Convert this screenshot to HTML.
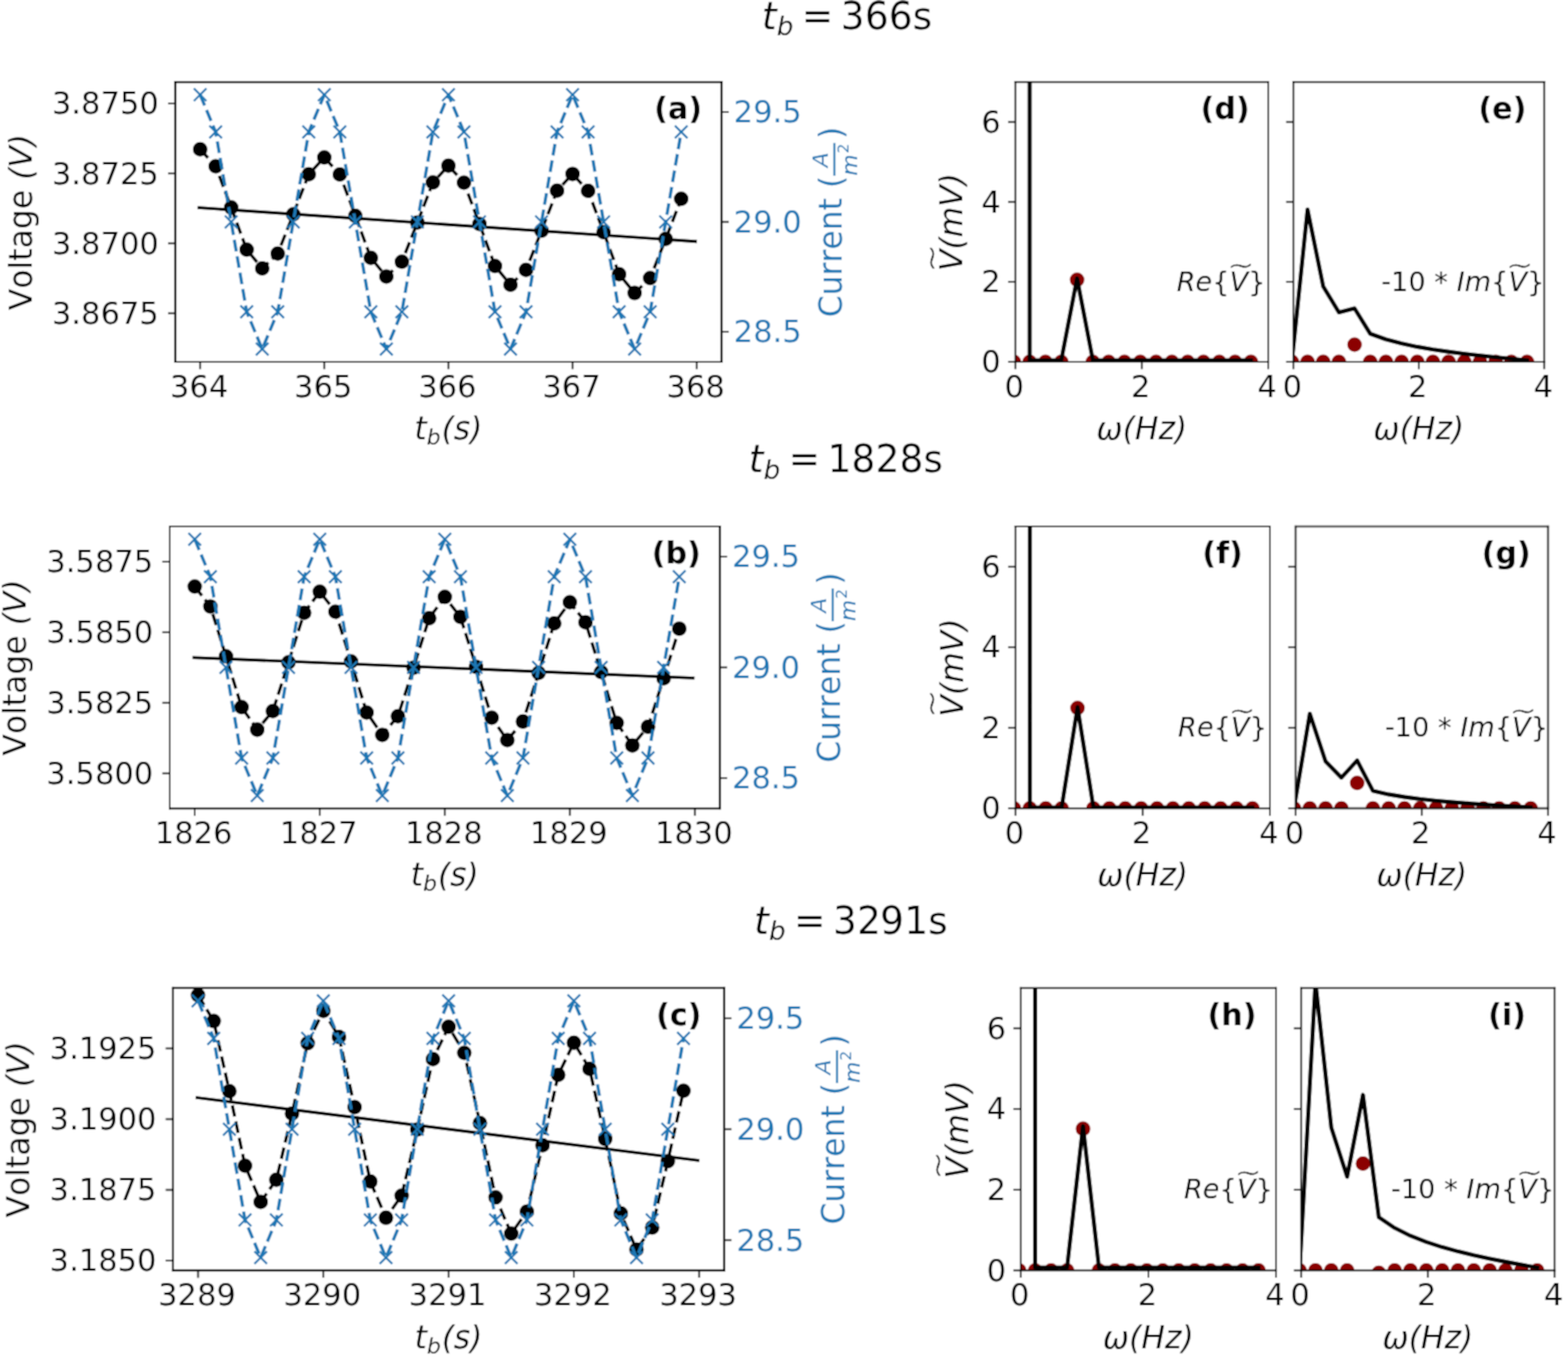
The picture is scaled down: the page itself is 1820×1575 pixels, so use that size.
<!DOCTYPE html>
<html><head><meta charset="utf-8"><title>figure</title>
<style>html,body{margin:0;padding:0;background:#fff;overflow:hidden;}svg{display:block;} #fig{width:1820px;height:1575px;overflow:hidden;}</style>
</head><body><div id="fig">
<svg width="1820" height="1575" viewBox="0 0 748.8 648" version="1.1"><defs><filter id="soft" x="0" y="0" width="748.8" height="648" filterUnits="userSpaceOnUse"><feConvolveMatrix order="3" kernelMatrix="1 2 1 2 4 2 1 2 1" divisor="16" edgeMode="duplicate" preserveAlpha="false"/></filter></defs><g filter="url(#soft)">
<defs>
<style type="text/css">*{stroke-linejoin: round; stroke-linecap: butt}</style>
</defs>
<g id="figure_1">
<g id="patch_1">
<path d="M 0 648 L 748.8 648 L 748.8 0 L 0 0 z
" style="fill: #ffffff"/>
</g>
<g id="axes_1">
<g id="patch_2">
<path d="M 83.725 172.758 L 344.571 172.758 L 344.571 39.168 L 83.725 39.168 z
" style="fill: #ffffff"/>
</g>
<g id="matplotlib.axis_1">
<g id="xtick_1">
<g id="line2d_1">
<g>
<path d="M 0 0 L 0 3.5 " style="stroke: #000000; stroke-width: 0.8" transform="translate(95.582 172.758)"/>
</g>
</g>
<g id="text_1">
<text style="font-size: 14.6px; font-family: 'DejaVu Sans', sans-serif; text-anchor: middle" x="95.082" y="189.602" transform="rotate(-0 95.082 189.602)">364</text>
</g>
</g>
<g id="xtick_2">
<g id="line2d_2">
<g>
<path d="M 0 0 L 0 3.5 " style="stroke: #000000; stroke-width: 0.8" transform="translate(154.865 172.758)"/>
</g>
</g>
<g id="text_2">
<text style="font-size: 14.6px; font-family: 'DejaVu Sans', sans-serif; text-anchor: middle" x="154.365" y="189.602" transform="rotate(-0 154.365 189.602)">365</text>
</g>
</g>
<g id="xtick_3">
<g id="line2d_3">
<g>
<path d="M 0 0 L 0 3.5 " style="stroke: #000000; stroke-width: 0.8" transform="translate(214.148 172.758)"/>
</g>
</g>
<g id="text_3">
<text style="font-size: 14.6px; font-family: 'DejaVu Sans', sans-serif; text-anchor: middle" x="213.649" y="189.602" transform="rotate(-0 213.649 189.602)">366</text>
</g>
</g>
<g id="xtick_4">
<g id="line2d_4">
<g>
<path d="M 0 0 L 0 3.5 " style="stroke: #000000; stroke-width: 0.8" transform="translate(273.431 172.758)"/>
</g>
</g>
<g id="text_4">
<text style="font-size: 14.6px; font-family: 'DejaVu Sans', sans-serif; text-anchor: middle" x="272.932" y="189.602" transform="rotate(-0 272.932 189.602)">367</text>
</g>
</g>
<g id="xtick_5">
<g id="line2d_5">
<g>
<path d="M 0 0 L 0 3.5 " style="stroke: #000000; stroke-width: 0.8" transform="translate(332.714 172.758)"/>
</g>
</g>
<g id="text_5">
<text style="font-size: 14.6px; font-family: 'DejaVu Sans', sans-serif; text-anchor: middle" x="332.215" y="189.602" transform="rotate(-0 332.215 189.602)">368</text>
</g>
</g>
<g id="text_6">
<g transform="translate(197.873 210.486)">
<text>
<tspan x="0" y="-0.625" style="font-style: oblique; font-size: 15px; font-family: 'DejaVu Sans', sans-serif">t</tspan>
<tspan x="18.808" y="-0.625" style="font-style: oblique; font-size: 15px; font-family: 'DejaVu Sans', sans-serif">s</tspan>
<tspan x="5.881" y="1.835" style="font-style: oblique; font-size: 10.5px; font-family: 'DejaVu Sans', sans-serif">b</tspan>
<tspan x="12.956" y="-0.625" style="font-style: oblique; font-size: 15px; font-family: 'DejaVu Sans', sans-serif">(</tspan>
<tspan x="26.623" y="-0.625" style="font-style: oblique; font-size: 15px; font-family: 'DejaVu Sans', sans-serif">)</tspan>
</text>
</g>
</g>
</g>
<g id="matplotlib.axis_2">
<g id="ytick_1">
<g id="line2d_6">
<g>
<path d="M 0 0 L -3.5 0 " style="stroke: #000000; stroke-width: 0.8" transform="translate(83.725 149.596)"/>
</g>
</g>
<g id="text_7">
<text style="font-size: 14.6px; font-family: 'DejaVu Sans', sans-serif; text-anchor: end" x="75.865" y="154.643" transform="rotate(-0 75.865 154.643)">3.8675</text>
</g>
</g>
<g id="ytick_2">
<g id="line2d_7">
<g>
<path d="M 0 0 L -3.5 0 " style="stroke: #000000; stroke-width: 0.8" transform="translate(83.725 116.201)"/>
</g>
</g>
<g id="text_8">
<text style="font-size: 14.6px; font-family: 'DejaVu Sans', sans-serif; text-anchor: end" x="75.865" y="121.249" transform="rotate(-0 75.865 121.249)">3.8700</text>
</g>
</g>
<g id="ytick_3">
<g id="line2d_8">
<g>
<path d="M 0 0 L -3.5 0 " style="stroke: #000000; stroke-width: 0.8" transform="translate(83.725 82.807)"/>
</g>
</g>
<g id="text_9">
<text style="font-size: 14.6px; font-family: 'DejaVu Sans', sans-serif; text-anchor: end" x="75.865" y="87.854" transform="rotate(-0 75.865 87.854)">3.8725</text>
</g>
</g>
<g id="ytick_4">
<g id="line2d_9">
<g>
<path d="M 0 0 L -3.5 0 " style="stroke: #000000; stroke-width: 0.8" transform="translate(83.725 49.412)"/>
</g>
</g>
<g id="text_10">
<text style="font-size: 14.6px; font-family: 'DejaVu Sans', sans-serif; text-anchor: end" x="75.865" y="54.459" transform="rotate(-0 75.865 54.459)">3.8750</text>
</g>
</g>
<g id="text_11">
<g transform="translate(15.679 148.113) rotate(-90)">
<text>
<tspan x="0" y="-0.609" style="font-size: 15px; font-family: 'DejaVu Sans', sans-serif">V</tspan>
<tspan x="10.261" y="-0.609" style="font-size: 15px; font-family: 'DejaVu Sans', sans-serif">o</tspan>
<tspan x="19.438" y="-0.609" style="font-size: 15px; font-family: 'DejaVu Sans', sans-serif">l</tspan>
<tspan x="23.605" y="-0.609" style="font-size: 15px; font-family: 'DejaVu Sans', sans-serif">t</tspan>
<tspan x="29.487" y="-0.609" style="font-size: 15px; font-family: 'DejaVu Sans', sans-serif">a</tspan>
<tspan x="38.679" y="-0.609" style="font-size: 15px; font-family: 'DejaVu Sans', sans-serif">g</tspan>
<tspan x="48.200" y="-0.609" style="font-size: 15px; font-family: 'DejaVu Sans', sans-serif">e</tspan>
<tspan x="57.429" y="-0.609" style="font-size: 15px; font-family: 'DejaVu Sans', sans-serif"> </tspan>
<tspan x="62.197" y="-0.609" style="font-style: oblique; font-size: 15px; font-family: 'DejaVu Sans', sans-serif">(</tspan>
<tspan x="78.310" y="-0.609" style="font-style: oblique; font-size: 15px; font-family: 'DejaVu Sans', sans-serif">)</tspan>
<tspan x="68.049" y="-0.609" style="font-style: oblique; font-size: 15px; font-family: 'DejaVu Sans', sans-serif">V</tspan>
</text>
</g>
</g>
</g>
<g id="line2d_10">
<path d="M 95.582 71.299 L 102.992 79.383 L 110.403 99.102 L 117.813 119.192 L 125.223 128.173 L 132.634 121.069 L 140.044 102.330 L 147.455 83.220 L 154.865 75.219 L 162.275 83.303 L 169.686 103.022 L 177.096 123.113 L 184.507 132.093 L 191.917 124.989 L 199.327 106.250 L 206.738 87.140 L 214.148 79.139 L 221.558 87.223 L 228.969 106.942 L 236.379 127.033 L 243.790 136.013 L 251.200 128.909 L 258.610 110.170 L 266.021 91.060 L 273.431 83.060 L 280.842 91.143 L 288.252 110.862 L 295.662 130.953 L 303.073 139.933 L 310.483 132.829 L 317.894 114.090 L 325.304 94.980 " clip-path="url(#p43261beec4)" style="fill: none; stroke-dasharray: 5.55,2.4; stroke-dashoffset: 0; stroke: #000000; stroke-width: 1.5"/>
<g clip-path="url(#p43261beec4)">
<path d="M 0 3 C 0.795 3 1.558 2.683 2.121 2.121 C 2.683 1.558 3 0.795 3 0 C 3 -0.795 2.683 -1.558 2.121 -2.121 C 1.558 -2.683 0.795 -3 0 -3 C -0.795 -3 -1.558 -2.683 -2.121 -2.121 C -2.683 -1.558 -3 -0.795 -3 0 C -3 0.795 -2.683 1.558 -2.121 2.121 C -1.558 2.683 -0.795 3 0 3 z
" style="stroke: #000000" transform="translate(95.582 71.299)"/>
<path d="M 0 3 C 0.795 3 1.558 2.683 2.121 2.121 C 2.683 1.558 3 0.795 3 0 C 3 -0.795 2.683 -1.558 2.121 -2.121 C 1.558 -2.683 0.795 -3 0 -3 C -0.795 -3 -1.558 -2.683 -2.121 -2.121 C -2.683 -1.558 -3 -0.795 -3 0 C -3 0.795 -2.683 1.558 -2.121 2.121 C -1.558 2.683 -0.795 3 0 3 z
" style="stroke: #000000" transform="translate(102.992 79.383)"/>
<path d="M 0 3 C 0.795 3 1.558 2.683 2.121 2.121 C 2.683 1.558 3 0.795 3 0 C 3 -0.795 2.683 -1.558 2.121 -2.121 C 1.558 -2.683 0.795 -3 0 -3 C -0.795 -3 -1.558 -2.683 -2.121 -2.121 C -2.683 -1.558 -3 -0.795 -3 0 C -3 0.795 -2.683 1.558 -2.121 2.121 C -1.558 2.683 -0.795 3 0 3 z
" style="stroke: #000000" transform="translate(110.403 99.102)"/>
<path d="M 0 3 C 0.795 3 1.558 2.683 2.121 2.121 C 2.683 1.558 3 0.795 3 0 C 3 -0.795 2.683 -1.558 2.121 -2.121 C 1.558 -2.683 0.795 -3 0 -3 C -0.795 -3 -1.558 -2.683 -2.121 -2.121 C -2.683 -1.558 -3 -0.795 -3 0 C -3 0.795 -2.683 1.558 -2.121 2.121 C -1.558 2.683 -0.795 3 0 3 z
" style="stroke: #000000" transform="translate(117.813 119.192)"/>
<path d="M 0 3 C 0.795 3 1.558 2.683 2.121 2.121 C 2.683 1.558 3 0.795 3 0 C 3 -0.795 2.683 -1.558 2.121 -2.121 C 1.558 -2.683 0.795 -3 0 -3 C -0.795 -3 -1.558 -2.683 -2.121 -2.121 C -2.683 -1.558 -3 -0.795 -3 0 C -3 0.795 -2.683 1.558 -2.121 2.121 C -1.558 2.683 -0.795 3 0 3 z
" style="stroke: #000000" transform="translate(125.223 128.173)"/>
<path d="M 0 3 C 0.795 3 1.558 2.683 2.121 2.121 C 2.683 1.558 3 0.795 3 0 C 3 -0.795 2.683 -1.558 2.121 -2.121 C 1.558 -2.683 0.795 -3 0 -3 C -0.795 -3 -1.558 -2.683 -2.121 -2.121 C -2.683 -1.558 -3 -0.795 -3 0 C -3 0.795 -2.683 1.558 -2.121 2.121 C -1.558 2.683 -0.795 3 0 3 z
" style="stroke: #000000" transform="translate(132.634 121.069)"/>
<path d="M 0 3 C 0.795 3 1.558 2.683 2.121 2.121 C 2.683 1.558 3 0.795 3 0 C 3 -0.795 2.683 -1.558 2.121 -2.121 C 1.558 -2.683 0.795 -3 0 -3 C -0.795 -3 -1.558 -2.683 -2.121 -2.121 C -2.683 -1.558 -3 -0.795 -3 0 C -3 0.795 -2.683 1.558 -2.121 2.121 C -1.558 2.683 -0.795 3 0 3 z
" style="stroke: #000000" transform="translate(140.044 102.330)"/>
<path d="M 0 3 C 0.795 3 1.558 2.683 2.121 2.121 C 2.683 1.558 3 0.795 3 0 C 3 -0.795 2.683 -1.558 2.121 -2.121 C 1.558 -2.683 0.795 -3 0 -3 C -0.795 -3 -1.558 -2.683 -2.121 -2.121 C -2.683 -1.558 -3 -0.795 -3 0 C -3 0.795 -2.683 1.558 -2.121 2.121 C -1.558 2.683 -0.795 3 0 3 z
" style="stroke: #000000" transform="translate(147.455 83.220)"/>
<path d="M 0 3 C 0.795 3 1.558 2.683 2.121 2.121 C 2.683 1.558 3 0.795 3 0 C 3 -0.795 2.683 -1.558 2.121 -2.121 C 1.558 -2.683 0.795 -3 0 -3 C -0.795 -3 -1.558 -2.683 -2.121 -2.121 C -2.683 -1.558 -3 -0.795 -3 0 C -3 0.795 -2.683 1.558 -2.121 2.121 C -1.558 2.683 -0.795 3 0 3 z
" style="stroke: #000000" transform="translate(154.865 75.219)"/>
<path d="M 0 3 C 0.795 3 1.558 2.683 2.121 2.121 C 2.683 1.558 3 0.795 3 0 C 3 -0.795 2.683 -1.558 2.121 -2.121 C 1.558 -2.683 0.795 -3 0 -3 C -0.795 -3 -1.558 -2.683 -2.121 -2.121 C -2.683 -1.558 -3 -0.795 -3 0 C -3 0.795 -2.683 1.558 -2.121 2.121 C -1.558 2.683 -0.795 3 0 3 z
" style="stroke: #000000" transform="translate(162.275 83.303)"/>
<path d="M 0 3 C 0.795 3 1.558 2.683 2.121 2.121 C 2.683 1.558 3 0.795 3 0 C 3 -0.795 2.683 -1.558 2.121 -2.121 C 1.558 -2.683 0.795 -3 0 -3 C -0.795 -3 -1.558 -2.683 -2.121 -2.121 C -2.683 -1.558 -3 -0.795 -3 0 C -3 0.795 -2.683 1.558 -2.121 2.121 C -1.558 2.683 -0.795 3 0 3 z
" style="stroke: #000000" transform="translate(169.686 103.022)"/>
<path d="M 0 3 C 0.795 3 1.558 2.683 2.121 2.121 C 2.683 1.558 3 0.795 3 0 C 3 -0.795 2.683 -1.558 2.121 -2.121 C 1.558 -2.683 0.795 -3 0 -3 C -0.795 -3 -1.558 -2.683 -2.121 -2.121 C -2.683 -1.558 -3 -0.795 -3 0 C -3 0.795 -2.683 1.558 -2.121 2.121 C -1.558 2.683 -0.795 3 0 3 z
" style="stroke: #000000" transform="translate(177.096 123.113)"/>
<path d="M 0 3 C 0.795 3 1.558 2.683 2.121 2.121 C 2.683 1.558 3 0.795 3 0 C 3 -0.795 2.683 -1.558 2.121 -2.121 C 1.558 -2.683 0.795 -3 0 -3 C -0.795 -3 -1.558 -2.683 -2.121 -2.121 C -2.683 -1.558 -3 -0.795 -3 0 C -3 0.795 -2.683 1.558 -2.121 2.121 C -1.558 2.683 -0.795 3 0 3 z
" style="stroke: #000000" transform="translate(184.507 132.093)"/>
<path d="M 0 3 C 0.795 3 1.558 2.683 2.121 2.121 C 2.683 1.558 3 0.795 3 0 C 3 -0.795 2.683 -1.558 2.121 -2.121 C 1.558 -2.683 0.795 -3 0 -3 C -0.795 -3 -1.558 -2.683 -2.121 -2.121 C -2.683 -1.558 -3 -0.795 -3 0 C -3 0.795 -2.683 1.558 -2.121 2.121 C -1.558 2.683 -0.795 3 0 3 z
" style="stroke: #000000" transform="translate(191.917 124.989)"/>
<path d="M 0 3 C 0.795 3 1.558 2.683 2.121 2.121 C 2.683 1.558 3 0.795 3 0 C 3 -0.795 2.683 -1.558 2.121 -2.121 C 1.558 -2.683 0.795 -3 0 -3 C -0.795 -3 -1.558 -2.683 -2.121 -2.121 C -2.683 -1.558 -3 -0.795 -3 0 C -3 0.795 -2.683 1.558 -2.121 2.121 C -1.558 2.683 -0.795 3 0 3 z
" style="stroke: #000000" transform="translate(199.327 106.250)"/>
<path d="M 0 3 C 0.795 3 1.558 2.683 2.121 2.121 C 2.683 1.558 3 0.795 3 0 C 3 -0.795 2.683 -1.558 2.121 -2.121 C 1.558 -2.683 0.795 -3 0 -3 C -0.795 -3 -1.558 -2.683 -2.121 -2.121 C -2.683 -1.558 -3 -0.795 -3 0 C -3 0.795 -2.683 1.558 -2.121 2.121 C -1.558 2.683 -0.795 3 0 3 z
" style="stroke: #000000" transform="translate(206.738 87.140)"/>
<path d="M 0 3 C 0.795 3 1.558 2.683 2.121 2.121 C 2.683 1.558 3 0.795 3 0 C 3 -0.795 2.683 -1.558 2.121 -2.121 C 1.558 -2.683 0.795 -3 0 -3 C -0.795 -3 -1.558 -2.683 -2.121 -2.121 C -2.683 -1.558 -3 -0.795 -3 0 C -3 0.795 -2.683 1.558 -2.121 2.121 C -1.558 2.683 -0.795 3 0 3 z
" style="stroke: #000000" transform="translate(214.148 79.139)"/>
<path d="M 0 3 C 0.795 3 1.558 2.683 2.121 2.121 C 2.683 1.558 3 0.795 3 0 C 3 -0.795 2.683 -1.558 2.121 -2.121 C 1.558 -2.683 0.795 -3 0 -3 C -0.795 -3 -1.558 -2.683 -2.121 -2.121 C -2.683 -1.558 -3 -0.795 -3 0 C -3 0.795 -2.683 1.558 -2.121 2.121 C -1.558 2.683 -0.795 3 0 3 z
" style="stroke: #000000" transform="translate(221.558 87.223)"/>
<path d="M 0 3 C 0.795 3 1.558 2.683 2.121 2.121 C 2.683 1.558 3 0.795 3 0 C 3 -0.795 2.683 -1.558 2.121 -2.121 C 1.558 -2.683 0.795 -3 0 -3 C -0.795 -3 -1.558 -2.683 -2.121 -2.121 C -2.683 -1.558 -3 -0.795 -3 0 C -3 0.795 -2.683 1.558 -2.121 2.121 C -1.558 2.683 -0.795 3 0 3 z
" style="stroke: #000000" transform="translate(228.969 106.942)"/>
<path d="M 0 3 C 0.795 3 1.558 2.683 2.121 2.121 C 2.683 1.558 3 0.795 3 0 C 3 -0.795 2.683 -1.558 2.121 -2.121 C 1.558 -2.683 0.795 -3 0 -3 C -0.795 -3 -1.558 -2.683 -2.121 -2.121 C -2.683 -1.558 -3 -0.795 -3 0 C -3 0.795 -2.683 1.558 -2.121 2.121 C -1.558 2.683 -0.795 3 0 3 z
" style="stroke: #000000" transform="translate(236.379 127.033)"/>
<path d="M 0 3 C 0.795 3 1.558 2.683 2.121 2.121 C 2.683 1.558 3 0.795 3 0 C 3 -0.795 2.683 -1.558 2.121 -2.121 C 1.558 -2.683 0.795 -3 0 -3 C -0.795 -3 -1.558 -2.683 -2.121 -2.121 C -2.683 -1.558 -3 -0.795 -3 0 C -3 0.795 -2.683 1.558 -2.121 2.121 C -1.558 2.683 -0.795 3 0 3 z
" style="stroke: #000000" transform="translate(243.790 136.013)"/>
<path d="M 0 3 C 0.795 3 1.558 2.683 2.121 2.121 C 2.683 1.558 3 0.795 3 0 C 3 -0.795 2.683 -1.558 2.121 -2.121 C 1.558 -2.683 0.795 -3 0 -3 C -0.795 -3 -1.558 -2.683 -2.121 -2.121 C -2.683 -1.558 -3 -0.795 -3 0 C -3 0.795 -2.683 1.558 -2.121 2.121 C -1.558 2.683 -0.795 3 0 3 z
" style="stroke: #000000" transform="translate(251.200 128.909)"/>
<path d="M 0 3 C 0.795 3 1.558 2.683 2.121 2.121 C 2.683 1.558 3 0.795 3 0 C 3 -0.795 2.683 -1.558 2.121 -2.121 C 1.558 -2.683 0.795 -3 0 -3 C -0.795 -3 -1.558 -2.683 -2.121 -2.121 C -2.683 -1.558 -3 -0.795 -3 0 C -3 0.795 -2.683 1.558 -2.121 2.121 C -1.558 2.683 -0.795 3 0 3 z
" style="stroke: #000000" transform="translate(258.610 110.170)"/>
<path d="M 0 3 C 0.795 3 1.558 2.683 2.121 2.121 C 2.683 1.558 3 0.795 3 0 C 3 -0.795 2.683 -1.558 2.121 -2.121 C 1.558 -2.683 0.795 -3 0 -3 C -0.795 -3 -1.558 -2.683 -2.121 -2.121 C -2.683 -1.558 -3 -0.795 -3 0 C -3 0.795 -2.683 1.558 -2.121 2.121 C -1.558 2.683 -0.795 3 0 3 z
" style="stroke: #000000" transform="translate(266.021 91.060)"/>
<path d="M 0 3 C 0.795 3 1.558 2.683 2.121 2.121 C 2.683 1.558 3 0.795 3 0 C 3 -0.795 2.683 -1.558 2.121 -2.121 C 1.558 -2.683 0.795 -3 0 -3 C -0.795 -3 -1.558 -2.683 -2.121 -2.121 C -2.683 -1.558 -3 -0.795 -3 0 C -3 0.795 -2.683 1.558 -2.121 2.121 C -1.558 2.683 -0.795 3 0 3 z
" style="stroke: #000000" transform="translate(273.431 83.060)"/>
<path d="M 0 3 C 0.795 3 1.558 2.683 2.121 2.121 C 2.683 1.558 3 0.795 3 0 C 3 -0.795 2.683 -1.558 2.121 -2.121 C 1.558 -2.683 0.795 -3 0 -3 C -0.795 -3 -1.558 -2.683 -2.121 -2.121 C -2.683 -1.558 -3 -0.795 -3 0 C -3 0.795 -2.683 1.558 -2.121 2.121 C -1.558 2.683 -0.795 3 0 3 z
" style="stroke: #000000" transform="translate(280.842 91.143)"/>
<path d="M 0 3 C 0.795 3 1.558 2.683 2.121 2.121 C 2.683 1.558 3 0.795 3 0 C 3 -0.795 2.683 -1.558 2.121 -2.121 C 1.558 -2.683 0.795 -3 0 -3 C -0.795 -3 -1.558 -2.683 -2.121 -2.121 C -2.683 -1.558 -3 -0.795 -3 0 C -3 0.795 -2.683 1.558 -2.121 2.121 C -1.558 2.683 -0.795 3 0 3 z
" style="stroke: #000000" transform="translate(288.252 110.862)"/>
<path d="M 0 3 C 0.795 3 1.558 2.683 2.121 2.121 C 2.683 1.558 3 0.795 3 0 C 3 -0.795 2.683 -1.558 2.121 -2.121 C 1.558 -2.683 0.795 -3 0 -3 C -0.795 -3 -1.558 -2.683 -2.121 -2.121 C -2.683 -1.558 -3 -0.795 -3 0 C -3 0.795 -2.683 1.558 -2.121 2.121 C -1.558 2.683 -0.795 3 0 3 z
" style="stroke: #000000" transform="translate(295.662 130.953)"/>
<path d="M 0 3 C 0.795 3 1.558 2.683 2.121 2.121 C 2.683 1.558 3 0.795 3 0 C 3 -0.795 2.683 -1.558 2.121 -2.121 C 1.558 -2.683 0.795 -3 0 -3 C -0.795 -3 -1.558 -2.683 -2.121 -2.121 C -2.683 -1.558 -3 -0.795 -3 0 C -3 0.795 -2.683 1.558 -2.121 2.121 C -1.558 2.683 -0.795 3 0 3 z
" style="stroke: #000000" transform="translate(303.073 139.933)"/>
<path d="M 0 3 C 0.795 3 1.558 2.683 2.121 2.121 C 2.683 1.558 3 0.795 3 0 C 3 -0.795 2.683 -1.558 2.121 -2.121 C 1.558 -2.683 0.795 -3 0 -3 C -0.795 -3 -1.558 -2.683 -2.121 -2.121 C -2.683 -1.558 -3 -0.795 -3 0 C -3 0.795 -2.683 1.558 -2.121 2.121 C -1.558 2.683 -0.795 3 0 3 z
" style="stroke: #000000" transform="translate(310.483 132.829)"/>
<path d="M 0 3 C 0.795 3 1.558 2.683 2.121 2.121 C 2.683 1.558 3 0.795 3 0 C 3 -0.795 2.683 -1.558 2.121 -2.121 C 1.558 -2.683 0.795 -3 0 -3 C -0.795 -3 -1.558 -2.683 -2.121 -2.121 C -2.683 -1.558 -3 -0.795 -3 0 C -3 0.795 -2.683 1.558 -2.121 2.121 C -1.558 2.683 -0.795 3 0 3 z
" style="stroke: #000000" transform="translate(317.894 114.090)"/>
<path d="M 0 3 C 0.795 3 1.558 2.683 2.121 2.121 C 2.683 1.558 3 0.795 3 0 C 3 -0.795 2.683 -1.558 2.121 -2.121 C 1.558 -2.683 0.795 -3 0 -3 C -0.795 -3 -1.558 -2.683 -2.121 -2.121 C -2.683 -1.558 -3 -0.795 -3 0 C -3 0.795 -2.683 1.558 -2.121 2.121 C -1.558 2.683 -0.795 3 0 3 z
" style="stroke: #000000" transform="translate(325.304 94.980)"/>
</g>
</g>
<g id="line2d_11">
<path d="M 95.090 99.195 L 332.095 115.282 " clip-path="url(#p43261beec4)" style="fill: none; stroke: #000000; stroke-width: 1.5; stroke-linecap: square"/>
</g>
<g id="patch_3">
<path d="M 83.725 172.758 L 83.725 39.168 " style="fill: none; stroke: #000000; stroke-width: 0.8; stroke-linejoin: miter; stroke-linecap: square"/>
</g>
<g id="patch_4">
<path d="M 344.571 172.758 L 344.571 39.168 " style="fill: none; stroke: #000000; stroke-width: 0.8; stroke-linejoin: miter; stroke-linecap: square"/>
</g>
<g id="patch_5">
<path d="M 83.725 172.758 L 344.571 172.758 " style="fill: none; stroke: #000000; stroke-width: 0.8; stroke-linejoin: miter; stroke-linecap: square"/>
</g>
<g id="patch_6">
<path d="M 83.725 39.168 L 344.571 39.168 " style="fill: none; stroke: #000000; stroke-width: 0.8; stroke-linejoin: miter; stroke-linecap: square"/>
</g>
</g>
<g id="axes_2">
<g id="matplotlib.axis_3">
<g id="ytick_5">
<g id="line2d_12">
<g>
<path d="M 0 0 L 3.5 0 " style="stroke: #000000; stroke-width: 0.8" transform="translate(344.571 158.437)"/>
</g>
</g>
<g id="text_12">
<text style="font-size: 14.6px; font-family: 'DejaVu Sans', sans-serif; text-anchor: start; fill: #1f77b4" x="350.371" y="163.484" transform="rotate(-0 350.371 163.484)">28.5</text>
</g>
</g>
<g id="ytick_6">
<g id="line2d_13">
<g>
<path d="M 0 0 L 3.5 0 " style="stroke: #000000; stroke-width: 0.8" transform="translate(344.571 105.963)"/>
</g>
</g>
<g id="text_13">
<text style="font-size: 14.6px; font-family: 'DejaVu Sans', sans-serif; text-anchor: start; fill: #1f77b4" x="350.371" y="111.010" transform="rotate(-0 350.371 111.010)">29.0</text>
</g>
</g>
<g id="ytick_7">
<g id="line2d_14">
<g>
<path d="M 0 0 L 3.5 0 " style="stroke: #000000; stroke-width: 0.8" transform="translate(344.571 53.489)"/>
</g>
</g>
<g id="text_14">
<text style="font-size: 14.6px; font-family: 'DejaVu Sans', sans-serif; text-anchor: start; fill: #1f77b4" x="350.371" y="58.536" transform="rotate(-0 350.371 58.536)">29.5</text>
</g>
</g>
<g id="text_15">
<g style="fill: #1f77b4" transform="translate(402.579 151.488) rotate(-90)">
<text>
<tspan x="0" y="-0.773" style="font-size: 15px; font-family: 'DejaVu Sans', sans-serif; fill: #1f77b4">C</tspan>
<tspan x="10.473" y="-0.773" style="font-size: 15px; font-family: 'DejaVu Sans', sans-serif; fill: #1f77b4">u</tspan>
<tspan x="19.980" y="-0.773" style="font-size: 15px; font-family: 'DejaVu Sans', sans-serif; fill: #1f77b4">r</tspan>
<tspan x="26.147" y="-0.773" style="font-size: 15px; font-family: 'DejaVu Sans', sans-serif; fill: #1f77b4">r</tspan>
<tspan x="32.314" y="-0.773" style="font-size: 15px; font-family: 'DejaVu Sans', sans-serif; fill: #1f77b4">e</tspan>
<tspan x="41.542" y="-0.773" style="font-size: 15px; font-family: 'DejaVu Sans', sans-serif; fill: #1f77b4">n</tspan>
<tspan x="51.049" y="-0.773" style="font-size: 15px; font-family: 'DejaVu Sans', sans-serif; fill: #1f77b4">t</tspan>
<tspan x="56.931" y="-0.773" style="font-size: 15px; font-family: 'DejaVu Sans', sans-serif; fill: #1f77b4"> </tspan>
<tspan x="61.699" y="-0.773" style="font-size: 15px; font-family: 'DejaVu Sans', sans-serif; fill: #1f77b4">(</tspan>
<tspan x="85.106" y="-0.773" style="font-size: 15px; font-family: 'DejaVu Sans', sans-serif; fill: #1f77b4">)</tspan>
<tspan x="67.551" y="6.822" style="font-style: oblique; font-size: 10.5px; font-family: 'DejaVu Sans', sans-serif; fill: #1f77b4">m</tspan>
<tspan x="71.551" y="-7.343" style="font-style: oblique; font-size: 10.5px; font-family: 'DejaVu Sans', sans-serif; fill: #1f77b4">A</tspan>
<tspan x="78.268" y="2.802" style="font-size: 7.35px; font-family: 'DejaVu Sans', sans-serif; fill: #1f77b4">2</tspan>
</text>
<rect x="67.551" y="-4.593" width="15.680" height="0.937"/>
</g>
</g>
</g>
<g id="line2d_15">
<path d="M 95.582 45.240 L 102.992 63.025 L 110.403 105.963 L 117.813 148.901 L 125.223 166.686 L 132.634 148.901 L 140.044 105.963 L 147.455 63.025 L 154.865 45.240 L 162.275 63.025 L 169.686 105.963 L 177.096 148.901 L 184.507 166.686 L 191.917 148.901 L 199.327 105.963 L 206.738 63.025 L 214.148 45.240 L 221.558 63.025 L 228.969 105.963 L 236.379 148.901 L 243.790 166.686 L 251.200 148.901 L 258.610 105.963 L 266.021 63.025 L 273.431 45.240 L 280.842 63.025 L 288.252 105.963 L 295.662 148.901 L 303.073 166.686 L 310.483 148.901 L 317.894 105.963 L 325.304 63.025 " clip-path="url(#pedec864f1b)" style="fill: none; stroke-dasharray: 5.55,2.4; stroke-dashoffset: 0; stroke: #1f77b4; stroke-width: 1.5"/>
<g clip-path="url(#pedec864f1b)">
<path d="M -3 3 L 3 -3 M -3 -3 L 3 3 " style="fill: #1f77b4; stroke: #1f77b4" transform="translate(95.582 45.240)"/>
<path d="M -3 3 L 3 -3 M -3 -3 L 3 3 " style="fill: #1f77b4; stroke: #1f77b4" transform="translate(102.992 63.025)"/>
<path d="M -3 3 L 3 -3 M -3 -3 L 3 3 " style="fill: #1f77b4; stroke: #1f77b4" transform="translate(110.403 105.963)"/>
<path d="M -3 3 L 3 -3 M -3 -3 L 3 3 " style="fill: #1f77b4; stroke: #1f77b4" transform="translate(117.813 148.901)"/>
<path d="M -3 3 L 3 -3 M -3 -3 L 3 3 " style="fill: #1f77b4; stroke: #1f77b4" transform="translate(125.223 166.686)"/>
<path d="M -3 3 L 3 -3 M -3 -3 L 3 3 " style="fill: #1f77b4; stroke: #1f77b4" transform="translate(132.634 148.901)"/>
<path d="M -3 3 L 3 -3 M -3 -3 L 3 3 " style="fill: #1f77b4; stroke: #1f77b4" transform="translate(140.044 105.963)"/>
<path d="M -3 3 L 3 -3 M -3 -3 L 3 3 " style="fill: #1f77b4; stroke: #1f77b4" transform="translate(147.455 63.025)"/>
<path d="M -3 3 L 3 -3 M -3 -3 L 3 3 " style="fill: #1f77b4; stroke: #1f77b4" transform="translate(154.865 45.240)"/>
<path d="M -3 3 L 3 -3 M -3 -3 L 3 3 " style="fill: #1f77b4; stroke: #1f77b4" transform="translate(162.275 63.025)"/>
<path d="M -3 3 L 3 -3 M -3 -3 L 3 3 " style="fill: #1f77b4; stroke: #1f77b4" transform="translate(169.686 105.963)"/>
<path d="M -3 3 L 3 -3 M -3 -3 L 3 3 " style="fill: #1f77b4; stroke: #1f77b4" transform="translate(177.096 148.901)"/>
<path d="M -3 3 L 3 -3 M -3 -3 L 3 3 " style="fill: #1f77b4; stroke: #1f77b4" transform="translate(184.507 166.686)"/>
<path d="M -3 3 L 3 -3 M -3 -3 L 3 3 " style="fill: #1f77b4; stroke: #1f77b4" transform="translate(191.917 148.901)"/>
<path d="M -3 3 L 3 -3 M -3 -3 L 3 3 " style="fill: #1f77b4; stroke: #1f77b4" transform="translate(199.327 105.963)"/>
<path d="M -3 3 L 3 -3 M -3 -3 L 3 3 " style="fill: #1f77b4; stroke: #1f77b4" transform="translate(206.738 63.025)"/>
<path d="M -3 3 L 3 -3 M -3 -3 L 3 3 " style="fill: #1f77b4; stroke: #1f77b4" transform="translate(214.148 45.240)"/>
<path d="M -3 3 L 3 -3 M -3 -3 L 3 3 " style="fill: #1f77b4; stroke: #1f77b4" transform="translate(221.558 63.025)"/>
<path d="M -3 3 L 3 -3 M -3 -3 L 3 3 " style="fill: #1f77b4; stroke: #1f77b4" transform="translate(228.969 105.963)"/>
<path d="M -3 3 L 3 -3 M -3 -3 L 3 3 " style="fill: #1f77b4; stroke: #1f77b4" transform="translate(236.379 148.901)"/>
<path d="M -3 3 L 3 -3 M -3 -3 L 3 3 " style="fill: #1f77b4; stroke: #1f77b4" transform="translate(243.790 166.686)"/>
<path d="M -3 3 L 3 -3 M -3 -3 L 3 3 " style="fill: #1f77b4; stroke: #1f77b4" transform="translate(251.200 148.901)"/>
<path d="M -3 3 L 3 -3 M -3 -3 L 3 3 " style="fill: #1f77b4; stroke: #1f77b4" transform="translate(258.610 105.963)"/>
<path d="M -3 3 L 3 -3 M -3 -3 L 3 3 " style="fill: #1f77b4; stroke: #1f77b4" transform="translate(266.021 63.025)"/>
<path d="M -3 3 L 3 -3 M -3 -3 L 3 3 " style="fill: #1f77b4; stroke: #1f77b4" transform="translate(273.431 45.240)"/>
<path d="M -3 3 L 3 -3 M -3 -3 L 3 3 " style="fill: #1f77b4; stroke: #1f77b4" transform="translate(280.842 63.025)"/>
<path d="M -3 3 L 3 -3 M -3 -3 L 3 3 " style="fill: #1f77b4; stroke: #1f77b4" transform="translate(288.252 105.963)"/>
<path d="M -3 3 L 3 -3 M -3 -3 L 3 3 " style="fill: #1f77b4; stroke: #1f77b4" transform="translate(295.662 148.901)"/>
<path d="M -3 3 L 3 -3 M -3 -3 L 3 3 " style="fill: #1f77b4; stroke: #1f77b4" transform="translate(303.073 166.686)"/>
<path d="M -3 3 L 3 -3 M -3 -3 L 3 3 " style="fill: #1f77b4; stroke: #1f77b4" transform="translate(310.483 148.901)"/>
<path d="M -3 3 L 3 -3 M -3 -3 L 3 3 " style="fill: #1f77b4; stroke: #1f77b4" transform="translate(317.894 105.963)"/>
<path d="M -3 3 L 3 -3 M -3 -3 L 3 3 " style="fill: #1f77b4; stroke: #1f77b4" transform="translate(325.304 63.025)"/>
</g>
</g>
<g id="patch_7">
<path d="M 83.725 172.758 L 83.725 39.168 " style="fill: none; stroke: #000000; stroke-width: 0.8; stroke-linejoin: miter; stroke-linecap: square"/>
</g>
<g id="patch_8">
<path d="M 344.571 172.758 L 344.571 39.168 " style="fill: none; stroke: #000000; stroke-width: 0.8; stroke-linejoin: miter; stroke-linecap: square"/>
</g>
<g id="patch_9">
<path d="M 83.725 172.758 L 344.571 172.758 " style="fill: none; stroke: #000000; stroke-width: 0.8; stroke-linejoin: miter; stroke-linecap: square"/>
</g>
<g id="patch_10">
<path d="M 83.725 39.168 L 344.571 39.168 " style="fill: none; stroke: #000000; stroke-width: 0.8; stroke-linejoin: miter; stroke-linecap: square"/>
</g>
</g>
<g id="axes_3">
<g id="patch_11">
<path d="M 484.909 172.758 L 605.664 172.758 L 605.664 39.168 L 484.909 39.168 z
" style="fill: #ffffff"/>
</g>
<g id="matplotlib.axis_4">
<g id="xtick_6">
<g id="line2d_16">
<g>
<path d="M 0 0 L 0 3.5 " style="stroke: #000000; stroke-width: 0.8" transform="translate(484.909 172.758)"/>
</g>
</g>
<g id="text_16">
<text style="font-size: 14.6px; font-family: 'DejaVu Sans', sans-serif; text-anchor: middle" x="484.410" y="189.602" transform="rotate(-0 484.410 189.602)">0</text>
</g>
</g>
<g id="xtick_7">
<g id="line2d_17">
<g>
<path d="M 0 0 L 0 3.5 " style="stroke: #000000; stroke-width: 0.8" transform="translate(545.286 172.758)"/>
</g>
</g>
<g id="text_17">
<text style="font-size: 14.6px; font-family: 'DejaVu Sans', sans-serif; text-anchor: middle" x="544.787" y="189.602" transform="rotate(-0 544.787 189.602)">2</text>
</g>
</g>
<g id="xtick_8">
<g id="line2d_18">
<g>
<path d="M 0 0 L 0 3.5 " style="stroke: #000000; stroke-width: 0.8" transform="translate(605.664 172.758)"/>
</g>
</g>
<g id="text_18">
<text style="font-size: 14.6px; font-family: 'DejaVu Sans', sans-serif; text-anchor: middle" x="605.164" y="189.602" transform="rotate(-0 605.164 189.602)">4</text>
</g>
</g>
<g id="text_19">
<g transform="translate(523.536 210.486)">
<text>
<tspan x="0" y="-0.625" style="font-style: oblique; font-size: 15px; font-family: 'DejaVu Sans', sans-serif">ω</tspan>
<tspan x="18.413" y="-0.625" style="font-style: oblique; font-size: 15px; font-family: 'DejaVu Sans', sans-serif">H</tspan>
<tspan x="29.692" y="-0.625" style="font-style: oblique; font-size: 15px; font-family: 'DejaVu Sans', sans-serif">z</tspan>
<tspan x="12.561" y="-0.625" style="font-style: oblique; font-size: 15px; font-family: 'DejaVu Sans', sans-serif">(</tspan>
<tspan x="37.565" y="-0.625" style="font-style: oblique; font-size: 15px; font-family: 'DejaVu Sans', sans-serif">)</tspan>
</text>
</g>
</g>
</g>
<g id="matplotlib.axis_5">
<g id="ytick_8">
<g id="line2d_19">
<g>
<path d="M 0 0 L -3.5 0 " style="stroke: #000000; stroke-width: 0.8" transform="translate(484.909 172.758)"/>
</g>
</g>
<g id="text_20">
<text style="font-size: 14.6px; font-family: 'DejaVu Sans', sans-serif; text-anchor: end" x="477.909" y="177.806" transform="rotate(-0 477.909 177.806)">0</text>
</g>
</g>
<g id="ytick_9">
<g id="line2d_20">
<g>
<path d="M 0 0 L -3.5 0 " style="stroke: #000000; stroke-width: 0.8" transform="translate(484.909 134.590)"/>
</g>
</g>
<g id="text_21">
<text style="font-size: 14.6px; font-family: 'DejaVu Sans', sans-serif; text-anchor: end" x="477.909" y="139.637" transform="rotate(-0 477.909 139.637)">2</text>
</g>
</g>
<g id="ytick_10">
<g id="line2d_21">
<g>
<path d="M 0 0 L -3.5 0 " style="stroke: #000000; stroke-width: 0.8" transform="translate(484.909 96.421)"/>
</g>
</g>
<g id="text_22">
<text style="font-size: 14.6px; font-family: 'DejaVu Sans', sans-serif; text-anchor: end" x="477.909" y="101.468" transform="rotate(-0 477.909 101.468)">4</text>
</g>
</g>
<g id="ytick_11">
<g id="line2d_22">
<g>
<path d="M 0 0 L -3.5 0 " style="stroke: #000000; stroke-width: 0.8" transform="translate(484.909 58.252)"/>
</g>
</g>
<g id="text_23">
<text style="font-size: 14.6px; font-family: 'DejaVu Sans', sans-serif; text-anchor: end" x="477.909" y="63.299" transform="rotate(-0 477.909 63.299)">6</text>
</g>
</g>
<g id="text_24">
<g transform="translate(460.400 129.438) rotate(-90)">
<text>
<tspan x="0" y="-0.671" style="font-style: oblique; font-size: 15px; font-family: 'DejaVu Sans', sans-serif">V</tspan>
<tspan x="16.113" y="-0.671" style="font-style: oblique; font-size: 15px; font-family: 'DejaVu Sans', sans-serif">m</tspan>
<tspan x="30.725" y="-0.671" style="font-style: oblique; font-size: 15px; font-family: 'DejaVu Sans', sans-serif">V</tspan>
<tspan x="10.261" y="-0.671" style="font-style: oblique; font-size: 15px; font-family: 'DejaVu Sans', sans-serif">(</tspan>
<tspan x="40.986" y="-0.671" style="font-style: oblique; font-size: 15px; font-family: 'DejaVu Sans', sans-serif">)</tspan>
</text>
<text transform="translate(-0.261 -10.137) scale(1.020 1)" style="font-weight: 200; font-size: 15.000px; font-family: 'DejaVu Sans', sans-serif; stroke: #000000; stroke-width: 0.220">~</text>
</g>
</g>
</g>
<g id="line2d_23">
<g clip-path="url(#pbd62ffe6f1)">
<path d="M 0 3 C 0.795 3 1.558 2.683 2.121 2.121 C 2.683 1.558 3 0.795 3 0 C 3 -0.795 2.683 -1.558 2.121 -2.121 C 1.558 -2.683 0.795 -3 0 -3 C -0.795 -3 -1.558 -2.683 -2.121 -2.121 C -2.683 -1.558 -3 -0.795 -3 0 C -3 0.795 -2.683 1.558 -2.121 2.121 C -1.558 2.683 -0.795 3 0 3 z
" style="fill: #8b0000; stroke: #8b0000" transform="translate(484.169 172.758)"/>
<path d="M 0 3 C 0.795 3 1.558 2.683 2.121 2.121 C 2.683 1.558 3 0.795 3 0 C 3 -0.795 2.683 -1.558 2.121 -2.121 C 1.558 -2.683 0.795 -3 0 -3 C -0.795 -3 -1.558 -2.683 -2.121 -2.121 C -2.683 -1.558 -3 -0.795 -3 0 C -3 0.795 -2.683 1.558 -2.121 2.121 C -1.558 2.683 -0.795 3 0 3 z
" style="fill: #8b0000; stroke: #8b0000" transform="translate(491.716 172.758)"/>
<path d="M 0 3 C 0.795 3 1.558 2.683 2.121 2.121 C 2.683 1.558 3 0.795 3 0 C 3 -0.795 2.683 -1.558 2.121 -2.121 C 1.558 -2.683 0.795 -3 0 -3 C -0.795 -3 -1.558 -2.683 -2.121 -2.121 C -2.683 -1.558 -3 -0.795 -3 0 C -3 0.795 -2.683 1.558 -2.121 2.121 C -1.558 2.683 -0.795 3 0 3 z
" style="fill: #8b0000; stroke: #8b0000" transform="translate(499.263 172.758)"/>
<path d="M 0 3 C 0.795 3 1.558 2.683 2.121 2.121 C 2.683 1.558 3 0.795 3 0 C 3 -0.795 2.683 -1.558 2.121 -2.121 C 1.558 -2.683 0.795 -3 0 -3 C -0.795 -3 -1.558 -2.683 -2.121 -2.121 C -2.683 -1.558 -3 -0.795 -3 0 C -3 0.795 -2.683 1.558 -2.121 2.121 C -1.558 2.683 -0.795 3 0 3 z
" style="fill: #8b0000; stroke: #8b0000" transform="translate(506.810 172.758)"/>
<path d="M 0 3 C 0.795 3 1.558 2.683 2.121 2.121 C 2.683 1.558 3 0.795 3 0 C 3 -0.795 2.683 -1.558 2.121 -2.121 C 1.558 -2.683 0.795 -3 0 -3 C -0.795 -3 -1.558 -2.683 -2.121 -2.121 C -2.683 -1.558 -3 -0.795 -3 0 C -3 0.795 -2.683 1.558 -2.121 2.121 C -1.558 2.683 -0.795 3 0 3 z
" style="fill: #8b0000; stroke: #8b0000" transform="translate(514.357 133.635)"/>
<path d="M 0 3 C 0.795 3 1.558 2.683 2.121 2.121 C 2.683 1.558 3 0.795 3 0 C 3 -0.795 2.683 -1.558 2.121 -2.121 C 1.558 -2.683 0.795 -3 0 -3 C -0.795 -3 -1.558 -2.683 -2.121 -2.121 C -2.683 -1.558 -3 -0.795 -3 0 C -3 0.795 -2.683 1.558 -2.121 2.121 C -1.558 2.683 -0.795 3 0 3 z
" style="fill: #8b0000; stroke: #8b0000" transform="translate(521.904 172.758)"/>
<path d="M 0 3 C 0.795 3 1.558 2.683 2.121 2.121 C 2.683 1.558 3 0.795 3 0 C 3 -0.795 2.683 -1.558 2.121 -2.121 C 1.558 -2.683 0.795 -3 0 -3 C -0.795 -3 -1.558 -2.683 -2.121 -2.121 C -2.683 -1.558 -3 -0.795 -3 0 C -3 0.795 -2.683 1.558 -2.121 2.121 C -1.558 2.683 -0.795 3 0 3 z
" style="fill: #8b0000; stroke: #8b0000" transform="translate(529.452 172.758)"/>
<path d="M 0 3 C 0.795 3 1.558 2.683 2.121 2.121 C 2.683 1.558 3 0.795 3 0 C 3 -0.795 2.683 -1.558 2.121 -2.121 C 1.558 -2.683 0.795 -3 0 -3 C -0.795 -3 -1.558 -2.683 -2.121 -2.121 C -2.683 -1.558 -3 -0.795 -3 0 C -3 0.795 -2.683 1.558 -2.121 2.121 C -1.558 2.683 -0.795 3 0 3 z
" style="fill: #8b0000; stroke: #8b0000" transform="translate(536.999 172.758)"/>
<path d="M 0 3 C 0.795 3 1.558 2.683 2.121 2.121 C 2.683 1.558 3 0.795 3 0 C 3 -0.795 2.683 -1.558 2.121 -2.121 C 1.558 -2.683 0.795 -3 0 -3 C -0.795 -3 -1.558 -2.683 -2.121 -2.121 C -2.683 -1.558 -3 -0.795 -3 0 C -3 0.795 -2.683 1.558 -2.121 2.121 C -1.558 2.683 -0.795 3 0 3 z
" style="fill: #8b0000; stroke: #8b0000" transform="translate(544.546 172.758)"/>
<path d="M 0 3 C 0.795 3 1.558 2.683 2.121 2.121 C 2.683 1.558 3 0.795 3 0 C 3 -0.795 2.683 -1.558 2.121 -2.121 C 1.558 -2.683 0.795 -3 0 -3 C -0.795 -3 -1.558 -2.683 -2.121 -2.121 C -2.683 -1.558 -3 -0.795 -3 0 C -3 0.795 -2.683 1.558 -2.121 2.121 C -1.558 2.683 -0.795 3 0 3 z
" style="fill: #8b0000; stroke: #8b0000" transform="translate(552.093 172.758)"/>
<path d="M 0 3 C 0.795 3 1.558 2.683 2.121 2.121 C 2.683 1.558 3 0.795 3 0 C 3 -0.795 2.683 -1.558 2.121 -2.121 C 1.558 -2.683 0.795 -3 0 -3 C -0.795 -3 -1.558 -2.683 -2.121 -2.121 C -2.683 -1.558 -3 -0.795 -3 0 C -3 0.795 -2.683 1.558 -2.121 2.121 C -1.558 2.683 -0.795 3 0 3 z
" style="fill: #8b0000; stroke: #8b0000" transform="translate(559.640 172.758)"/>
<path d="M 0 3 C 0.795 3 1.558 2.683 2.121 2.121 C 2.683 1.558 3 0.795 3 0 C 3 -0.795 2.683 -1.558 2.121 -2.121 C 1.558 -2.683 0.795 -3 0 -3 C -0.795 -3 -1.558 -2.683 -2.121 -2.121 C -2.683 -1.558 -3 -0.795 -3 0 C -3 0.795 -2.683 1.558 -2.121 2.121 C -1.558 2.683 -0.795 3 0 3 z
" style="fill: #8b0000; stroke: #8b0000" transform="translate(567.187 172.758)"/>
<path d="M 0 3 C 0.795 3 1.558 2.683 2.121 2.121 C 2.683 1.558 3 0.795 3 0 C 3 -0.795 2.683 -1.558 2.121 -2.121 C 1.558 -2.683 0.795 -3 0 -3 C -0.795 -3 -1.558 -2.683 -2.121 -2.121 C -2.683 -1.558 -3 -0.795 -3 0 C -3 0.795 -2.683 1.558 -2.121 2.121 C -1.558 2.683 -0.795 3 0 3 z
" style="fill: #8b0000; stroke: #8b0000" transform="translate(574.734 172.758)"/>
<path d="M 0 3 C 0.795 3 1.558 2.683 2.121 2.121 C 2.683 1.558 3 0.795 3 0 C 3 -0.795 2.683 -1.558 2.121 -2.121 C 1.558 -2.683 0.795 -3 0 -3 C -0.795 -3 -1.558 -2.683 -2.121 -2.121 C -2.683 -1.558 -3 -0.795 -3 0 C -3 0.795 -2.683 1.558 -2.121 2.121 C -1.558 2.683 -0.795 3 0 3 z
" style="fill: #8b0000; stroke: #8b0000" transform="translate(582.282 172.758)"/>
<path d="M 0 3 C 0.795 3 1.558 2.683 2.121 2.121 C 2.683 1.558 3 0.795 3 0 C 3 -0.795 2.683 -1.558 2.121 -2.121 C 1.558 -2.683 0.795 -3 0 -3 C -0.795 -3 -1.558 -2.683 -2.121 -2.121 C -2.683 -1.558 -3 -0.795 -3 0 C -3 0.795 -2.683 1.558 -2.121 2.121 C -1.558 2.683 -0.795 3 0 3 z
" style="fill: #8b0000; stroke: #8b0000" transform="translate(589.829 172.758)"/>
<path d="M 0 3 C 0.795 3 1.558 2.683 2.121 2.121 C 2.683 1.558 3 0.795 3 0 C 3 -0.795 2.683 -1.558 2.121 -2.121 C 1.558 -2.683 0.795 -3 0 -3 C -0.795 -3 -1.558 -2.683 -2.121 -2.121 C -2.683 -1.558 -3 -0.795 -3 0 C -3 0.795 -2.683 1.558 -2.121 2.121 C -1.558 2.683 -0.795 3 0 3 z
" style="fill: #8b0000; stroke: #8b0000" transform="translate(597.376 172.758)"/>
</g>
</g>
<g id="line2d_24">
<path d="M 491.707 -1 L 491.716 172.043 L 499.263 172.043 L 506.810 172.043 L 514.357 132.920 L 521.904 172.043 L 529.452 172.043 L 536.999 172.043 L 544.546 172.043 L 552.093 172.043 L 559.640 172.043 L 567.187 172.043 L 574.734 172.043 L 582.282 172.043 L 589.829 172.043 L 597.376 172.043 " clip-path="url(#pbd62ffe6f1)" style="fill: none; stroke: #000000; stroke-width: 2; stroke-linecap: square"/>
</g>
<g id="patch_12">
<path d="M 484.909 172.758 L 484.909 39.168 " style="fill: none; stroke: #000000; stroke-width: 0.8; stroke-linejoin: miter; stroke-linecap: square"/>
</g>
<g id="patch_13">
<path d="M 605.664 172.758 L 605.664 39.168 " style="fill: none; stroke: #000000; stroke-width: 0.8; stroke-linejoin: miter; stroke-linecap: square"/>
</g>
<g id="patch_14">
<path d="M 484.909 172.758 L 605.664 172.758 " style="fill: none; stroke: #000000; stroke-width: 0.8; stroke-linejoin: miter; stroke-linecap: square"/>
</g>
<g id="patch_15">
<path d="M 484.909 39.168 L 605.664 39.168 " style="fill: none; stroke: #000000; stroke-width: 0.8; stroke-linejoin: miter; stroke-linecap: square"/>
</g>
</g>
<g id="axes_4">
<g id="patch_16">
<path d="M 617.677 172.758 L 737.444 172.758 L 737.444 39.168 L 617.677 39.168 z
" style="fill: #ffffff"/>
</g>
<g id="matplotlib.axis_6">
<g id="xtick_9">
<g id="line2d_25">
<g>
<path d="M 0 0 L 0 3.5 " style="stroke: #000000; stroke-width: 0.8" transform="translate(617.677 172.758)"/>
</g>
</g>
<g id="text_25">
<text style="font-size: 14.6px; font-family: 'DejaVu Sans', sans-serif; text-anchor: middle" x="617.178" y="189.602" transform="rotate(-0 617.178 189.602)">0</text>
</g>
</g>
<g id="xtick_10">
<g id="line2d_26">
<g>
<path d="M 0 0 L 0 3.5 " style="stroke: #000000; stroke-width: 0.8" transform="translate(677.561 172.758)"/>
</g>
</g>
<g id="text_26">
<text style="font-size: 14.6px; font-family: 'DejaVu Sans', sans-serif; text-anchor: middle" x="677.061" y="189.602" transform="rotate(-0 677.061 189.602)">2</text>
</g>
</g>
<g id="xtick_11">
<g id="line2d_27">
<g>
<path d="M 0 0 L 0 3.5 " style="stroke: #000000; stroke-width: 0.8" transform="translate(737.444 172.758)"/>
</g>
</g>
<g id="text_27">
<text style="font-size: 14.6px; font-family: 'DejaVu Sans', sans-serif; text-anchor: middle" x="736.945" y="189.602" transform="rotate(-0 736.945 189.602)">4</text>
</g>
</g>
<g id="text_28">
<g transform="translate(655.811 210.486)">
<text>
<tspan x="0" y="-0.625" style="font-style: oblique; font-size: 15px; font-family: 'DejaVu Sans', sans-serif">ω</tspan>
<tspan x="18.413" y="-0.625" style="font-style: oblique; font-size: 15px; font-family: 'DejaVu Sans', sans-serif">H</tspan>
<tspan x="29.692" y="-0.625" style="font-style: oblique; font-size: 15px; font-family: 'DejaVu Sans', sans-serif">z</tspan>
<tspan x="12.561" y="-0.625" style="font-style: oblique; font-size: 15px; font-family: 'DejaVu Sans', sans-serif">(</tspan>
<tspan x="37.565" y="-0.625" style="font-style: oblique; font-size: 15px; font-family: 'DejaVu Sans', sans-serif">)</tspan>
</text>
</g>
</g>
</g>
<g id="matplotlib.axis_7">
<g id="ytick_12">
<g id="line2d_28">
<g>
<path d="M 0 0 L -3.5 0 " style="stroke: #000000; stroke-width: 0.8" transform="translate(617.677 172.758)"/>
</g>
</g>
</g>
<g id="ytick_13">
<g id="line2d_29">
<g>
<path d="M 0 0 L -3.5 0 " style="stroke: #000000; stroke-width: 0.8" transform="translate(617.677 134.590)"/>
</g>
</g>
</g>
<g id="ytick_14">
<g id="line2d_30">
<g>
<path d="M 0 0 L -3.5 0 " style="stroke: #000000; stroke-width: 0.8" transform="translate(617.677 96.421)"/>
</g>
</g>
</g>
<g id="ytick_15">
<g id="line2d_31">
<g>
<path d="M 0 0 L -3.5 0 " style="stroke: #000000; stroke-width: 0.8" transform="translate(617.677 58.252)"/>
</g>
</g>
</g>
</g>
<g id="line2d_32">
<g clip-path="url(#pbe146e096d)">
<path d="M 0 3 C 0.795 3 1.558 2.683 2.121 2.121 C 2.683 1.558 3 0.795 3 0 C 3 -0.795 2.683 -1.558 2.121 -2.121 C 1.558 -2.683 0.795 -3 0 -3 C -0.795 -3 -1.558 -2.683 -2.121 -2.121 C -2.683 -1.558 -3 -0.795 -3 0 C -3 0.795 -2.683 1.558 -2.121 2.121 C -1.558 2.683 -0.795 3 0 3 z
" style="fill: #8b0000; stroke: #8b0000" transform="translate(616.937 172.758)"/>
<path d="M 0 3 C 0.795 3 1.558 2.683 2.121 2.121 C 2.683 1.558 3 0.795 3 0 C 3 -0.795 2.683 -1.558 2.121 -2.121 C 1.558 -2.683 0.795 -3 0 -3 C -0.795 -3 -1.558 -2.683 -2.121 -2.121 C -2.683 -1.558 -3 -0.795 -3 0 C -3 0.795 -2.683 1.558 -2.121 2.121 C -1.558 2.683 -0.795 3 0 3 z
" style="fill: #8b0000; stroke: #8b0000" transform="translate(624.422 172.758)"/>
<path d="M 0 3 C 0.795 3 1.558 2.683 2.121 2.121 C 2.683 1.558 3 0.795 3 0 C 3 -0.795 2.683 -1.558 2.121 -2.121 C 1.558 -2.683 0.795 -3 0 -3 C -0.795 -3 -1.558 -2.683 -2.121 -2.121 C -2.683 -1.558 -3 -0.795 -3 0 C -3 0.795 -2.683 1.558 -2.121 2.121 C -1.558 2.683 -0.795 3 0 3 z
" style="fill: #8b0000; stroke: #8b0000" transform="translate(631.908 172.758)"/>
<path d="M 0 3 C 0.795 3 1.558 2.683 2.121 2.121 C 2.683 1.558 3 0.795 3 0 C 3 -0.795 2.683 -1.558 2.121 -2.121 C 1.558 -2.683 0.795 -3 0 -3 C -0.795 -3 -1.558 -2.683 -2.121 -2.121 C -2.683 -1.558 -3 -0.795 -3 0 C -3 0.795 -2.683 1.558 -2.121 2.121 C -1.558 2.683 -0.795 3 0 3 z
" style="fill: #8b0000; stroke: #8b0000" transform="translate(639.393 172.758)"/>
<path d="M 0 3 C 0.795 3 1.558 2.683 2.121 2.121 C 2.683 1.558 3 0.795 3 0 C 3 -0.795 2.683 -1.558 2.121 -2.121 C 1.558 -2.683 0.795 -3 0 -3 C -0.795 -3 -1.558 -2.683 -2.121 -2.121 C -2.683 -1.558 -3 -0.795 -3 0 C -3 0.795 -2.683 1.558 -2.121 2.121 C -1.558 2.683 -0.795 3 0 3 z
" style="fill: #8b0000; stroke: #8b0000" transform="translate(646.878 164.552)"/>
<path d="M 0 3 C 0.795 3 1.558 2.683 2.121 2.121 C 2.683 1.558 3 0.795 3 0 C 3 -0.795 2.683 -1.558 2.121 -2.121 C 1.558 -2.683 0.795 -3 0 -3 C -0.795 -3 -1.558 -2.683 -2.121 -2.121 C -2.683 -1.558 -3 -0.795 -3 0 C -3 0.795 -2.683 1.558 -2.121 2.121 C -1.558 2.683 -0.795 3 0 3 z
" style="fill: #8b0000; stroke: #8b0000" transform="translate(654.364 172.758)"/>
<path d="M 0 3 C 0.795 3 1.558 2.683 2.121 2.121 C 2.683 1.558 3 0.795 3 0 C 3 -0.795 2.683 -1.558 2.121 -2.121 C 1.558 -2.683 0.795 -3 0 -3 C -0.795 -3 -1.558 -2.683 -2.121 -2.121 C -2.683 -1.558 -3 -0.795 -3 0 C -3 0.795 -2.683 1.558 -2.121 2.121 C -1.558 2.683 -0.795 3 0 3 z
" style="fill: #8b0000; stroke: #8b0000" transform="translate(661.849 172.758)"/>
<path d="M 0 3 C 0.795 3 1.558 2.683 2.121 2.121 C 2.683 1.558 3 0.795 3 0 C 3 -0.795 2.683 -1.558 2.121 -2.121 C 1.558 -2.683 0.795 -3 0 -3 C -0.795 -3 -1.558 -2.683 -2.121 -2.121 C -2.683 -1.558 -3 -0.795 -3 0 C -3 0.795 -2.683 1.558 -2.121 2.121 C -1.558 2.683 -0.795 3 0 3 z
" style="fill: #8b0000; stroke: #8b0000" transform="translate(669.335 172.758)"/>
<path d="M 0 3 C 0.795 3 1.558 2.683 2.121 2.121 C 2.683 1.558 3 0.795 3 0 C 3 -0.795 2.683 -1.558 2.121 -2.121 C 1.558 -2.683 0.795 -3 0 -3 C -0.795 -3 -1.558 -2.683 -2.121 -2.121 C -2.683 -1.558 -3 -0.795 -3 0 C -3 0.795 -2.683 1.558 -2.121 2.121 C -1.558 2.683 -0.795 3 0 3 z
" style="fill: #8b0000; stroke: #8b0000" transform="translate(676.820 172.758)"/>
<path d="M 0 3 C 0.795 3 1.558 2.683 2.121 2.121 C 2.683 1.558 3 0.795 3 0 C 3 -0.795 2.683 -1.558 2.121 -2.121 C 1.558 -2.683 0.795 -3 0 -3 C -0.795 -3 -1.558 -2.683 -2.121 -2.121 C -2.683 -1.558 -3 -0.795 -3 0 C -3 0.795 -2.683 1.558 -2.121 2.121 C -1.558 2.683 -0.795 3 0 3 z
" style="fill: #8b0000; stroke: #8b0000" transform="translate(684.306 172.758)"/>
<path d="M 0 3 C 0.795 3 1.558 2.683 2.121 2.121 C 2.683 1.558 3 0.795 3 0 C 3 -0.795 2.683 -1.558 2.121 -2.121 C 1.558 -2.683 0.795 -3 0 -3 C -0.795 -3 -1.558 -2.683 -2.121 -2.121 C -2.683 -1.558 -3 -0.795 -3 0 C -3 0.795 -2.683 1.558 -2.121 2.121 C -1.558 2.683 -0.795 3 0 3 z
" style="fill: #8b0000; stroke: #8b0000" transform="translate(691.791 172.758)"/>
<path d="M 0 3 C 0.795 3 1.558 2.683 2.121 2.121 C 2.683 1.558 3 0.795 3 0 C 3 -0.795 2.683 -1.558 2.121 -2.121 C 1.558 -2.683 0.795 -3 0 -3 C -0.795 -3 -1.558 -2.683 -2.121 -2.121 C -2.683 -1.558 -3 -0.795 -3 0 C -3 0.795 -2.683 1.558 -2.121 2.121 C -1.558 2.683 -0.795 3 0 3 z
" style="fill: #8b0000; stroke: #8b0000" transform="translate(699.276 172.758)"/>
<path d="M 0 3 C 0.795 3 1.558 2.683 2.121 2.121 C 2.683 1.558 3 0.795 3 0 C 3 -0.795 2.683 -1.558 2.121 -2.121 C 1.558 -2.683 0.795 -3 0 -3 C -0.795 -3 -1.558 -2.683 -2.121 -2.121 C -2.683 -1.558 -3 -0.795 -3 0 C -3 0.795 -2.683 1.558 -2.121 2.121 C -1.558 2.683 -0.795 3 0 3 z
" style="fill: #8b0000; stroke: #8b0000" transform="translate(706.762 172.758)"/>
<path d="M 0 3 C 0.795 3 1.558 2.683 2.121 2.121 C 2.683 1.558 3 0.795 3 0 C 3 -0.795 2.683 -1.558 2.121 -2.121 C 1.558 -2.683 0.795 -3 0 -3 C -0.795 -3 -1.558 -2.683 -2.121 -2.121 C -2.683 -1.558 -3 -0.795 -3 0 C -3 0.795 -2.683 1.558 -2.121 2.121 C -1.558 2.683 -0.795 3 0 3 z
" style="fill: #8b0000; stroke: #8b0000" transform="translate(714.247 172.758)"/>
<path d="M 0 3 C 0.795 3 1.558 2.683 2.121 2.121 C 2.683 1.558 3 0.795 3 0 C 3 -0.795 2.683 -1.558 2.121 -2.121 C 1.558 -2.683 0.795 -3 0 -3 C -0.795 -3 -1.558 -2.683 -2.121 -2.121 C -2.683 -1.558 -3 -0.795 -3 0 C -3 0.795 -2.683 1.558 -2.121 2.121 C -1.558 2.683 -0.795 3 0 3 z
" style="fill: #8b0000; stroke: #8b0000" transform="translate(721.733 172.758)"/>
<path d="M 0 3 C 0.795 3 1.558 2.683 2.121 2.121 C 2.683 1.558 3 0.795 3 0 C 3 -0.795 2.683 -1.558 2.121 -2.121 C 1.558 -2.683 0.795 -3 0 -3 C -0.795 -3 -1.558 -2.683 -2.121 -2.121 C -2.683 -1.558 -3 -0.795 -3 0 C -3 0.795 -2.683 1.558 -2.121 2.121 C -1.558 2.683 -0.795 3 0 3 z
" style="fill: #8b0000; stroke: #8b0000" transform="translate(729.218 172.758)"/>
</g>
</g>
<g id="line2d_33">
<path d="M 616.937 172.758 L 624.422 100.096 L 631.908 136.779 L 639.393 149.166 L 646.878 147.274 L 654.364 159.369 L 661.849 162.048 L 669.335 164.038 L 676.820 165.602 L 684.306 166.885 L 691.791 167.976 L 699.276 168.933 L 706.762 169.794 L 714.247 170.587 L 721.733 171.335 L 729.218 172.053 " clip-path="url(#pbe146e096d)" style="fill: none; stroke: #000000; stroke-width: 2; stroke-linecap: square"/>
</g>
<g id="patch_17">
<path d="M 617.677 172.758 L 617.677 39.168 " style="fill: none; stroke: #000000; stroke-width: 0.8; stroke-linejoin: miter; stroke-linecap: square"/>
</g>
<g id="patch_18">
<path d="M 737.444 172.758 L 737.444 39.168 " style="fill: none; stroke: #000000; stroke-width: 0.8; stroke-linejoin: miter; stroke-linecap: square"/>
</g>
<g id="patch_19">
<path d="M 617.677 172.758 L 737.444 172.758 " style="fill: none; stroke: #000000; stroke-width: 0.8; stroke-linejoin: miter; stroke-linecap: square"/>
</g>
<g id="patch_20">
<path d="M 617.677 39.168 L 737.444 39.168 " style="fill: none; stroke: #000000; stroke-width: 0.8; stroke-linejoin: miter; stroke-linecap: square"/>
</g>
</g>
<g id="axes_5">
<g id="patch_21">
<path d="M 81.051 386.002 L 343.789 386.002 L 343.789 251.382 L 81.051 251.382 z
" style="fill: #ffffff"/>
</g>
<g id="matplotlib.axis_8">
<g id="xtick_12">
<g id="line2d_34">
<g>
<path d="M 0 0 L 0 3.5 " style="stroke: #000000; stroke-width: 0.8" transform="translate(92.994 386.002)"/>
</g>
</g>
<g id="text_29">
<text style="font-size: 14.6px; font-family: 'DejaVu Sans', sans-serif; text-anchor: middle" x="92.494" y="402.846" transform="rotate(-0 92.494 402.846)">1826</text>
</g>
</g>
<g id="xtick_13">
<g id="line2d_35">
<g>
<path d="M 0 0 L 0 3.5 " style="stroke: #000000; stroke-width: 0.8" transform="translate(152.707 386.002)"/>
</g>
</g>
<g id="text_30">
<text style="font-size: 14.6px; font-family: 'DejaVu Sans', sans-serif; text-anchor: middle" x="152.207" y="402.846" transform="rotate(-0 152.207 402.846)">1827</text>
</g>
</g>
<g id="xtick_14">
<g id="line2d_36">
<g>
<path d="M 0 0 L 0 3.5 " style="stroke: #000000; stroke-width: 0.8" transform="translate(212.420 386.002)"/>
</g>
</g>
<g id="text_31">
<text style="font-size: 14.6px; font-family: 'DejaVu Sans', sans-serif; text-anchor: middle" x="211.921" y="402.846" transform="rotate(-0 211.921 402.846)">1828</text>
</g>
</g>
<g id="xtick_15">
<g id="line2d_37">
<g>
<path d="M 0 0 L 0 3.5 " style="stroke: #000000; stroke-width: 0.8" transform="translate(272.133 386.002)"/>
</g>
</g>
<g id="text_32">
<text style="font-size: 14.6px; font-family: 'DejaVu Sans', sans-serif; text-anchor: middle" x="271.634" y="402.846" transform="rotate(-0 271.634 402.846)">1829</text>
</g>
</g>
<g id="xtick_16">
<g id="line2d_38">
<g>
<path d="M 0 0 L 0 3.5 " style="stroke: #000000; stroke-width: 0.8" transform="translate(331.847 386.002)"/>
</g>
</g>
<g id="text_33">
<text style="font-size: 14.6px; font-family: 'DejaVu Sans', sans-serif; text-anchor: middle" x="331.347" y="402.846" transform="rotate(-0 331.347 402.846)">1830</text>
</g>
</g>
<g id="text_34">
<g transform="translate(196.145 423.730)">
<text>
<tspan x="0" y="-0.625" style="font-style: oblique; font-size: 15px; font-family: 'DejaVu Sans', sans-serif">t</tspan>
<tspan x="18.808" y="-0.625" style="font-style: oblique; font-size: 15px; font-family: 'DejaVu Sans', sans-serif">s</tspan>
<tspan x="5.881" y="1.835" style="font-style: oblique; font-size: 10.5px; font-family: 'DejaVu Sans', sans-serif">b</tspan>
<tspan x="12.956" y="-0.625" style="font-style: oblique; font-size: 15px; font-family: 'DejaVu Sans', sans-serif">(</tspan>
<tspan x="26.623" y="-0.625" style="font-style: oblique; font-size: 15px; font-family: 'DejaVu Sans', sans-serif">)</tspan>
</text>
</g>
</g>
</g>
<g id="matplotlib.axis_9">
<g id="ytick_16">
<g id="line2d_39">
<g>
<path d="M 0 0 L -3.5 0 " style="stroke: #000000; stroke-width: 0.8" transform="translate(81.051 369.298)"/>
</g>
</g>
<g id="text_35">
<text style="font-size: 14.6px; font-family: 'DejaVu Sans', sans-serif; text-anchor: end" x="73.191" y="374.345" transform="rotate(-0 73.191 374.345)">3.5800</text>
</g>
</g>
<g id="ytick_17">
<g id="line2d_40">
<g>
<path d="M 0 0 L -3.5 0 " style="stroke: #000000; stroke-width: 0.8" transform="translate(81.051 335.602)"/>
</g>
</g>
<g id="text_36">
<text style="font-size: 14.6px; font-family: 'DejaVu Sans', sans-serif; text-anchor: end" x="73.191" y="340.649" transform="rotate(-0 73.191 340.649)">3.5825</text>
</g>
</g>
<g id="ytick_18">
<g id="line2d_41">
<g>
<path d="M 0 0 L -3.5 0 " style="stroke: #000000; stroke-width: 0.8" transform="translate(81.051 301.906)"/>
</g>
</g>
<g id="text_37">
<text style="font-size: 14.6px; font-family: 'DejaVu Sans', sans-serif; text-anchor: end" x="73.191" y="306.953" transform="rotate(-0 73.191 306.953)">3.5850</text>
</g>
</g>
<g id="ytick_19">
<g id="line2d_42">
<g>
<path d="M 0 0 L -3.5 0 " style="stroke: #000000; stroke-width: 0.8" transform="translate(81.051 268.210)"/>
</g>
</g>
<g id="text_38">
<text style="font-size: 14.6px; font-family: 'DejaVu Sans', sans-serif; text-anchor: end" x="73.191" y="273.257" transform="rotate(-0 73.191 273.257)">3.5875</text>
</g>
</g>
<g id="text_39">
<g transform="translate(13.005 360.842) rotate(-90)">
<text>
<tspan x="0" y="-0.609" style="font-size: 15px; font-family: 'DejaVu Sans', sans-serif">V</tspan>
<tspan x="10.261" y="-0.609" style="font-size: 15px; font-family: 'DejaVu Sans', sans-serif">o</tspan>
<tspan x="19.438" y="-0.609" style="font-size: 15px; font-family: 'DejaVu Sans', sans-serif">l</tspan>
<tspan x="23.605" y="-0.609" style="font-size: 15px; font-family: 'DejaVu Sans', sans-serif">t</tspan>
<tspan x="29.487" y="-0.609" style="font-size: 15px; font-family: 'DejaVu Sans', sans-serif">a</tspan>
<tspan x="38.679" y="-0.609" style="font-size: 15px; font-family: 'DejaVu Sans', sans-serif">g</tspan>
<tspan x="48.200" y="-0.609" style="font-size: 15px; font-family: 'DejaVu Sans', sans-serif">e</tspan>
<tspan x="57.429" y="-0.609" style="font-size: 15px; font-family: 'DejaVu Sans', sans-serif"> </tspan>
<tspan x="62.197" y="-0.609" style="font-style: oblique; font-size: 15px; font-family: 'DejaVu Sans', sans-serif">(</tspan>
<tspan x="78.310" y="-0.609" style="font-style: oblique; font-size: 15px; font-family: 'DejaVu Sans', sans-serif">)</tspan>
<tspan x="68.049" y="-0.609" style="font-style: oblique; font-size: 15px; font-family: 'DejaVu Sans', sans-serif">V</tspan>
</text>
</g>
</g>
</g>
<g id="line2d_43">
<path d="M 92.994 280.041 L 100.458 289.598 L 107.922 313.404 L 115.386 337.696 L 122.850 348.429 L 130.314 339.500 L 137.779 316.322 L 145.243 292.658 L 152.707 282.553 L 160.171 292.110 L 167.635 315.915 L 175.099 340.207 L 182.563 350.940 L 190.028 342.011 L 197.492 318.834 L 204.956 295.169 L 212.420 285.064 L 219.884 294.621 L 227.348 318.426 L 234.813 342.718 L 242.277 353.452 L 249.741 344.522 L 257.205 321.345 L 264.669 297.681 L 272.133 287.575 L 279.597 297.133 L 287.062 320.938 L 294.526 345.230 L 301.990 355.963 L 309.454 347.034 L 316.918 323.856 L 324.382 300.192 " clip-path="url(#p86b52953e6)" style="fill: none; stroke-dasharray: 5.55,2.4; stroke-dashoffset: 0; stroke: #000000; stroke-width: 1.5"/>
<g clip-path="url(#p86b52953e6)">
<path d="M 0 3 C 0.795 3 1.558 2.683 2.121 2.121 C 2.683 1.558 3 0.795 3 0 C 3 -0.795 2.683 -1.558 2.121 -2.121 C 1.558 -2.683 0.795 -3 0 -3 C -0.795 -3 -1.558 -2.683 -2.121 -2.121 C -2.683 -1.558 -3 -0.795 -3 0 C -3 0.795 -2.683 1.558 -2.121 2.121 C -1.558 2.683 -0.795 3 0 3 z
" style="stroke: #000000" transform="translate(92.994 280.041)"/>
<path d="M 0 3 C 0.795 3 1.558 2.683 2.121 2.121 C 2.683 1.558 3 0.795 3 0 C 3 -0.795 2.683 -1.558 2.121 -2.121 C 1.558 -2.683 0.795 -3 0 -3 C -0.795 -3 -1.558 -2.683 -2.121 -2.121 C -2.683 -1.558 -3 -0.795 -3 0 C -3 0.795 -2.683 1.558 -2.121 2.121 C -1.558 2.683 -0.795 3 0 3 z
" style="stroke: #000000" transform="translate(100.458 289.598)"/>
<path d="M 0 3 C 0.795 3 1.558 2.683 2.121 2.121 C 2.683 1.558 3 0.795 3 0 C 3 -0.795 2.683 -1.558 2.121 -2.121 C 1.558 -2.683 0.795 -3 0 -3 C -0.795 -3 -1.558 -2.683 -2.121 -2.121 C -2.683 -1.558 -3 -0.795 -3 0 C -3 0.795 -2.683 1.558 -2.121 2.121 C -1.558 2.683 -0.795 3 0 3 z
" style="stroke: #000000" transform="translate(107.922 313.404)"/>
<path d="M 0 3 C 0.795 3 1.558 2.683 2.121 2.121 C 2.683 1.558 3 0.795 3 0 C 3 -0.795 2.683 -1.558 2.121 -2.121 C 1.558 -2.683 0.795 -3 0 -3 C -0.795 -3 -1.558 -2.683 -2.121 -2.121 C -2.683 -1.558 -3 -0.795 -3 0 C -3 0.795 -2.683 1.558 -2.121 2.121 C -1.558 2.683 -0.795 3 0 3 z
" style="stroke: #000000" transform="translate(115.386 337.696)"/>
<path d="M 0 3 C 0.795 3 1.558 2.683 2.121 2.121 C 2.683 1.558 3 0.795 3 0 C 3 -0.795 2.683 -1.558 2.121 -2.121 C 1.558 -2.683 0.795 -3 0 -3 C -0.795 -3 -1.558 -2.683 -2.121 -2.121 C -2.683 -1.558 -3 -0.795 -3 0 C -3 0.795 -2.683 1.558 -2.121 2.121 C -1.558 2.683 -0.795 3 0 3 z
" style="stroke: #000000" transform="translate(122.850 348.429)"/>
<path d="M 0 3 C 0.795 3 1.558 2.683 2.121 2.121 C 2.683 1.558 3 0.795 3 0 C 3 -0.795 2.683 -1.558 2.121 -2.121 C 1.558 -2.683 0.795 -3 0 -3 C -0.795 -3 -1.558 -2.683 -2.121 -2.121 C -2.683 -1.558 -3 -0.795 -3 0 C -3 0.795 -2.683 1.558 -2.121 2.121 C -1.558 2.683 -0.795 3 0 3 z
" style="stroke: #000000" transform="translate(130.314 339.500)"/>
<path d="M 0 3 C 0.795 3 1.558 2.683 2.121 2.121 C 2.683 1.558 3 0.795 3 0 C 3 -0.795 2.683 -1.558 2.121 -2.121 C 1.558 -2.683 0.795 -3 0 -3 C -0.795 -3 -1.558 -2.683 -2.121 -2.121 C -2.683 -1.558 -3 -0.795 -3 0 C -3 0.795 -2.683 1.558 -2.121 2.121 C -1.558 2.683 -0.795 3 0 3 z
" style="stroke: #000000" transform="translate(137.779 316.322)"/>
<path d="M 0 3 C 0.795 3 1.558 2.683 2.121 2.121 C 2.683 1.558 3 0.795 3 0 C 3 -0.795 2.683 -1.558 2.121 -2.121 C 1.558 -2.683 0.795 -3 0 -3 C -0.795 -3 -1.558 -2.683 -2.121 -2.121 C -2.683 -1.558 -3 -0.795 -3 0 C -3 0.795 -2.683 1.558 -2.121 2.121 C -1.558 2.683 -0.795 3 0 3 z
" style="stroke: #000000" transform="translate(145.243 292.658)"/>
<path d="M 0 3 C 0.795 3 1.558 2.683 2.121 2.121 C 2.683 1.558 3 0.795 3 0 C 3 -0.795 2.683 -1.558 2.121 -2.121 C 1.558 -2.683 0.795 -3 0 -3 C -0.795 -3 -1.558 -2.683 -2.121 -2.121 C -2.683 -1.558 -3 -0.795 -3 0 C -3 0.795 -2.683 1.558 -2.121 2.121 C -1.558 2.683 -0.795 3 0 3 z
" style="stroke: #000000" transform="translate(152.707 282.553)"/>
<path d="M 0 3 C 0.795 3 1.558 2.683 2.121 2.121 C 2.683 1.558 3 0.795 3 0 C 3 -0.795 2.683 -1.558 2.121 -2.121 C 1.558 -2.683 0.795 -3 0 -3 C -0.795 -3 -1.558 -2.683 -2.121 -2.121 C -2.683 -1.558 -3 -0.795 -3 0 C -3 0.795 -2.683 1.558 -2.121 2.121 C -1.558 2.683 -0.795 3 0 3 z
" style="stroke: #000000" transform="translate(160.171 292.110)"/>
<path d="M 0 3 C 0.795 3 1.558 2.683 2.121 2.121 C 2.683 1.558 3 0.795 3 0 C 3 -0.795 2.683 -1.558 2.121 -2.121 C 1.558 -2.683 0.795 -3 0 -3 C -0.795 -3 -1.558 -2.683 -2.121 -2.121 C -2.683 -1.558 -3 -0.795 -3 0 C -3 0.795 -2.683 1.558 -2.121 2.121 C -1.558 2.683 -0.795 3 0 3 z
" style="stroke: #000000" transform="translate(167.635 315.915)"/>
<path d="M 0 3 C 0.795 3 1.558 2.683 2.121 2.121 C 2.683 1.558 3 0.795 3 0 C 3 -0.795 2.683 -1.558 2.121 -2.121 C 1.558 -2.683 0.795 -3 0 -3 C -0.795 -3 -1.558 -2.683 -2.121 -2.121 C -2.683 -1.558 -3 -0.795 -3 0 C -3 0.795 -2.683 1.558 -2.121 2.121 C -1.558 2.683 -0.795 3 0 3 z
" style="stroke: #000000" transform="translate(175.099 340.207)"/>
<path d="M 0 3 C 0.795 3 1.558 2.683 2.121 2.121 C 2.683 1.558 3 0.795 3 0 C 3 -0.795 2.683 -1.558 2.121 -2.121 C 1.558 -2.683 0.795 -3 0 -3 C -0.795 -3 -1.558 -2.683 -2.121 -2.121 C -2.683 -1.558 -3 -0.795 -3 0 C -3 0.795 -2.683 1.558 -2.121 2.121 C -1.558 2.683 -0.795 3 0 3 z
" style="stroke: #000000" transform="translate(182.563 350.940)"/>
<path d="M 0 3 C 0.795 3 1.558 2.683 2.121 2.121 C 2.683 1.558 3 0.795 3 0 C 3 -0.795 2.683 -1.558 2.121 -2.121 C 1.558 -2.683 0.795 -3 0 -3 C -0.795 -3 -1.558 -2.683 -2.121 -2.121 C -2.683 -1.558 -3 -0.795 -3 0 C -3 0.795 -2.683 1.558 -2.121 2.121 C -1.558 2.683 -0.795 3 0 3 z
" style="stroke: #000000" transform="translate(190.028 342.011)"/>
<path d="M 0 3 C 0.795 3 1.558 2.683 2.121 2.121 C 2.683 1.558 3 0.795 3 0 C 3 -0.795 2.683 -1.558 2.121 -2.121 C 1.558 -2.683 0.795 -3 0 -3 C -0.795 -3 -1.558 -2.683 -2.121 -2.121 C -2.683 -1.558 -3 -0.795 -3 0 C -3 0.795 -2.683 1.558 -2.121 2.121 C -1.558 2.683 -0.795 3 0 3 z
" style="stroke: #000000" transform="translate(197.492 318.834)"/>
<path d="M 0 3 C 0.795 3 1.558 2.683 2.121 2.121 C 2.683 1.558 3 0.795 3 0 C 3 -0.795 2.683 -1.558 2.121 -2.121 C 1.558 -2.683 0.795 -3 0 -3 C -0.795 -3 -1.558 -2.683 -2.121 -2.121 C -2.683 -1.558 -3 -0.795 -3 0 C -3 0.795 -2.683 1.558 -2.121 2.121 C -1.558 2.683 -0.795 3 0 3 z
" style="stroke: #000000" transform="translate(204.956 295.169)"/>
<path d="M 0 3 C 0.795 3 1.558 2.683 2.121 2.121 C 2.683 1.558 3 0.795 3 0 C 3 -0.795 2.683 -1.558 2.121 -2.121 C 1.558 -2.683 0.795 -3 0 -3 C -0.795 -3 -1.558 -2.683 -2.121 -2.121 C -2.683 -1.558 -3 -0.795 -3 0 C -3 0.795 -2.683 1.558 -2.121 2.121 C -1.558 2.683 -0.795 3 0 3 z
" style="stroke: #000000" transform="translate(212.420 285.064)"/>
<path d="M 0 3 C 0.795 3 1.558 2.683 2.121 2.121 C 2.683 1.558 3 0.795 3 0 C 3 -0.795 2.683 -1.558 2.121 -2.121 C 1.558 -2.683 0.795 -3 0 -3 C -0.795 -3 -1.558 -2.683 -2.121 -2.121 C -2.683 -1.558 -3 -0.795 -3 0 C -3 0.795 -2.683 1.558 -2.121 2.121 C -1.558 2.683 -0.795 3 0 3 z
" style="stroke: #000000" transform="translate(219.884 294.621)"/>
<path d="M 0 3 C 0.795 3 1.558 2.683 2.121 2.121 C 2.683 1.558 3 0.795 3 0 C 3 -0.795 2.683 -1.558 2.121 -2.121 C 1.558 -2.683 0.795 -3 0 -3 C -0.795 -3 -1.558 -2.683 -2.121 -2.121 C -2.683 -1.558 -3 -0.795 -3 0 C -3 0.795 -2.683 1.558 -2.121 2.121 C -1.558 2.683 -0.795 3 0 3 z
" style="stroke: #000000" transform="translate(227.348 318.426)"/>
<path d="M 0 3 C 0.795 3 1.558 2.683 2.121 2.121 C 2.683 1.558 3 0.795 3 0 C 3 -0.795 2.683 -1.558 2.121 -2.121 C 1.558 -2.683 0.795 -3 0 -3 C -0.795 -3 -1.558 -2.683 -2.121 -2.121 C -2.683 -1.558 -3 -0.795 -3 0 C -3 0.795 -2.683 1.558 -2.121 2.121 C -1.558 2.683 -0.795 3 0 3 z
" style="stroke: #000000" transform="translate(234.813 342.718)"/>
<path d="M 0 3 C 0.795 3 1.558 2.683 2.121 2.121 C 2.683 1.558 3 0.795 3 0 C 3 -0.795 2.683 -1.558 2.121 -2.121 C 1.558 -2.683 0.795 -3 0 -3 C -0.795 -3 -1.558 -2.683 -2.121 -2.121 C -2.683 -1.558 -3 -0.795 -3 0 C -3 0.795 -2.683 1.558 -2.121 2.121 C -1.558 2.683 -0.795 3 0 3 z
" style="stroke: #000000" transform="translate(242.277 353.452)"/>
<path d="M 0 3 C 0.795 3 1.558 2.683 2.121 2.121 C 2.683 1.558 3 0.795 3 0 C 3 -0.795 2.683 -1.558 2.121 -2.121 C 1.558 -2.683 0.795 -3 0 -3 C -0.795 -3 -1.558 -2.683 -2.121 -2.121 C -2.683 -1.558 -3 -0.795 -3 0 C -3 0.795 -2.683 1.558 -2.121 2.121 C -1.558 2.683 -0.795 3 0 3 z
" style="stroke: #000000" transform="translate(249.741 344.522)"/>
<path d="M 0 3 C 0.795 3 1.558 2.683 2.121 2.121 C 2.683 1.558 3 0.795 3 0 C 3 -0.795 2.683 -1.558 2.121 -2.121 C 1.558 -2.683 0.795 -3 0 -3 C -0.795 -3 -1.558 -2.683 -2.121 -2.121 C -2.683 -1.558 -3 -0.795 -3 0 C -3 0.795 -2.683 1.558 -2.121 2.121 C -1.558 2.683 -0.795 3 0 3 z
" style="stroke: #000000" transform="translate(257.205 321.345)"/>
<path d="M 0 3 C 0.795 3 1.558 2.683 2.121 2.121 C 2.683 1.558 3 0.795 3 0 C 3 -0.795 2.683 -1.558 2.121 -2.121 C 1.558 -2.683 0.795 -3 0 -3 C -0.795 -3 -1.558 -2.683 -2.121 -2.121 C -2.683 -1.558 -3 -0.795 -3 0 C -3 0.795 -2.683 1.558 -2.121 2.121 C -1.558 2.683 -0.795 3 0 3 z
" style="stroke: #000000" transform="translate(264.669 297.681)"/>
<path d="M 0 3 C 0.795 3 1.558 2.683 2.121 2.121 C 2.683 1.558 3 0.795 3 0 C 3 -0.795 2.683 -1.558 2.121 -2.121 C 1.558 -2.683 0.795 -3 0 -3 C -0.795 -3 -1.558 -2.683 -2.121 -2.121 C -2.683 -1.558 -3 -0.795 -3 0 C -3 0.795 -2.683 1.558 -2.121 2.121 C -1.558 2.683 -0.795 3 0 3 z
" style="stroke: #000000" transform="translate(272.133 287.575)"/>
<path d="M 0 3 C 0.795 3 1.558 2.683 2.121 2.121 C 2.683 1.558 3 0.795 3 0 C 3 -0.795 2.683 -1.558 2.121 -2.121 C 1.558 -2.683 0.795 -3 0 -3 C -0.795 -3 -1.558 -2.683 -2.121 -2.121 C -2.683 -1.558 -3 -0.795 -3 0 C -3 0.795 -2.683 1.558 -2.121 2.121 C -1.558 2.683 -0.795 3 0 3 z
" style="stroke: #000000" transform="translate(279.597 297.133)"/>
<path d="M 0 3 C 0.795 3 1.558 2.683 2.121 2.121 C 2.683 1.558 3 0.795 3 0 C 3 -0.795 2.683 -1.558 2.121 -2.121 C 1.558 -2.683 0.795 -3 0 -3 C -0.795 -3 -1.558 -2.683 -2.121 -2.121 C -2.683 -1.558 -3 -0.795 -3 0 C -3 0.795 -2.683 1.558 -2.121 2.121 C -1.558 2.683 -0.795 3 0 3 z
" style="stroke: #000000" transform="translate(287.062 320.938)"/>
<path d="M 0 3 C 0.795 3 1.558 2.683 2.121 2.121 C 2.683 1.558 3 0.795 3 0 C 3 -0.795 2.683 -1.558 2.121 -2.121 C 1.558 -2.683 0.795 -3 0 -3 C -0.795 -3 -1.558 -2.683 -2.121 -2.121 C -2.683 -1.558 -3 -0.795 -3 0 C -3 0.795 -2.683 1.558 -2.121 2.121 C -1.558 2.683 -0.795 3 0 3 z
" style="stroke: #000000" transform="translate(294.526 345.230)"/>
<path d="M 0 3 C 0.795 3 1.558 2.683 2.121 2.121 C 2.683 1.558 3 0.795 3 0 C 3 -0.795 2.683 -1.558 2.121 -2.121 C 1.558 -2.683 0.795 -3 0 -3 C -0.795 -3 -1.558 -2.683 -2.121 -2.121 C -2.683 -1.558 -3 -0.795 -3 0 C -3 0.795 -2.683 1.558 -2.121 2.121 C -1.558 2.683 -0.795 3 0 3 z
" style="stroke: #000000" transform="translate(301.990 355.963)"/>
<path d="M 0 3 C 0.795 3 1.558 2.683 2.121 2.121 C 2.683 1.558 3 0.795 3 0 C 3 -0.795 2.683 -1.558 2.121 -2.121 C 1.558 -2.683 0.795 -3 0 -3 C -0.795 -3 -1.558 -2.683 -2.121 -2.121 C -2.683 -1.558 -3 -0.795 -3 0 C -3 0.795 -2.683 1.558 -2.121 2.121 C -1.558 2.683 -0.795 3 0 3 z
" style="stroke: #000000" transform="translate(309.454 347.034)"/>
<path d="M 0 3 C 0.795 3 1.558 2.683 2.121 2.121 C 2.683 1.558 3 0.795 3 0 C 3 -0.795 2.683 -1.558 2.121 -2.121 C 1.558 -2.683 0.795 -3 0 -3 C -0.795 -3 -1.558 -2.683 -2.121 -2.121 C -2.683 -1.558 -3 -0.795 -3 0 C -3 0.795 -2.683 1.558 -2.121 2.121 C -1.558 2.683 -0.795 3 0 3 z
" style="stroke: #000000" transform="translate(316.918 323.856)"/>
<path d="M 0 3 C 0.795 3 1.558 2.683 2.121 2.121 C 2.683 1.558 3 0.795 3 0 C 3 -0.795 2.683 -1.558 2.121 -2.121 C 1.558 -2.683 0.795 -3 0 -3 C -0.795 -3 -1.558 -2.683 -2.121 -2.121 C -2.683 -1.558 -3 -0.795 -3 0 C -3 0.795 -2.683 1.558 -2.121 2.121 C -1.558 2.683 -0.795 3 0 3 z
" style="stroke: #000000" transform="translate(324.382 300.192)"/>
</g>
</g>
<g id="line2d_44">
<path d="M 92.704 314.002 L 330.943 323.753 " clip-path="url(#p86b52953e6)" style="fill: none; stroke: #000000; stroke-width: 1.5; stroke-linecap: square"/>
</g>
<g id="patch_22">
<path d="M 81.051 386.002 L 81.051 251.382 " style="fill: none; stroke: #000000; stroke-width: 0.8; stroke-linejoin: miter; stroke-linecap: square"/>
</g>
<g id="patch_23">
<path d="M 343.789 386.002 L 343.789 251.382 " style="fill: none; stroke: #000000; stroke-width: 0.8; stroke-linejoin: miter; stroke-linecap: square"/>
</g>
<g id="patch_24">
<path d="M 81.051 386.002 L 343.789 386.002 " style="fill: none; stroke: #000000; stroke-width: 0.8; stroke-linejoin: miter; stroke-linecap: square"/>
</g>
<g id="patch_25">
<path d="M 81.051 251.382 L 343.789 251.382 " style="fill: none; stroke: #000000; stroke-width: 0.8; stroke-linejoin: miter; stroke-linecap: square"/>
</g>
</g>
<g id="axes_6">
<g id="matplotlib.axis_10">
<g id="ytick_20">
<g id="line2d_45">
<g>
<path d="M 0 0 L 3.5 0 " style="stroke: #000000; stroke-width: 0.8" transform="translate(343.789 371.570)"/>
</g>
</g>
<g id="text_40">
<text style="font-size: 14.6px; font-family: 'DejaVu Sans', sans-serif; text-anchor: start; fill: #1f77b4" x="349.589" y="376.618" transform="rotate(-0 349.589 376.618)">28.5</text>
</g>
</g>
<g id="ytick_21">
<g id="line2d_46">
<g>
<path d="M 0 0 L 3.5 0 " style="stroke: #000000; stroke-width: 0.8" transform="translate(343.789 318.692)"/>
</g>
</g>
<g id="text_41">
<text style="font-size: 14.6px; font-family: 'DejaVu Sans', sans-serif; text-anchor: start; fill: #1f77b4" x="349.589" y="323.739" transform="rotate(-0 349.589 323.739)">29.0</text>
</g>
</g>
<g id="ytick_22">
<g id="line2d_47">
<g>
<path d="M 0 0 L 3.5 0 " style="stroke: #000000; stroke-width: 0.8" transform="translate(343.789 265.814)"/>
</g>
</g>
<g id="text_42">
<text style="font-size: 14.6px; font-family: 'DejaVu Sans', sans-serif; text-anchor: start; fill: #1f77b4" x="349.589" y="270.861" transform="rotate(-0 349.589 270.861)">29.5</text>
</g>
</g>
<g id="text_43">
<g style="fill: #1f77b4" transform="translate(401.797 364.217) rotate(-90)">
<text>
<tspan x="0" y="-0.773" style="font-size: 15px; font-family: 'DejaVu Sans', sans-serif; fill: #1f77b4">C</tspan>
<tspan x="10.473" y="-0.773" style="font-size: 15px; font-family: 'DejaVu Sans', sans-serif; fill: #1f77b4">u</tspan>
<tspan x="19.980" y="-0.773" style="font-size: 15px; font-family: 'DejaVu Sans', sans-serif; fill: #1f77b4">r</tspan>
<tspan x="26.147" y="-0.773" style="font-size: 15px; font-family: 'DejaVu Sans', sans-serif; fill: #1f77b4">r</tspan>
<tspan x="32.314" y="-0.773" style="font-size: 15px; font-family: 'DejaVu Sans', sans-serif; fill: #1f77b4">e</tspan>
<tspan x="41.542" y="-0.773" style="font-size: 15px; font-family: 'DejaVu Sans', sans-serif; fill: #1f77b4">n</tspan>
<tspan x="51.049" y="-0.773" style="font-size: 15px; font-family: 'DejaVu Sans', sans-serif; fill: #1f77b4">t</tspan>
<tspan x="56.931" y="-0.773" style="font-size: 15px; font-family: 'DejaVu Sans', sans-serif; fill: #1f77b4"> </tspan>
<tspan x="61.699" y="-0.773" style="font-size: 15px; font-family: 'DejaVu Sans', sans-serif; fill: #1f77b4">(</tspan>
<tspan x="85.106" y="-0.773" style="font-size: 15px; font-family: 'DejaVu Sans', sans-serif; fill: #1f77b4">)</tspan>
<tspan x="67.551" y="6.822" style="font-style: oblique; font-size: 10.5px; font-family: 'DejaVu Sans', sans-serif; fill: #1f77b4">m</tspan>
<tspan x="71.551" y="-7.343" style="font-style: oblique; font-size: 10.5px; font-family: 'DejaVu Sans', sans-serif; fill: #1f77b4">A</tspan>
<tspan x="78.268" y="2.802" style="font-size: 7.35px; font-family: 'DejaVu Sans', sans-serif; fill: #1f77b4">2</tspan>
</text>
<rect x="67.551" y="-4.593" width="15.680" height="0.937"/>
</g>
</g>
</g>
<g id="line2d_48">
<path d="M 92.994 257.501 L 100.458 275.424 L 107.922 318.692 L 115.386 361.960 L 122.850 379.883 L 130.314 361.960 L 137.779 318.692 L 145.243 275.424 L 152.707 257.501 L 160.171 275.424 L 167.635 318.692 L 175.099 361.960 L 182.563 379.883 L 190.028 361.960 L 197.492 318.692 L 204.956 275.424 L 212.420 257.501 L 219.884 275.424 L 227.348 318.692 L 234.813 361.960 L 242.277 379.883 L 249.741 361.960 L 257.205 318.692 L 264.669 275.424 L 272.133 257.501 L 279.597 275.424 L 287.062 318.692 L 294.526 361.960 L 301.990 379.883 L 309.454 361.960 L 316.918 318.692 L 324.382 275.424 " clip-path="url(#p1815c2cba7)" style="fill: none; stroke-dasharray: 5.55,2.4; stroke-dashoffset: 0; stroke: #1f77b4; stroke-width: 1.5"/>
<g clip-path="url(#p1815c2cba7)">
<path d="M -3 3 L 3 -3 M -3 -3 L 3 3 " style="fill: #1f77b4; stroke: #1f77b4" transform="translate(92.994 257.501)"/>
<path d="M -3 3 L 3 -3 M -3 -3 L 3 3 " style="fill: #1f77b4; stroke: #1f77b4" transform="translate(100.458 275.424)"/>
<path d="M -3 3 L 3 -3 M -3 -3 L 3 3 " style="fill: #1f77b4; stroke: #1f77b4" transform="translate(107.922 318.692)"/>
<path d="M -3 3 L 3 -3 M -3 -3 L 3 3 " style="fill: #1f77b4; stroke: #1f77b4" transform="translate(115.386 361.960)"/>
<path d="M -3 3 L 3 -3 M -3 -3 L 3 3 " style="fill: #1f77b4; stroke: #1f77b4" transform="translate(122.850 379.883)"/>
<path d="M -3 3 L 3 -3 M -3 -3 L 3 3 " style="fill: #1f77b4; stroke: #1f77b4" transform="translate(130.314 361.960)"/>
<path d="M -3 3 L 3 -3 M -3 -3 L 3 3 " style="fill: #1f77b4; stroke: #1f77b4" transform="translate(137.779 318.692)"/>
<path d="M -3 3 L 3 -3 M -3 -3 L 3 3 " style="fill: #1f77b4; stroke: #1f77b4" transform="translate(145.243 275.424)"/>
<path d="M -3 3 L 3 -3 M -3 -3 L 3 3 " style="fill: #1f77b4; stroke: #1f77b4" transform="translate(152.707 257.501)"/>
<path d="M -3 3 L 3 -3 M -3 -3 L 3 3 " style="fill: #1f77b4; stroke: #1f77b4" transform="translate(160.171 275.424)"/>
<path d="M -3 3 L 3 -3 M -3 -3 L 3 3 " style="fill: #1f77b4; stroke: #1f77b4" transform="translate(167.635 318.692)"/>
<path d="M -3 3 L 3 -3 M -3 -3 L 3 3 " style="fill: #1f77b4; stroke: #1f77b4" transform="translate(175.099 361.960)"/>
<path d="M -3 3 L 3 -3 M -3 -3 L 3 3 " style="fill: #1f77b4; stroke: #1f77b4" transform="translate(182.563 379.883)"/>
<path d="M -3 3 L 3 -3 M -3 -3 L 3 3 " style="fill: #1f77b4; stroke: #1f77b4" transform="translate(190.028 361.960)"/>
<path d="M -3 3 L 3 -3 M -3 -3 L 3 3 " style="fill: #1f77b4; stroke: #1f77b4" transform="translate(197.492 318.692)"/>
<path d="M -3 3 L 3 -3 M -3 -3 L 3 3 " style="fill: #1f77b4; stroke: #1f77b4" transform="translate(204.956 275.424)"/>
<path d="M -3 3 L 3 -3 M -3 -3 L 3 3 " style="fill: #1f77b4; stroke: #1f77b4" transform="translate(212.420 257.501)"/>
<path d="M -3 3 L 3 -3 M -3 -3 L 3 3 " style="fill: #1f77b4; stroke: #1f77b4" transform="translate(219.884 275.424)"/>
<path d="M -3 3 L 3 -3 M -3 -3 L 3 3 " style="fill: #1f77b4; stroke: #1f77b4" transform="translate(227.348 318.692)"/>
<path d="M -3 3 L 3 -3 M -3 -3 L 3 3 " style="fill: #1f77b4; stroke: #1f77b4" transform="translate(234.813 361.960)"/>
<path d="M -3 3 L 3 -3 M -3 -3 L 3 3 " style="fill: #1f77b4; stroke: #1f77b4" transform="translate(242.277 379.883)"/>
<path d="M -3 3 L 3 -3 M -3 -3 L 3 3 " style="fill: #1f77b4; stroke: #1f77b4" transform="translate(249.741 361.960)"/>
<path d="M -3 3 L 3 -3 M -3 -3 L 3 3 " style="fill: #1f77b4; stroke: #1f77b4" transform="translate(257.205 318.692)"/>
<path d="M -3 3 L 3 -3 M -3 -3 L 3 3 " style="fill: #1f77b4; stroke: #1f77b4" transform="translate(264.669 275.424)"/>
<path d="M -3 3 L 3 -3 M -3 -3 L 3 3 " style="fill: #1f77b4; stroke: #1f77b4" transform="translate(272.133 257.501)"/>
<path d="M -3 3 L 3 -3 M -3 -3 L 3 3 " style="fill: #1f77b4; stroke: #1f77b4" transform="translate(279.597 275.424)"/>
<path d="M -3 3 L 3 -3 M -3 -3 L 3 3 " style="fill: #1f77b4; stroke: #1f77b4" transform="translate(287.062 318.692)"/>
<path d="M -3 3 L 3 -3 M -3 -3 L 3 3 " style="fill: #1f77b4; stroke: #1f77b4" transform="translate(294.526 361.960)"/>
<path d="M -3 3 L 3 -3 M -3 -3 L 3 3 " style="fill: #1f77b4; stroke: #1f77b4" transform="translate(301.990 379.883)"/>
<path d="M -3 3 L 3 -3 M -3 -3 L 3 3 " style="fill: #1f77b4; stroke: #1f77b4" transform="translate(309.454 361.960)"/>
<path d="M -3 3 L 3 -3 M -3 -3 L 3 3 " style="fill: #1f77b4; stroke: #1f77b4" transform="translate(316.918 318.692)"/>
<path d="M -3 3 L 3 -3 M -3 -3 L 3 3 " style="fill: #1f77b4; stroke: #1f77b4" transform="translate(324.382 275.424)"/>
</g>
</g>
<g id="patch_26">
<path d="M 81.051 386.002 L 81.051 251.382 " style="fill: none; stroke: #000000; stroke-width: 0.8; stroke-linejoin: miter; stroke-linecap: square"/>
</g>
<g id="patch_27">
<path d="M 343.789 386.002 L 343.789 251.382 " style="fill: none; stroke: #000000; stroke-width: 0.8; stroke-linejoin: miter; stroke-linecap: square"/>
</g>
<g id="patch_28">
<path d="M 81.051 386.002 L 343.789 386.002 " style="fill: none; stroke: #000000; stroke-width: 0.8; stroke-linejoin: miter; stroke-linecap: square"/>
</g>
<g id="patch_29">
<path d="M 81.051 251.382 L 343.789 251.382 " style="fill: none; stroke: #000000; stroke-width: 0.8; stroke-linejoin: miter; stroke-linecap: square"/>
</g>
</g>
<g id="axes_7">
<g id="patch_30">
<path d="M 484.950 386.002 L 606.445 386.002 L 606.445 251.382 L 484.950 251.382 z
" style="fill: #ffffff"/>
</g>
<g id="matplotlib.axis_11">
<g id="xtick_17">
<g id="line2d_49">
<g>
<path d="M 0 0 L 0 3.5 " style="stroke: #000000; stroke-width: 0.8" transform="translate(484.950 386.002)"/>
</g>
</g>
<g id="text_44">
<text style="font-size: 14.6px; font-family: 'DejaVu Sans', sans-serif; text-anchor: middle" x="484.451" y="402.846" transform="rotate(-0 484.451 402.846)">0</text>
</g>
</g>
<g id="xtick_18">
<g id="line2d_50">
<g>
<path d="M 0 0 L 0 3.5 " style="stroke: #000000; stroke-width: 0.8" transform="translate(545.698 386.002)"/>
</g>
</g>
<g id="text_45">
<text style="font-size: 14.6px; font-family: 'DejaVu Sans', sans-serif; text-anchor: middle" x="545.198" y="402.846" transform="rotate(-0 545.198 402.846)">2</text>
</g>
</g>
<g id="xtick_19">
<g id="line2d_51">
<g>
<path d="M 0 0 L 0 3.5 " style="stroke: #000000; stroke-width: 0.8" transform="translate(606.445 386.002)"/>
</g>
</g>
<g id="text_46">
<text style="font-size: 14.6px; font-family: 'DejaVu Sans', sans-serif; text-anchor: middle" x="605.946" y="402.846" transform="rotate(-0 605.946 402.846)">4</text>
</g>
</g>
<g id="text_47">
<g transform="translate(523.948 423.730)">
<text>
<tspan x="0" y="-0.625" style="font-style: oblique; font-size: 15px; font-family: 'DejaVu Sans', sans-serif">ω</tspan>
<tspan x="18.413" y="-0.625" style="font-style: oblique; font-size: 15px; font-family: 'DejaVu Sans', sans-serif">H</tspan>
<tspan x="29.692" y="-0.625" style="font-style: oblique; font-size: 15px; font-family: 'DejaVu Sans', sans-serif">z</tspan>
<tspan x="12.561" y="-0.625" style="font-style: oblique; font-size: 15px; font-family: 'DejaVu Sans', sans-serif">(</tspan>
<tspan x="37.565" y="-0.625" style="font-style: oblique; font-size: 15px; font-family: 'DejaVu Sans', sans-serif">)</tspan>
</text>
</g>
</g>
</g>
<g id="matplotlib.axis_12">
<g id="ytick_23">
<g id="line2d_52">
<g>
<path d="M 0 0 L -3.5 0 " style="stroke: #000000; stroke-width: 0.8" transform="translate(484.950 386.002)"/>
</g>
</g>
<g id="text_48">
<text style="font-size: 14.6px; font-family: 'DejaVu Sans', sans-serif; text-anchor: end" x="477.950" y="391.049" transform="rotate(-0 477.950 391.049)">0</text>
</g>
</g>
<g id="ytick_24">
<g id="line2d_53">
<g>
<path d="M 0 0 L -3.5 0 " style="stroke: #000000; stroke-width: 0.8" transform="translate(484.950 347.539)"/>
</g>
</g>
<g id="text_49">
<text style="font-size: 14.6px; font-family: 'DejaVu Sans', sans-serif; text-anchor: end" x="477.950" y="352.586" transform="rotate(-0 477.950 352.586)">2</text>
</g>
</g>
<g id="ytick_25">
<g id="line2d_54">
<g>
<path d="M 0 0 L -3.5 0 " style="stroke: #000000; stroke-width: 0.8" transform="translate(484.950 309.076)"/>
</g>
</g>
<g id="text_50">
<text style="font-size: 14.6px; font-family: 'DejaVu Sans', sans-serif; text-anchor: end" x="477.950" y="314.124" transform="rotate(-0 477.950 314.124)">4</text>
</g>
</g>
<g id="ytick_26">
<g id="line2d_55">
<g>
<path d="M 0 0 L -3.5 0 " style="stroke: #000000; stroke-width: 0.8" transform="translate(484.950 270.614)"/>
</g>
</g>
<g id="text_51">
<text style="font-size: 14.6px; font-family: 'DejaVu Sans', sans-serif; text-anchor: end" x="477.950" y="275.661" transform="rotate(-0 477.950 275.661)">6</text>
</g>
</g>
<g id="text_52">
<g transform="translate(460.442 342.167) rotate(-90)">
<text>
<tspan x="0" y="-0.671" style="font-style: oblique; font-size: 15px; font-family: 'DejaVu Sans', sans-serif">V</tspan>
<tspan x="16.113" y="-0.671" style="font-style: oblique; font-size: 15px; font-family: 'DejaVu Sans', sans-serif">m</tspan>
<tspan x="30.725" y="-0.671" style="font-style: oblique; font-size: 15px; font-family: 'DejaVu Sans', sans-serif">V</tspan>
<tspan x="10.261" y="-0.671" style="font-style: oblique; font-size: 15px; font-family: 'DejaVu Sans', sans-serif">(</tspan>
<tspan x="40.986" y="-0.671" style="font-style: oblique; font-size: 15px; font-family: 'DejaVu Sans', sans-serif">)</tspan>
</text>
<text transform="translate(-0.261 -10.137) scale(1.020 1)" style="font-weight: 200; font-size: 15.000px; font-family: 'DejaVu Sans', sans-serif; stroke: #000000; stroke-width: 0.220">~</text>
</g>
</g>
</g>
<g id="line2d_56">
<g clip-path="url(#p73b86fba43)">
<path d="M 0 3 C 0.795 3 1.558 2.683 2.121 2.121 C 2.683 1.558 3 0.795 3 0 C 3 -0.795 2.683 -1.558 2.121 -2.121 C 1.558 -2.683 0.795 -3 0 -3 C -0.795 -3 -1.558 -2.683 -2.121 -2.121 C -2.683 -1.558 -3 -0.795 -3 0 C -3 0.795 -2.683 1.558 -2.121 2.121 C -1.558 2.683 -0.795 3 0 3 z
" style="fill: #8b0000; stroke: #8b0000" transform="translate(484.210 386.002)"/>
<path d="M 0 3 C 0.795 3 1.558 2.683 2.121 2.121 C 2.683 1.558 3 0.795 3 0 C 3 -0.795 2.683 -1.558 2.121 -2.121 C 1.558 -2.683 0.795 -3 0 -3 C -0.795 -3 -1.558 -2.683 -2.121 -2.121 C -2.683 -1.558 -3 -0.795 -3 0 C -3 0.795 -2.683 1.558 -2.121 2.121 C -1.558 2.683 -0.795 3 0 3 z
" style="fill: #8b0000; stroke: #8b0000" transform="translate(491.803 386.002)"/>
<path d="M 0 3 C 0.795 3 1.558 2.683 2.121 2.121 C 2.683 1.558 3 0.795 3 0 C 3 -0.795 2.683 -1.558 2.121 -2.121 C 1.558 -2.683 0.795 -3 0 -3 C -0.795 -3 -1.558 -2.683 -2.121 -2.121 C -2.683 -1.558 -3 -0.795 -3 0 C -3 0.795 -2.683 1.558 -2.121 2.121 C -1.558 2.683 -0.795 3 0 3 z
" style="fill: #8b0000; stroke: #8b0000" transform="translate(499.397 386.002)"/>
<path d="M 0 3 C 0.795 3 1.558 2.683 2.121 2.121 C 2.683 1.558 3 0.795 3 0 C 3 -0.795 2.683 -1.558 2.121 -2.121 C 1.558 -2.683 0.795 -3 0 -3 C -0.795 -3 -1.558 -2.683 -2.121 -2.121 C -2.683 -1.558 -3 -0.795 -3 0 C -3 0.795 -2.683 1.558 -2.121 2.121 C -1.558 2.683 -0.795 3 0 3 z
" style="fill: #8b0000; stroke: #8b0000" transform="translate(506.990 386.002)"/>
<path d="M 0 3 C 0.795 3 1.558 2.683 2.121 2.121 C 2.683 1.558 3 0.795 3 0 C 3 -0.795 2.683 -1.558 2.121 -2.121 C 1.558 -2.683 0.795 -3 0 -3 C -0.795 -3 -1.558 -2.683 -2.121 -2.121 C -2.683 -1.558 -3 -0.795 -3 0 C -3 0.795 -2.683 1.558 -2.121 2.121 C -1.558 2.683 -0.795 3 0 3 z
" style="fill: #8b0000; stroke: #8b0000" transform="translate(514.584 338.116)"/>
<path d="M 0 3 C 0.795 3 1.558 2.683 2.121 2.121 C 2.683 1.558 3 0.795 3 0 C 3 -0.795 2.683 -1.558 2.121 -2.121 C 1.558 -2.683 0.795 -3 0 -3 C -0.795 -3 -1.558 -2.683 -2.121 -2.121 C -2.683 -1.558 -3 -0.795 -3 0 C -3 0.795 -2.683 1.558 -2.121 2.121 C -1.558 2.683 -0.795 3 0 3 z
" style="fill: #8b0000; stroke: #8b0000" transform="translate(522.177 386.002)"/>
<path d="M 0 3 C 0.795 3 1.558 2.683 2.121 2.121 C 2.683 1.558 3 0.795 3 0 C 3 -0.795 2.683 -1.558 2.121 -2.121 C 1.558 -2.683 0.795 -3 0 -3 C -0.795 -3 -1.558 -2.683 -2.121 -2.121 C -2.683 -1.558 -3 -0.795 -3 0 C -3 0.795 -2.683 1.558 -2.121 2.121 C -1.558 2.683 -0.795 3 0 3 z
" style="fill: #8b0000; stroke: #8b0000" transform="translate(529.770 386.002)"/>
<path d="M 0 3 C 0.795 3 1.558 2.683 2.121 2.121 C 2.683 1.558 3 0.795 3 0 C 3 -0.795 2.683 -1.558 2.121 -2.121 C 1.558 -2.683 0.795 -3 0 -3 C -0.795 -3 -1.558 -2.683 -2.121 -2.121 C -2.683 -1.558 -3 -0.795 -3 0 C -3 0.795 -2.683 1.558 -2.121 2.121 C -1.558 2.683 -0.795 3 0 3 z
" style="fill: #8b0000; stroke: #8b0000" transform="translate(537.364 386.002)"/>
<path d="M 0 3 C 0.795 3 1.558 2.683 2.121 2.121 C 2.683 1.558 3 0.795 3 0 C 3 -0.795 2.683 -1.558 2.121 -2.121 C 1.558 -2.683 0.795 -3 0 -3 C -0.795 -3 -1.558 -2.683 -2.121 -2.121 C -2.683 -1.558 -3 -0.795 -3 0 C -3 0.795 -2.683 1.558 -2.121 2.121 C -1.558 2.683 -0.795 3 0 3 z
" style="fill: #8b0000; stroke: #8b0000" transform="translate(544.957 386.002)"/>
<path d="M 0 3 C 0.795 3 1.558 2.683 2.121 2.121 C 2.683 1.558 3 0.795 3 0 C 3 -0.795 2.683 -1.558 2.121 -2.121 C 1.558 -2.683 0.795 -3 0 -3 C -0.795 -3 -1.558 -2.683 -2.121 -2.121 C -2.683 -1.558 -3 -0.795 -3 0 C -3 0.795 -2.683 1.558 -2.121 2.121 C -1.558 2.683 -0.795 3 0 3 z
" style="fill: #8b0000; stroke: #8b0000" transform="translate(552.551 386.002)"/>
<path d="M 0 3 C 0.795 3 1.558 2.683 2.121 2.121 C 2.683 1.558 3 0.795 3 0 C 3 -0.795 2.683 -1.558 2.121 -2.121 C 1.558 -2.683 0.795 -3 0 -3 C -0.795 -3 -1.558 -2.683 -2.121 -2.121 C -2.683 -1.558 -3 -0.795 -3 0 C -3 0.795 -2.683 1.558 -2.121 2.121 C -1.558 2.683 -0.795 3 0 3 z
" style="fill: #8b0000; stroke: #8b0000" transform="translate(560.144 386.002)"/>
<path d="M 0 3 C 0.795 3 1.558 2.683 2.121 2.121 C 2.683 1.558 3 0.795 3 0 C 3 -0.795 2.683 -1.558 2.121 -2.121 C 1.558 -2.683 0.795 -3 0 -3 C -0.795 -3 -1.558 -2.683 -2.121 -2.121 C -2.683 -1.558 -3 -0.795 -3 0 C -3 0.795 -2.683 1.558 -2.121 2.121 C -1.558 2.683 -0.795 3 0 3 z
" style="fill: #8b0000; stroke: #8b0000" transform="translate(567.738 386.002)"/>
<path d="M 0 3 C 0.795 3 1.558 2.683 2.121 2.121 C 2.683 1.558 3 0.795 3 0 C 3 -0.795 2.683 -1.558 2.121 -2.121 C 1.558 -2.683 0.795 -3 0 -3 C -0.795 -3 -1.558 -2.683 -2.121 -2.121 C -2.683 -1.558 -3 -0.795 -3 0 C -3 0.795 -2.683 1.558 -2.121 2.121 C -1.558 2.683 -0.795 3 0 3 z
" style="fill: #8b0000; stroke: #8b0000" transform="translate(575.331 386.002)"/>
<path d="M 0 3 C 0.795 3 1.558 2.683 2.121 2.121 C 2.683 1.558 3 0.795 3 0 C 3 -0.795 2.683 -1.558 2.121 -2.121 C 1.558 -2.683 0.795 -3 0 -3 C -0.795 -3 -1.558 -2.683 -2.121 -2.121 C -2.683 -1.558 -3 -0.795 -3 0 C -3 0.795 -2.683 1.558 -2.121 2.121 C -1.558 2.683 -0.795 3 0 3 z
" style="fill: #8b0000; stroke: #8b0000" transform="translate(582.924 386.002)"/>
<path d="M 0 3 C 0.795 3 1.558 2.683 2.121 2.121 C 2.683 1.558 3 0.795 3 0 C 3 -0.795 2.683 -1.558 2.121 -2.121 C 1.558 -2.683 0.795 -3 0 -3 C -0.795 -3 -1.558 -2.683 -2.121 -2.121 C -2.683 -1.558 -3 -0.795 -3 0 C -3 0.795 -2.683 1.558 -2.121 2.121 C -1.558 2.683 -0.795 3 0 3 z
" style="fill: #8b0000; stroke: #8b0000" transform="translate(590.518 386.002)"/>
<path d="M 0 3 C 0.795 3 1.558 2.683 2.121 2.121 C 2.683 1.558 3 0.795 3 0 C 3 -0.795 2.683 -1.558 2.121 -2.121 C 1.558 -2.683 0.795 -3 0 -3 C -0.795 -3 -1.558 -2.683 -2.121 -2.121 C -2.683 -1.558 -3 -0.795 -3 0 C -3 0.795 -2.683 1.558 -2.121 2.121 C -1.558 2.683 -0.795 3 0 3 z
" style="fill: #8b0000; stroke: #8b0000" transform="translate(598.111 386.002)"/>
</g>
</g>
<g id="line2d_57">
<path d="M 491.783 -1 L 491.803 385.557 L 499.397 385.557 L 506.990 385.557 L 514.584 337.671 L 522.177 385.557 L 529.770 385.557 L 537.364 385.557 L 544.957 385.557 L 552.551 385.557 L 560.144 385.557 L 567.738 385.557 L 575.331 385.557 L 582.924 385.557 L 590.518 385.557 L 598.111 385.557 " clip-path="url(#p73b86fba43)" style="fill: none; stroke: #000000; stroke-width: 2; stroke-linecap: square"/>
</g>
<g id="patch_31">
<path d="M 484.950 386.002 L 484.950 251.382 " style="fill: none; stroke: #000000; stroke-width: 0.8; stroke-linejoin: miter; stroke-linecap: square"/>
</g>
<g id="patch_32">
<path d="M 606.445 386.002 L 606.445 251.382 " style="fill: none; stroke: #000000; stroke-width: 0.8; stroke-linejoin: miter; stroke-linecap: square"/>
</g>
<g id="patch_33">
<path d="M 484.950 386.002 L 606.445 386.002 " style="fill: none; stroke: #000000; stroke-width: 0.8; stroke-linejoin: miter; stroke-linecap: square"/>
</g>
<g id="patch_34">
<path d="M 484.950 251.382 L 606.445 251.382 " style="fill: none; stroke: #000000; stroke-width: 0.8; stroke-linejoin: miter; stroke-linecap: square"/>
</g>
</g>
<g id="axes_8">
<g id="patch_35">
<path d="M 618.706 386.002 L 739.254 386.002 L 739.254 251.382 L 618.706 251.382 z
" style="fill: #ffffff"/>
</g>
<g id="matplotlib.axis_13">
<g id="xtick_20">
<g id="line2d_58">
<g>
<path d="M 0 0 L 0 3.5 " style="stroke: #000000; stroke-width: 0.8" transform="translate(618.706 386.002)"/>
</g>
</g>
<g id="text_53">
<text style="font-size: 14.6px; font-family: 'DejaVu Sans', sans-serif; text-anchor: middle" x="618.206" y="402.846" transform="rotate(-0 618.206 402.846)">0</text>
</g>
</g>
<g id="xtick_21">
<g id="line2d_59">
<g>
<path d="M 0 0 L 0 3.5 " style="stroke: #000000; stroke-width: 0.8" transform="translate(678.980 386.002)"/>
</g>
</g>
<g id="text_54">
<text style="font-size: 14.6px; font-family: 'DejaVu Sans', sans-serif; text-anchor: middle" x="678.481" y="402.846" transform="rotate(-0 678.481 402.846)">2</text>
</g>
</g>
<g id="xtick_22">
<g id="line2d_60">
<g>
<path d="M 0 0 L 0 3.5 " style="stroke: #000000; stroke-width: 0.8" transform="translate(739.254 386.002)"/>
</g>
</g>
<g id="text_55">
<text style="font-size: 14.6px; font-family: 'DejaVu Sans', sans-serif; text-anchor: middle" x="738.755" y="402.846" transform="rotate(-0 738.755 402.846)">4</text>
</g>
</g>
<g id="text_56">
<g transform="translate(657.230 423.730)">
<text>
<tspan x="0" y="-0.625" style="font-style: oblique; font-size: 15px; font-family: 'DejaVu Sans', sans-serif">ω</tspan>
<tspan x="18.413" y="-0.625" style="font-style: oblique; font-size: 15px; font-family: 'DejaVu Sans', sans-serif">H</tspan>
<tspan x="29.692" y="-0.625" style="font-style: oblique; font-size: 15px; font-family: 'DejaVu Sans', sans-serif">z</tspan>
<tspan x="12.561" y="-0.625" style="font-style: oblique; font-size: 15px; font-family: 'DejaVu Sans', sans-serif">(</tspan>
<tspan x="37.565" y="-0.625" style="font-style: oblique; font-size: 15px; font-family: 'DejaVu Sans', sans-serif">)</tspan>
</text>
</g>
</g>
</g>
<g id="matplotlib.axis_14">
<g id="ytick_27">
<g id="line2d_61">
<g>
<path d="M 0 0 L -3.5 0 " style="stroke: #000000; stroke-width: 0.8" transform="translate(618.706 386.002)"/>
</g>
</g>
</g>
<g id="ytick_28">
<g id="line2d_62">
<g>
<path d="M 0 0 L -3.5 0 " style="stroke: #000000; stroke-width: 0.8" transform="translate(618.706 347.539)"/>
</g>
</g>
</g>
<g id="ytick_29">
<g id="line2d_63">
<g>
<path d="M 0 0 L -3.5 0 " style="stroke: #000000; stroke-width: 0.8" transform="translate(618.706 309.076)"/>
</g>
</g>
</g>
<g id="ytick_30">
<g id="line2d_64">
<g>
<path d="M 0 0 L -3.5 0 " style="stroke: #000000; stroke-width: 0.8" transform="translate(618.706 270.614)"/>
</g>
</g>
</g>
</g>
<g id="line2d_65">
<g clip-path="url(#p7c59368cb9)">
<path d="M 0 3 C 0.795 3 1.558 2.683 2.121 2.121 C 2.683 1.558 3 0.795 3 0 C 3 -0.795 2.683 -1.558 2.121 -2.121 C 1.558 -2.683 0.795 -3 0 -3 C -0.795 -3 -1.558 -2.683 -2.121 -2.121 C -2.683 -1.558 -3 -0.795 -3 0 C -3 0.795 -2.683 1.558 -2.121 2.121 C -1.558 2.683 -0.795 3 0 3 z
" style="fill: #8b0000; stroke: #8b0000" transform="translate(617.965 386.002)"/>
<path d="M 0 3 C 0.795 3 1.558 2.683 2.121 2.121 C 2.683 1.558 3 0.795 3 0 C 3 -0.795 2.683 -1.558 2.121 -2.121 C 1.558 -2.683 0.795 -3 0 -3 C -0.795 -3 -1.558 -2.683 -2.121 -2.121 C -2.683 -1.558 -3 -0.795 -3 0 C -3 0.795 -2.683 1.558 -2.121 2.121 C -1.558 2.683 -0.795 3 0 3 z
" style="fill: #8b0000; stroke: #8b0000" transform="translate(625.5 386.002)"/>
<path d="M 0 3 C 0.795 3 1.558 2.683 2.121 2.121 C 2.683 1.558 3 0.795 3 0 C 3 -0.795 2.683 -1.558 2.121 -2.121 C 1.558 -2.683 0.795 -3 0 -3 C -0.795 -3 -1.558 -2.683 -2.121 -2.121 C -2.683 -1.558 -3 -0.795 -3 0 C -3 0.795 -2.683 1.558 -2.121 2.121 C -1.558 2.683 -0.795 3 0 3 z
" style="fill: #8b0000; stroke: #8b0000" transform="translate(633.034 386.002)"/>
<path d="M 0 3 C 0.795 3 1.558 2.683 2.121 2.121 C 2.683 1.558 3 0.795 3 0 C 3 -0.795 2.683 -1.558 2.121 -2.121 C 1.558 -2.683 0.795 -3 0 -3 C -0.795 -3 -1.558 -2.683 -2.121 -2.121 C -2.683 -1.558 -3 -0.795 -3 0 C -3 0.795 -2.683 1.558 -2.121 2.121 C -1.558 2.683 -0.795 3 0 3 z
" style="fill: #8b0000; stroke: #8b0000" transform="translate(640.568 386.002)"/>
<path d="M 0 3 C 0.795 3 1.558 2.683 2.121 2.121 C 2.683 1.558 3 0.795 3 0 C 3 -0.795 2.683 -1.558 2.121 -2.121 C 1.558 -2.683 0.795 -3 0 -3 C -0.795 -3 -1.558 -2.683 -2.121 -2.121 C -2.683 -1.558 -3 -0.795 -3 0 C -3 0.795 -2.683 1.558 -2.121 2.121 C -1.558 2.683 -0.795 3 0 3 z
" style="fill: #8b0000; stroke: #8b0000" transform="translate(648.102 373.886)"/>
<path d="M 0 3 C 0.795 3 1.558 2.683 2.121 2.121 C 2.683 1.558 3 0.795 3 0 C 3 -0.795 2.683 -1.558 2.121 -2.121 C 1.558 -2.683 0.795 -3 0 -3 C -0.795 -3 -1.558 -2.683 -2.121 -2.121 C -2.683 -1.558 -3 -0.795 -3 0 C -3 0.795 -2.683 1.558 -2.121 2.121 C -1.558 2.683 -0.795 3 0 3 z
" style="fill: #8b0000; stroke: #8b0000" transform="translate(655.637 386.002)"/>
<path d="M 0 3 C 0.795 3 1.558 2.683 2.121 2.121 C 2.683 1.558 3 0.795 3 0 C 3 -0.795 2.683 -1.558 2.121 -2.121 C 1.558 -2.683 0.795 -3 0 -3 C -0.795 -3 -1.558 -2.683 -2.121 -2.121 C -2.683 -1.558 -3 -0.795 -3 0 C -3 0.795 -2.683 1.558 -2.121 2.121 C -1.558 2.683 -0.795 3 0 3 z
" style="fill: #8b0000; stroke: #8b0000" transform="translate(663.171 386.002)"/>
<path d="M 0 3 C 0.795 3 1.558 2.683 2.121 2.121 C 2.683 1.558 3 0.795 3 0 C 3 -0.795 2.683 -1.558 2.121 -2.121 C 1.558 -2.683 0.795 -3 0 -3 C -0.795 -3 -1.558 -2.683 -2.121 -2.121 C -2.683 -1.558 -3 -0.795 -3 0 C -3 0.795 -2.683 1.558 -2.121 2.121 C -1.558 2.683 -0.795 3 0 3 z
" style="fill: #8b0000; stroke: #8b0000" transform="translate(670.705 386.002)"/>
<path d="M 0 3 C 0.795 3 1.558 2.683 2.121 2.121 C 2.683 1.558 3 0.795 3 0 C 3 -0.795 2.683 -1.558 2.121 -2.121 C 1.558 -2.683 0.795 -3 0 -3 C -0.795 -3 -1.558 -2.683 -2.121 -2.121 C -2.683 -1.558 -3 -0.795 -3 0 C -3 0.795 -2.683 1.558 -2.121 2.121 C -1.558 2.683 -0.795 3 0 3 z
" style="fill: #8b0000; stroke: #8b0000" transform="translate(678.24 386.002)"/>
<path d="M 0 3 C 0.795 3 1.558 2.683 2.121 2.121 C 2.683 1.558 3 0.795 3 0 C 3 -0.795 2.683 -1.558 2.121 -2.121 C 1.558 -2.683 0.795 -3 0 -3 C -0.795 -3 -1.558 -2.683 -2.121 -2.121 C -2.683 -1.558 -3 -0.795 -3 0 C -3 0.795 -2.683 1.558 -2.121 2.121 C -1.558 2.683 -0.795 3 0 3 z
" style="fill: #8b0000; stroke: #8b0000" transform="translate(685.774 386.002)"/>
<path d="M 0 3 C 0.795 3 1.558 2.683 2.121 2.121 C 2.683 1.558 3 0.795 3 0 C 3 -0.795 2.683 -1.558 2.121 -2.121 C 1.558 -2.683 0.795 -3 0 -3 C -0.795 -3 -1.558 -2.683 -2.121 -2.121 C -2.683 -1.558 -3 -0.795 -3 0 C -3 0.795 -2.683 1.558 -2.121 2.121 C -1.558 2.683 -0.795 3 0 3 z
" style="fill: #8b0000; stroke: #8b0000" transform="translate(693.308 386.002)"/>
<path d="M 0 3 C 0.795 3 1.558 2.683 2.121 2.121 C 2.683 1.558 3 0.795 3 0 C 3 -0.795 2.683 -1.558 2.121 -2.121 C 1.558 -2.683 0.795 -3 0 -3 C -0.795 -3 -1.558 -2.683 -2.121 -2.121 C -2.683 -1.558 -3 -0.795 -3 0 C -3 0.795 -2.683 1.558 -2.121 2.121 C -1.558 2.683 -0.795 3 0 3 z
" style="fill: #8b0000; stroke: #8b0000" transform="translate(700.842 386.002)"/>
<path d="M 0 3 C 0.795 3 1.558 2.683 2.121 2.121 C 2.683 1.558 3 0.795 3 0 C 3 -0.795 2.683 -1.558 2.121 -2.121 C 1.558 -2.683 0.795 -3 0 -3 C -0.795 -3 -1.558 -2.683 -2.121 -2.121 C -2.683 -1.558 -3 -0.795 -3 0 C -3 0.795 -2.683 1.558 -2.121 2.121 C -1.558 2.683 -0.795 3 0 3 z
" style="fill: #8b0000; stroke: #8b0000" transform="translate(708.377 386.002)"/>
<path d="M 0 3 C 0.795 3 1.558 2.683 2.121 2.121 C 2.683 1.558 3 0.795 3 0 C 3 -0.795 2.683 -1.558 2.121 -2.121 C 1.558 -2.683 0.795 -3 0 -3 C -0.795 -3 -1.558 -2.683 -2.121 -2.121 C -2.683 -1.558 -3 -0.795 -3 0 C -3 0.795 -2.683 1.558 -2.121 2.121 C -1.558 2.683 -0.795 3 0 3 z
" style="fill: #8b0000; stroke: #8b0000" transform="translate(715.911 386.002)"/>
<path d="M 0 3 C 0.795 3 1.558 2.683 2.121 2.121 C 2.683 1.558 3 0.795 3 0 C 3 -0.795 2.683 -1.558 2.121 -2.121 C 1.558 -2.683 0.795 -3 0 -3 C -0.795 -3 -1.558 -2.683 -2.121 -2.121 C -2.683 -1.558 -3 -0.795 -3 0 C -3 0.795 -2.683 1.558 -2.121 2.121 C -1.558 2.683 -0.795 3 0 3 z
" style="fill: #8b0000; stroke: #8b0000" transform="translate(723.445 386.002)"/>
<path d="M 0 3 C 0.795 3 1.558 2.683 2.121 2.121 C 2.683 1.558 3 0.795 3 0 C 3 -0.795 2.683 -1.558 2.121 -2.121 C 1.558 -2.683 0.795 -3 0 -3 C -0.795 -3 -1.558 -2.683 -2.121 -2.121 C -2.683 -1.558 -3 -0.795 -3 0 C -3 0.795 -2.683 1.558 -2.121 2.121 C -1.558 2.683 -0.795 3 0 3 z
" style="fill: #8b0000; stroke: #8b0000" transform="translate(730.98 386.002)"/>
</g>
</g>
<g id="line2d_66">
<path d="M 617.965 386.002 L 625.5 340.799 L 633.034 363.620 L 640.568 371.325 L 648.102 363.138 L 655.637 377.673 L 663.171 379.339 L 670.705 380.577 L 678.24 381.550 L 685.774 382.348 L 693.308 383.027 L 700.842 383.622 L 708.377 384.158 L 715.911 384.651 L 723.445 385.116 L 730.98 385.563 " clip-path="url(#p7c59368cb9)" style="fill: none; stroke: #000000; stroke-width: 2; stroke-linecap: square"/>
</g>
<g id="patch_36">
<path d="M 618.706 386.002 L 618.706 251.382 " style="fill: none; stroke: #000000; stroke-width: 0.8; stroke-linejoin: miter; stroke-linecap: square"/>
</g>
<g id="patch_37">
<path d="M 739.254 386.002 L 739.254 251.382 " style="fill: none; stroke: #000000; stroke-width: 0.8; stroke-linejoin: miter; stroke-linecap: square"/>
</g>
<g id="patch_38">
<path d="M 618.706 386.002 L 739.254 386.002 " style="fill: none; stroke: #000000; stroke-width: 0.8; stroke-linejoin: miter; stroke-linecap: square"/>
</g>
<g id="patch_39">
<path d="M 618.706 251.382 L 739.254 251.382 " style="fill: none; stroke: #000000; stroke-width: 0.8; stroke-linejoin: miter; stroke-linecap: square"/>
</g>
</g>
<g id="axes_9">
<g id="patch_40">
<path d="M 82.614 606.651 L 345.846 606.651 L 345.846 471.785 L 82.614 471.785 z
" style="fill: #ffffff"/>
</g>
<g id="matplotlib.axis_15">
<g id="xtick_23">
<g id="line2d_67">
<g>
<path d="M 0 0 L 0 3.5 " style="stroke: #000000; stroke-width: 0.8" transform="translate(94.579 606.651)"/>
</g>
</g>
<g id="text_57">
<text style="font-size: 14.6px; font-family: 'DejaVu Sans', sans-serif; text-anchor: middle" x="94.080" y="623.495" transform="rotate(-0 94.080 623.495)">3289</text>
</g>
</g>
<g id="xtick_24">
<g id="line2d_68">
<g>
<path d="M 0 0 L 0 3.5 " style="stroke: #000000; stroke-width: 0.8" transform="translate(154.405 606.651)"/>
</g>
</g>
<g id="text_58">
<text style="font-size: 14.6px; font-family: 'DejaVu Sans', sans-serif; text-anchor: middle" x="153.905" y="623.495" transform="rotate(-0 153.905 623.495)">3290</text>
</g>
</g>
<g id="xtick_25">
<g id="line2d_69">
<g>
<path d="M 0 0 L 0 3.5 " style="stroke: #000000; stroke-width: 0.8" transform="translate(214.230 606.651)"/>
</g>
</g>
<g id="text_59">
<text style="font-size: 14.6px; font-family: 'DejaVu Sans', sans-serif; text-anchor: middle" x="213.731" y="623.495" transform="rotate(-0 213.731 623.495)">3291</text>
</g>
</g>
<g id="xtick_26">
<g id="line2d_70">
<g>
<path d="M 0 0 L 0 3.5 " style="stroke: #000000; stroke-width: 0.8" transform="translate(274.056 606.651)"/>
</g>
</g>
<g id="text_60">
<text style="font-size: 14.6px; font-family: 'DejaVu Sans', sans-serif; text-anchor: middle" x="273.556" y="623.495" transform="rotate(-0 273.556 623.495)">3292</text>
</g>
</g>
<g id="xtick_27">
<g id="line2d_71">
<g>
<path d="M 0 0 L 0 3.5 " style="stroke: #000000; stroke-width: 0.8" transform="translate(333.881 606.651)"/>
</g>
</g>
<g id="text_61">
<text style="font-size: 14.6px; font-family: 'DejaVu Sans', sans-serif; text-anchor: middle" x="333.382" y="623.495" transform="rotate(-0 333.382 623.495)">3293</text>
</g>
</g>
<g id="text_62">
<g transform="translate(197.955 644.379)">
<text>
<tspan x="0" y="-0.625" style="font-style: oblique; font-size: 15px; font-family: 'DejaVu Sans', sans-serif">t</tspan>
<tspan x="18.808" y="-0.625" style="font-style: oblique; font-size: 15px; font-family: 'DejaVu Sans', sans-serif">s</tspan>
<tspan x="5.881" y="1.835" style="font-style: oblique; font-size: 10.5px; font-family: 'DejaVu Sans', sans-serif">b</tspan>
<tspan x="12.956" y="-0.625" style="font-style: oblique; font-size: 15px; font-family: 'DejaVu Sans', sans-serif">(</tspan>
<tspan x="26.623" y="-0.625" style="font-style: oblique; font-size: 15px; font-family: 'DejaVu Sans', sans-serif">)</tspan>
</text>
</g>
</g>
</g>
<g id="matplotlib.axis_16">
<g id="ytick_31">
<g id="line2d_72">
<g>
<path d="M 0 0 L -3.5 0 " style="stroke: #000000; stroke-width: 0.8" transform="translate(82.614 601.961)"/>
</g>
</g>
<g id="text_63">
<text style="font-size: 14.6px; font-family: 'DejaVu Sans', sans-serif; text-anchor: end" x="74.754" y="607.008" transform="rotate(-0 74.754 607.008)">3.1850</text>
</g>
</g>
<g id="ytick_32">
<g id="line2d_73">
<g>
<path d="M 0 0 L -3.5 0 " style="stroke: #000000; stroke-width: 0.8" transform="translate(82.614 568.182)"/>
</g>
</g>
<g id="text_64">
<text style="font-size: 14.6px; font-family: 'DejaVu Sans', sans-serif; text-anchor: end" x="74.754" y="573.230" transform="rotate(-0 74.754 573.230)">3.1875</text>
</g>
</g>
<g id="ytick_33">
<g id="line2d_74">
<g>
<path d="M 0 0 L -3.5 0 " style="stroke: #000000; stroke-width: 0.8" transform="translate(82.614 534.404)"/>
</g>
</g>
<g id="text_65">
<text style="font-size: 14.6px; font-family: 'DejaVu Sans', sans-serif; text-anchor: end" x="74.754" y="539.451" transform="rotate(-0 74.754 539.451)">3.1900</text>
</g>
</g>
<g id="ytick_34">
<g id="line2d_75">
<g>
<path d="M 0 0 L -3.5 0 " style="stroke: #000000; stroke-width: 0.8" transform="translate(82.614 500.626)"/>
</g>
</g>
<g id="text_66">
<text style="font-size: 14.6px; font-family: 'DejaVu Sans', sans-serif; text-anchor: end" x="74.754" y="505.673" transform="rotate(-0 74.754 505.673)">3.1925</text>
</g>
</g>
<g id="text_67">
<g transform="translate(14.568 581.368) rotate(-90)">
<text>
<tspan x="0" y="-0.609" style="font-size: 15px; font-family: 'DejaVu Sans', sans-serif">V</tspan>
<tspan x="10.261" y="-0.609" style="font-size: 15px; font-family: 'DejaVu Sans', sans-serif">o</tspan>
<tspan x="19.438" y="-0.609" style="font-size: 15px; font-family: 'DejaVu Sans', sans-serif">l</tspan>
<tspan x="23.605" y="-0.609" style="font-size: 15px; font-family: 'DejaVu Sans', sans-serif">t</tspan>
<tspan x="29.487" y="-0.609" style="font-size: 15px; font-family: 'DejaVu Sans', sans-serif">a</tspan>
<tspan x="38.679" y="-0.609" style="font-size: 15px; font-family: 'DejaVu Sans', sans-serif">g</tspan>
<tspan x="48.200" y="-0.609" style="font-size: 15px; font-family: 'DejaVu Sans', sans-serif">e</tspan>
<tspan x="57.429" y="-0.609" style="font-size: 15px; font-family: 'DejaVu Sans', sans-serif"> </tspan>
<tspan x="62.197" y="-0.609" style="font-style: oblique; font-size: 15px; font-family: 'DejaVu Sans', sans-serif">(</tspan>
<tspan x="78.310" y="-0.609" style="font-style: oblique; font-size: 15px; font-family: 'DejaVu Sans', sans-serif">)</tspan>
<tspan x="68.049" y="-0.609" style="font-style: oblique; font-size: 15px; font-family: 'DejaVu Sans', sans-serif">V</tspan>
</text>
</g>
</g>
</g>
<g id="line2d_76">
<path d="M 94.579 475.162 L 102.058 487.591 L 109.536 521.107 L 117.014 556.634 L 124.492 573.915 L 131.970 563.383 L 139.449 531.762 L 146.927 498.131 L 154.405 482.746 L 161.883 495.174 L 169.361 528.691 L 176.839 564.217 L 184.318 581.499 L 191.796 570.966 L 199.274 539.346 L 206.752 505.715 L 214.230 490.329 L 221.709 502.757 L 229.187 536.274 L 236.665 571.801 L 244.143 589.082 L 251.621 578.550 L 259.099 546.929 L 266.578 513.298 L 274.056 497.913 L 281.534 510.341 L 289.012 543.857 L 296.490 579.384 L 303.969 596.666 L 311.447 586.133 L 318.925 554.513 L 326.403 520.882 " clip-path="url(#p7a83f4c533)" style="fill: none; stroke-dasharray: 5.55,2.4; stroke-dashoffset: 0; stroke: #000000; stroke-width: 1.5"/>
<g clip-path="url(#p7a83f4c533)">
<path d="M 0 3 C 0.795 3 1.558 2.683 2.121 2.121 C 2.683 1.558 3 0.795 3 0 C 3 -0.795 2.683 -1.558 2.121 -2.121 C 1.558 -2.683 0.795 -3 0 -3 C -0.795 -3 -1.558 -2.683 -2.121 -2.121 C -2.683 -1.558 -3 -0.795 -3 0 C -3 0.795 -2.683 1.558 -2.121 2.121 C -1.558 2.683 -0.795 3 0 3 z
" style="stroke: #000000" transform="translate(94.579 475.162)"/>
<path d="M 0 3 C 0.795 3 1.558 2.683 2.121 2.121 C 2.683 1.558 3 0.795 3 0 C 3 -0.795 2.683 -1.558 2.121 -2.121 C 1.558 -2.683 0.795 -3 0 -3 C -0.795 -3 -1.558 -2.683 -2.121 -2.121 C -2.683 -1.558 -3 -0.795 -3 0 C -3 0.795 -2.683 1.558 -2.121 2.121 C -1.558 2.683 -0.795 3 0 3 z
" style="stroke: #000000" transform="translate(102.058 487.591)"/>
<path d="M 0 3 C 0.795 3 1.558 2.683 2.121 2.121 C 2.683 1.558 3 0.795 3 0 C 3 -0.795 2.683 -1.558 2.121 -2.121 C 1.558 -2.683 0.795 -3 0 -3 C -0.795 -3 -1.558 -2.683 -2.121 -2.121 C -2.683 -1.558 -3 -0.795 -3 0 C -3 0.795 -2.683 1.558 -2.121 2.121 C -1.558 2.683 -0.795 3 0 3 z
" style="stroke: #000000" transform="translate(109.536 521.107)"/>
<path d="M 0 3 C 0.795 3 1.558 2.683 2.121 2.121 C 2.683 1.558 3 0.795 3 0 C 3 -0.795 2.683 -1.558 2.121 -2.121 C 1.558 -2.683 0.795 -3 0 -3 C -0.795 -3 -1.558 -2.683 -2.121 -2.121 C -2.683 -1.558 -3 -0.795 -3 0 C -3 0.795 -2.683 1.558 -2.121 2.121 C -1.558 2.683 -0.795 3 0 3 z
" style="stroke: #000000" transform="translate(117.014 556.634)"/>
<path d="M 0 3 C 0.795 3 1.558 2.683 2.121 2.121 C 2.683 1.558 3 0.795 3 0 C 3 -0.795 2.683 -1.558 2.121 -2.121 C 1.558 -2.683 0.795 -3 0 -3 C -0.795 -3 -1.558 -2.683 -2.121 -2.121 C -2.683 -1.558 -3 -0.795 -3 0 C -3 0.795 -2.683 1.558 -2.121 2.121 C -1.558 2.683 -0.795 3 0 3 z
" style="stroke: #000000" transform="translate(124.492 573.915)"/>
<path d="M 0 3 C 0.795 3 1.558 2.683 2.121 2.121 C 2.683 1.558 3 0.795 3 0 C 3 -0.795 2.683 -1.558 2.121 -2.121 C 1.558 -2.683 0.795 -3 0 -3 C -0.795 -3 -1.558 -2.683 -2.121 -2.121 C -2.683 -1.558 -3 -0.795 -3 0 C -3 0.795 -2.683 1.558 -2.121 2.121 C -1.558 2.683 -0.795 3 0 3 z
" style="stroke: #000000" transform="translate(131.970 563.383)"/>
<path d="M 0 3 C 0.795 3 1.558 2.683 2.121 2.121 C 2.683 1.558 3 0.795 3 0 C 3 -0.795 2.683 -1.558 2.121 -2.121 C 1.558 -2.683 0.795 -3 0 -3 C -0.795 -3 -1.558 -2.683 -2.121 -2.121 C -2.683 -1.558 -3 -0.795 -3 0 C -3 0.795 -2.683 1.558 -2.121 2.121 C -1.558 2.683 -0.795 3 0 3 z
" style="stroke: #000000" transform="translate(139.449 531.762)"/>
<path d="M 0 3 C 0.795 3 1.558 2.683 2.121 2.121 C 2.683 1.558 3 0.795 3 0 C 3 -0.795 2.683 -1.558 2.121 -2.121 C 1.558 -2.683 0.795 -3 0 -3 C -0.795 -3 -1.558 -2.683 -2.121 -2.121 C -2.683 -1.558 -3 -0.795 -3 0 C -3 0.795 -2.683 1.558 -2.121 2.121 C -1.558 2.683 -0.795 3 0 3 z
" style="stroke: #000000" transform="translate(146.927 498.131)"/>
<path d="M 0 3 C 0.795 3 1.558 2.683 2.121 2.121 C 2.683 1.558 3 0.795 3 0 C 3 -0.795 2.683 -1.558 2.121 -2.121 C 1.558 -2.683 0.795 -3 0 -3 C -0.795 -3 -1.558 -2.683 -2.121 -2.121 C -2.683 -1.558 -3 -0.795 -3 0 C -3 0.795 -2.683 1.558 -2.121 2.121 C -1.558 2.683 -0.795 3 0 3 z
" style="stroke: #000000" transform="translate(154.405 482.746)"/>
<path d="M 0 3 C 0.795 3 1.558 2.683 2.121 2.121 C 2.683 1.558 3 0.795 3 0 C 3 -0.795 2.683 -1.558 2.121 -2.121 C 1.558 -2.683 0.795 -3 0 -3 C -0.795 -3 -1.558 -2.683 -2.121 -2.121 C -2.683 -1.558 -3 -0.795 -3 0 C -3 0.795 -2.683 1.558 -2.121 2.121 C -1.558 2.683 -0.795 3 0 3 z
" style="stroke: #000000" transform="translate(161.883 495.174)"/>
<path d="M 0 3 C 0.795 3 1.558 2.683 2.121 2.121 C 2.683 1.558 3 0.795 3 0 C 3 -0.795 2.683 -1.558 2.121 -2.121 C 1.558 -2.683 0.795 -3 0 -3 C -0.795 -3 -1.558 -2.683 -2.121 -2.121 C -2.683 -1.558 -3 -0.795 -3 0 C -3 0.795 -2.683 1.558 -2.121 2.121 C -1.558 2.683 -0.795 3 0 3 z
" style="stroke: #000000" transform="translate(169.361 528.691)"/>
<path d="M 0 3 C 0.795 3 1.558 2.683 2.121 2.121 C 2.683 1.558 3 0.795 3 0 C 3 -0.795 2.683 -1.558 2.121 -2.121 C 1.558 -2.683 0.795 -3 0 -3 C -0.795 -3 -1.558 -2.683 -2.121 -2.121 C -2.683 -1.558 -3 -0.795 -3 0 C -3 0.795 -2.683 1.558 -2.121 2.121 C -1.558 2.683 -0.795 3 0 3 z
" style="stroke: #000000" transform="translate(176.839 564.217)"/>
<path d="M 0 3 C 0.795 3 1.558 2.683 2.121 2.121 C 2.683 1.558 3 0.795 3 0 C 3 -0.795 2.683 -1.558 2.121 -2.121 C 1.558 -2.683 0.795 -3 0 -3 C -0.795 -3 -1.558 -2.683 -2.121 -2.121 C -2.683 -1.558 -3 -0.795 -3 0 C -3 0.795 -2.683 1.558 -2.121 2.121 C -1.558 2.683 -0.795 3 0 3 z
" style="stroke: #000000" transform="translate(184.318 581.499)"/>
<path d="M 0 3 C 0.795 3 1.558 2.683 2.121 2.121 C 2.683 1.558 3 0.795 3 0 C 3 -0.795 2.683 -1.558 2.121 -2.121 C 1.558 -2.683 0.795 -3 0 -3 C -0.795 -3 -1.558 -2.683 -2.121 -2.121 C -2.683 -1.558 -3 -0.795 -3 0 C -3 0.795 -2.683 1.558 -2.121 2.121 C -1.558 2.683 -0.795 3 0 3 z
" style="stroke: #000000" transform="translate(191.796 570.966)"/>
<path d="M 0 3 C 0.795 3 1.558 2.683 2.121 2.121 C 2.683 1.558 3 0.795 3 0 C 3 -0.795 2.683 -1.558 2.121 -2.121 C 1.558 -2.683 0.795 -3 0 -3 C -0.795 -3 -1.558 -2.683 -2.121 -2.121 C -2.683 -1.558 -3 -0.795 -3 0 C -3 0.795 -2.683 1.558 -2.121 2.121 C -1.558 2.683 -0.795 3 0 3 z
" style="stroke: #000000" transform="translate(199.274 539.346)"/>
<path d="M 0 3 C 0.795 3 1.558 2.683 2.121 2.121 C 2.683 1.558 3 0.795 3 0 C 3 -0.795 2.683 -1.558 2.121 -2.121 C 1.558 -2.683 0.795 -3 0 -3 C -0.795 -3 -1.558 -2.683 -2.121 -2.121 C -2.683 -1.558 -3 -0.795 -3 0 C -3 0.795 -2.683 1.558 -2.121 2.121 C -1.558 2.683 -0.795 3 0 3 z
" style="stroke: #000000" transform="translate(206.752 505.715)"/>
<path d="M 0 3 C 0.795 3 1.558 2.683 2.121 2.121 C 2.683 1.558 3 0.795 3 0 C 3 -0.795 2.683 -1.558 2.121 -2.121 C 1.558 -2.683 0.795 -3 0 -3 C -0.795 -3 -1.558 -2.683 -2.121 -2.121 C -2.683 -1.558 -3 -0.795 -3 0 C -3 0.795 -2.683 1.558 -2.121 2.121 C -1.558 2.683 -0.795 3 0 3 z
" style="stroke: #000000" transform="translate(214.230 490.329)"/>
<path d="M 0 3 C 0.795 3 1.558 2.683 2.121 2.121 C 2.683 1.558 3 0.795 3 0 C 3 -0.795 2.683 -1.558 2.121 -2.121 C 1.558 -2.683 0.795 -3 0 -3 C -0.795 -3 -1.558 -2.683 -2.121 -2.121 C -2.683 -1.558 -3 -0.795 -3 0 C -3 0.795 -2.683 1.558 -2.121 2.121 C -1.558 2.683 -0.795 3 0 3 z
" style="stroke: #000000" transform="translate(221.709 502.757)"/>
<path d="M 0 3 C 0.795 3 1.558 2.683 2.121 2.121 C 2.683 1.558 3 0.795 3 0 C 3 -0.795 2.683 -1.558 2.121 -2.121 C 1.558 -2.683 0.795 -3 0 -3 C -0.795 -3 -1.558 -2.683 -2.121 -2.121 C -2.683 -1.558 -3 -0.795 -3 0 C -3 0.795 -2.683 1.558 -2.121 2.121 C -1.558 2.683 -0.795 3 0 3 z
" style="stroke: #000000" transform="translate(229.187 536.274)"/>
<path d="M 0 3 C 0.795 3 1.558 2.683 2.121 2.121 C 2.683 1.558 3 0.795 3 0 C 3 -0.795 2.683 -1.558 2.121 -2.121 C 1.558 -2.683 0.795 -3 0 -3 C -0.795 -3 -1.558 -2.683 -2.121 -2.121 C -2.683 -1.558 -3 -0.795 -3 0 C -3 0.795 -2.683 1.558 -2.121 2.121 C -1.558 2.683 -0.795 3 0 3 z
" style="stroke: #000000" transform="translate(236.665 571.801)"/>
<path d="M 0 3 C 0.795 3 1.558 2.683 2.121 2.121 C 2.683 1.558 3 0.795 3 0 C 3 -0.795 2.683 -1.558 2.121 -2.121 C 1.558 -2.683 0.795 -3 0 -3 C -0.795 -3 -1.558 -2.683 -2.121 -2.121 C -2.683 -1.558 -3 -0.795 -3 0 C -3 0.795 -2.683 1.558 -2.121 2.121 C -1.558 2.683 -0.795 3 0 3 z
" style="stroke: #000000" transform="translate(244.143 589.082)"/>
<path d="M 0 3 C 0.795 3 1.558 2.683 2.121 2.121 C 2.683 1.558 3 0.795 3 0 C 3 -0.795 2.683 -1.558 2.121 -2.121 C 1.558 -2.683 0.795 -3 0 -3 C -0.795 -3 -1.558 -2.683 -2.121 -2.121 C -2.683 -1.558 -3 -0.795 -3 0 C -3 0.795 -2.683 1.558 -2.121 2.121 C -1.558 2.683 -0.795 3 0 3 z
" style="stroke: #000000" transform="translate(251.621 578.550)"/>
<path d="M 0 3 C 0.795 3 1.558 2.683 2.121 2.121 C 2.683 1.558 3 0.795 3 0 C 3 -0.795 2.683 -1.558 2.121 -2.121 C 1.558 -2.683 0.795 -3 0 -3 C -0.795 -3 -1.558 -2.683 -2.121 -2.121 C -2.683 -1.558 -3 -0.795 -3 0 C -3 0.795 -2.683 1.558 -2.121 2.121 C -1.558 2.683 -0.795 3 0 3 z
" style="stroke: #000000" transform="translate(259.099 546.929)"/>
<path d="M 0 3 C 0.795 3 1.558 2.683 2.121 2.121 C 2.683 1.558 3 0.795 3 0 C 3 -0.795 2.683 -1.558 2.121 -2.121 C 1.558 -2.683 0.795 -3 0 -3 C -0.795 -3 -1.558 -2.683 -2.121 -2.121 C -2.683 -1.558 -3 -0.795 -3 0 C -3 0.795 -2.683 1.558 -2.121 2.121 C -1.558 2.683 -0.795 3 0 3 z
" style="stroke: #000000" transform="translate(266.578 513.298)"/>
<path d="M 0 3 C 0.795 3 1.558 2.683 2.121 2.121 C 2.683 1.558 3 0.795 3 0 C 3 -0.795 2.683 -1.558 2.121 -2.121 C 1.558 -2.683 0.795 -3 0 -3 C -0.795 -3 -1.558 -2.683 -2.121 -2.121 C -2.683 -1.558 -3 -0.795 -3 0 C -3 0.795 -2.683 1.558 -2.121 2.121 C -1.558 2.683 -0.795 3 0 3 z
" style="stroke: #000000" transform="translate(274.056 497.913)"/>
<path d="M 0 3 C 0.795 3 1.558 2.683 2.121 2.121 C 2.683 1.558 3 0.795 3 0 C 3 -0.795 2.683 -1.558 2.121 -2.121 C 1.558 -2.683 0.795 -3 0 -3 C -0.795 -3 -1.558 -2.683 -2.121 -2.121 C -2.683 -1.558 -3 -0.795 -3 0 C -3 0.795 -2.683 1.558 -2.121 2.121 C -1.558 2.683 -0.795 3 0 3 z
" style="stroke: #000000" transform="translate(281.534 510.341)"/>
<path d="M 0 3 C 0.795 3 1.558 2.683 2.121 2.121 C 2.683 1.558 3 0.795 3 0 C 3 -0.795 2.683 -1.558 2.121 -2.121 C 1.558 -2.683 0.795 -3 0 -3 C -0.795 -3 -1.558 -2.683 -2.121 -2.121 C -2.683 -1.558 -3 -0.795 -3 0 C -3 0.795 -2.683 1.558 -2.121 2.121 C -1.558 2.683 -0.795 3 0 3 z
" style="stroke: #000000" transform="translate(289.012 543.857)"/>
<path d="M 0 3 C 0.795 3 1.558 2.683 2.121 2.121 C 2.683 1.558 3 0.795 3 0 C 3 -0.795 2.683 -1.558 2.121 -2.121 C 1.558 -2.683 0.795 -3 0 -3 C -0.795 -3 -1.558 -2.683 -2.121 -2.121 C -2.683 -1.558 -3 -0.795 -3 0 C -3 0.795 -2.683 1.558 -2.121 2.121 C -1.558 2.683 -0.795 3 0 3 z
" style="stroke: #000000" transform="translate(296.490 579.384)"/>
<path d="M 0 3 C 0.795 3 1.558 2.683 2.121 2.121 C 2.683 1.558 3 0.795 3 0 C 3 -0.795 2.683 -1.558 2.121 -2.121 C 1.558 -2.683 0.795 -3 0 -3 C -0.795 -3 -1.558 -2.683 -2.121 -2.121 C -2.683 -1.558 -3 -0.795 -3 0 C -3 0.795 -2.683 1.558 -2.121 2.121 C -1.558 2.683 -0.795 3 0 3 z
" style="stroke: #000000" transform="translate(303.969 596.666)"/>
<path d="M 0 3 C 0.795 3 1.558 2.683 2.121 2.121 C 2.683 1.558 3 0.795 3 0 C 3 -0.795 2.683 -1.558 2.121 -2.121 C 1.558 -2.683 0.795 -3 0 -3 C -0.795 -3 -1.558 -2.683 -2.121 -2.121 C -2.683 -1.558 -3 -0.795 -3 0 C -3 0.795 -2.683 1.558 -2.121 2.121 C -1.558 2.683 -0.795 3 0 3 z
" style="stroke: #000000" transform="translate(311.447 586.133)"/>
<path d="M 0 3 C 0.795 3 1.558 2.683 2.121 2.121 C 2.683 1.558 3 0.795 3 0 C 3 -0.795 2.683 -1.558 2.121 -2.121 C 1.558 -2.683 0.795 -3 0 -3 C -0.795 -3 -1.558 -2.683 -2.121 -2.121 C -2.683 -1.558 -3 -0.795 -3 0 C -3 0.795 -2.683 1.558 -2.121 2.121 C -1.558 2.683 -0.795 3 0 3 z
" style="stroke: #000000" transform="translate(318.925 554.513)"/>
<path d="M 0 3 C 0.795 3 1.558 2.683 2.121 2.121 C 2.683 1.558 3 0.795 3 0 C 3 -0.795 2.683 -1.558 2.121 -2.121 C 1.558 -2.683 0.795 -3 0 -3 C -0.795 -3 -1.558 -2.683 -2.121 -2.121 C -2.683 -1.558 -3 -0.795 -3 0 C -3 0.795 -2.683 1.558 -2.121 2.121 C -1.558 2.683 -0.795 3 0 3 z
" style="stroke: #000000" transform="translate(326.403 520.882)"/>
</g>
</g>
<g id="line2d_77">
<path d="M 94.144 524.16 L 333.247 554.112 " clip-path="url(#p7a83f4c533)" style="fill: none; stroke: #000000; stroke-width: 1.5; stroke-linecap: square"/>
</g>
<g id="patch_41">
<path d="M 82.614 606.651 L 82.614 471.785 " style="fill: none; stroke: #000000; stroke-width: 0.8; stroke-linejoin: miter; stroke-linecap: square"/>
</g>
<g id="patch_42">
<path d="M 345.846 606.651 L 345.846 471.785 " style="fill: none; stroke: #000000; stroke-width: 0.8; stroke-linejoin: miter; stroke-linecap: square"/>
</g>
<g id="patch_43">
<path d="M 82.614 606.651 L 345.846 606.651 " style="fill: none; stroke: #000000; stroke-width: 0.8; stroke-linejoin: miter; stroke-linecap: square"/>
</g>
<g id="patch_44">
<path d="M 82.614 471.785 L 345.846 471.785 " style="fill: none; stroke: #000000; stroke-width: 0.8; stroke-linejoin: miter; stroke-linecap: square"/>
</g>
</g>
<g id="axes_10">
<g id="matplotlib.axis_17">
<g id="ytick_35">
<g id="line2d_78">
<g>
<path d="M 0 0 L 3.5 0 " style="stroke: #000000; stroke-width: 0.8" transform="translate(345.846 592.193)"/>
</g>
</g>
<g id="text_68">
<text style="font-size: 14.6px; font-family: 'DejaVu Sans', sans-serif; text-anchor: start; fill: #1f77b4" x="351.646" y="597.240" transform="rotate(-0 351.646 597.240)">28.5</text>
</g>
</g>
<g id="ytick_36">
<g id="line2d_79">
<g>
<path d="M 0 0 L 3.5 0 " style="stroke: #000000; stroke-width: 0.8" transform="translate(345.846 539.218)"/>
</g>
</g>
<g id="text_69">
<text style="font-size: 14.6px; font-family: 'DejaVu Sans', sans-serif; text-anchor: start; fill: #1f77b4" x="351.646" y="544.265" transform="rotate(-0 351.646 544.265)">29.0</text>
</g>
</g>
<g id="ytick_37">
<g id="line2d_80">
<g>
<path d="M 0 0 L 3.5 0 " style="stroke: #000000; stroke-width: 0.8" transform="translate(345.846 486.243)"/>
</g>
</g>
<g id="text_70">
<text style="font-size: 14.6px; font-family: 'DejaVu Sans', sans-serif; text-anchor: start; fill: #1f77b4" x="351.646" y="491.290" transform="rotate(-0 351.646 491.290)">29.5</text>
</g>
</g>
<g id="text_71">
<g style="fill: #1f77b4" transform="translate(403.854 584.743) rotate(-90)">
<text>
<tspan x="0" y="-0.773" style="font-size: 15px; font-family: 'DejaVu Sans', sans-serif; fill: #1f77b4">C</tspan>
<tspan x="10.473" y="-0.773" style="font-size: 15px; font-family: 'DejaVu Sans', sans-serif; fill: #1f77b4">u</tspan>
<tspan x="19.980" y="-0.773" style="font-size: 15px; font-family: 'DejaVu Sans', sans-serif; fill: #1f77b4">r</tspan>
<tspan x="26.147" y="-0.773" style="font-size: 15px; font-family: 'DejaVu Sans', sans-serif; fill: #1f77b4">r</tspan>
<tspan x="32.314" y="-0.773" style="font-size: 15px; font-family: 'DejaVu Sans', sans-serif; fill: #1f77b4">e</tspan>
<tspan x="41.542" y="-0.773" style="font-size: 15px; font-family: 'DejaVu Sans', sans-serif; fill: #1f77b4">n</tspan>
<tspan x="51.049" y="-0.773" style="font-size: 15px; font-family: 'DejaVu Sans', sans-serif; fill: #1f77b4">t</tspan>
<tspan x="56.931" y="-0.773" style="font-size: 15px; font-family: 'DejaVu Sans', sans-serif; fill: #1f77b4"> </tspan>
<tspan x="61.699" y="-0.773" style="font-size: 15px; font-family: 'DejaVu Sans', sans-serif; fill: #1f77b4">(</tspan>
<tspan x="85.106" y="-0.773" style="font-size: 15px; font-family: 'DejaVu Sans', sans-serif; fill: #1f77b4">)</tspan>
<tspan x="67.551" y="6.822" style="font-style: oblique; font-size: 10.5px; font-family: 'DejaVu Sans', sans-serif; fill: #1f77b4">m</tspan>
<tspan x="71.551" y="-7.343" style="font-style: oblique; font-size: 10.5px; font-family: 'DejaVu Sans', sans-serif; fill: #1f77b4">A</tspan>
<tspan x="78.268" y="2.802" style="font-size: 7.35px; font-family: 'DejaVu Sans', sans-serif; fill: #1f77b4">2</tspan>
</text>
<rect x="67.551" y="-4.593" width="15.680" height="0.937"/>
</g>
</g>
</g>
<g id="line2d_81">
<path d="M 94.579 477.915 L 102.058 495.870 L 109.536 539.218 L 117.014 582.565 L 124.492 600.521 L 131.970 582.565 L 139.449 539.218 L 146.927 495.870 L 154.405 477.915 L 161.883 495.870 L 169.361 539.218 L 176.839 582.565 L 184.318 600.521 L 191.796 582.565 L 199.274 539.218 L 206.752 495.870 L 214.230 477.915 L 221.709 495.870 L 229.187 539.218 L 236.665 582.565 L 244.143 600.521 L 251.621 582.565 L 259.099 539.218 L 266.578 495.870 L 274.056 477.915 L 281.534 495.870 L 289.012 539.218 L 296.490 582.565 L 303.969 600.521 L 311.447 582.565 L 318.925 539.218 L 326.403 495.870 " clip-path="url(#p36e7ce3ff7)" style="fill: none; stroke-dasharray: 5.55,2.4; stroke-dashoffset: 0; stroke: #1f77b4; stroke-width: 1.5"/>
<g clip-path="url(#p36e7ce3ff7)">
<path d="M -3 3 L 3 -3 M -3 -3 L 3 3 " style="fill: #1f77b4; stroke: #1f77b4" transform="translate(94.579 477.915)"/>
<path d="M -3 3 L 3 -3 M -3 -3 L 3 3 " style="fill: #1f77b4; stroke: #1f77b4" transform="translate(102.058 495.870)"/>
<path d="M -3 3 L 3 -3 M -3 -3 L 3 3 " style="fill: #1f77b4; stroke: #1f77b4" transform="translate(109.536 539.218)"/>
<path d="M -3 3 L 3 -3 M -3 -3 L 3 3 " style="fill: #1f77b4; stroke: #1f77b4" transform="translate(117.014 582.565)"/>
<path d="M -3 3 L 3 -3 M -3 -3 L 3 3 " style="fill: #1f77b4; stroke: #1f77b4" transform="translate(124.492 600.521)"/>
<path d="M -3 3 L 3 -3 M -3 -3 L 3 3 " style="fill: #1f77b4; stroke: #1f77b4" transform="translate(131.970 582.565)"/>
<path d="M -3 3 L 3 -3 M -3 -3 L 3 3 " style="fill: #1f77b4; stroke: #1f77b4" transform="translate(139.449 539.218)"/>
<path d="M -3 3 L 3 -3 M -3 -3 L 3 3 " style="fill: #1f77b4; stroke: #1f77b4" transform="translate(146.927 495.870)"/>
<path d="M -3 3 L 3 -3 M -3 -3 L 3 3 " style="fill: #1f77b4; stroke: #1f77b4" transform="translate(154.405 477.915)"/>
<path d="M -3 3 L 3 -3 M -3 -3 L 3 3 " style="fill: #1f77b4; stroke: #1f77b4" transform="translate(161.883 495.870)"/>
<path d="M -3 3 L 3 -3 M -3 -3 L 3 3 " style="fill: #1f77b4; stroke: #1f77b4" transform="translate(169.361 539.218)"/>
<path d="M -3 3 L 3 -3 M -3 -3 L 3 3 " style="fill: #1f77b4; stroke: #1f77b4" transform="translate(176.839 582.565)"/>
<path d="M -3 3 L 3 -3 M -3 -3 L 3 3 " style="fill: #1f77b4; stroke: #1f77b4" transform="translate(184.318 600.521)"/>
<path d="M -3 3 L 3 -3 M -3 -3 L 3 3 " style="fill: #1f77b4; stroke: #1f77b4" transform="translate(191.796 582.565)"/>
<path d="M -3 3 L 3 -3 M -3 -3 L 3 3 " style="fill: #1f77b4; stroke: #1f77b4" transform="translate(199.274 539.218)"/>
<path d="M -3 3 L 3 -3 M -3 -3 L 3 3 " style="fill: #1f77b4; stroke: #1f77b4" transform="translate(206.752 495.870)"/>
<path d="M -3 3 L 3 -3 M -3 -3 L 3 3 " style="fill: #1f77b4; stroke: #1f77b4" transform="translate(214.230 477.915)"/>
<path d="M -3 3 L 3 -3 M -3 -3 L 3 3 " style="fill: #1f77b4; stroke: #1f77b4" transform="translate(221.709 495.870)"/>
<path d="M -3 3 L 3 -3 M -3 -3 L 3 3 " style="fill: #1f77b4; stroke: #1f77b4" transform="translate(229.187 539.218)"/>
<path d="M -3 3 L 3 -3 M -3 -3 L 3 3 " style="fill: #1f77b4; stroke: #1f77b4" transform="translate(236.665 582.565)"/>
<path d="M -3 3 L 3 -3 M -3 -3 L 3 3 " style="fill: #1f77b4; stroke: #1f77b4" transform="translate(244.143 600.521)"/>
<path d="M -3 3 L 3 -3 M -3 -3 L 3 3 " style="fill: #1f77b4; stroke: #1f77b4" transform="translate(251.621 582.565)"/>
<path d="M -3 3 L 3 -3 M -3 -3 L 3 3 " style="fill: #1f77b4; stroke: #1f77b4" transform="translate(259.099 539.218)"/>
<path d="M -3 3 L 3 -3 M -3 -3 L 3 3 " style="fill: #1f77b4; stroke: #1f77b4" transform="translate(266.578 495.870)"/>
<path d="M -3 3 L 3 -3 M -3 -3 L 3 3 " style="fill: #1f77b4; stroke: #1f77b4" transform="translate(274.056 477.915)"/>
<path d="M -3 3 L 3 -3 M -3 -3 L 3 3 " style="fill: #1f77b4; stroke: #1f77b4" transform="translate(281.534 495.870)"/>
<path d="M -3 3 L 3 -3 M -3 -3 L 3 3 " style="fill: #1f77b4; stroke: #1f77b4" transform="translate(289.012 539.218)"/>
<path d="M -3 3 L 3 -3 M -3 -3 L 3 3 " style="fill: #1f77b4; stroke: #1f77b4" transform="translate(296.490 582.565)"/>
<path d="M -3 3 L 3 -3 M -3 -3 L 3 3 " style="fill: #1f77b4; stroke: #1f77b4" transform="translate(303.969 600.521)"/>
<path d="M -3 3 L 3 -3 M -3 -3 L 3 3 " style="fill: #1f77b4; stroke: #1f77b4" transform="translate(311.447 582.565)"/>
<path d="M -3 3 L 3 -3 M -3 -3 L 3 3 " style="fill: #1f77b4; stroke: #1f77b4" transform="translate(318.925 539.218)"/>
<path d="M -3 3 L 3 -3 M -3 -3 L 3 3 " style="fill: #1f77b4; stroke: #1f77b4" transform="translate(326.403 495.870)"/>
</g>
</g>
<g id="patch_45">
<path d="M 82.614 606.651 L 82.614 471.785 " style="fill: none; stroke: #000000; stroke-width: 0.8; stroke-linejoin: miter; stroke-linecap: square"/>
</g>
<g id="patch_46">
<path d="M 345.846 606.651 L 345.846 471.785 " style="fill: none; stroke: #000000; stroke-width: 0.8; stroke-linejoin: miter; stroke-linecap: square"/>
</g>
<g id="patch_47">
<path d="M 82.614 606.651 L 345.846 606.651 " style="fill: none; stroke: #000000; stroke-width: 0.8; stroke-linejoin: miter; stroke-linecap: square"/>
</g>
<g id="patch_48">
<path d="M 82.614 471.785 L 345.846 471.785 " style="fill: none; stroke: #000000; stroke-width: 0.8; stroke-linejoin: miter; stroke-linecap: square"/>
</g>
</g>
<g id="axes_11">
<g id="patch_49">
<path d="M 487.460 606.651 L 609.366 606.651 L 609.366 471.785 L 487.460 471.785 z
" style="fill: #ffffff"/>
</g>
<g id="matplotlib.axis_18">
<g id="xtick_28">
<g id="line2d_82">
<g>
<path d="M 0 0 L 0 3.5 " style="stroke: #000000; stroke-width: 0.8" transform="translate(487.460 606.651)"/>
</g>
</g>
<g id="text_72">
<text style="font-size: 14.6px; font-family: 'DejaVu Sans', sans-serif; text-anchor: middle" x="486.961" y="623.495" transform="rotate(-0 486.961 623.495)">0</text>
</g>
</g>
<g id="xtick_29">
<g id="line2d_83">
<g>
<path d="M 0 0 L 0 3.5 " style="stroke: #000000; stroke-width: 0.8" transform="translate(548.413 606.651)"/>
</g>
</g>
<g id="text_73">
<text style="font-size: 14.6px; font-family: 'DejaVu Sans', sans-serif; text-anchor: middle" x="547.914" y="623.495" transform="rotate(-0 547.914 623.495)">2</text>
</g>
</g>
<g id="xtick_30">
<g id="line2d_84">
<g>
<path d="M 0 0 L 0 3.5 " style="stroke: #000000; stroke-width: 0.8" transform="translate(609.366 606.651)"/>
</g>
</g>
<g id="text_74">
<text style="font-size: 14.6px; font-family: 'DejaVu Sans', sans-serif; text-anchor: middle" x="608.867" y="623.495" transform="rotate(-0 608.867 623.495)">4</text>
</g>
</g>
<g id="text_75">
<g transform="translate(526.663 644.379)">
<text>
<tspan x="0" y="-0.625" style="font-style: oblique; font-size: 15px; font-family: 'DejaVu Sans', sans-serif">ω</tspan>
<tspan x="18.413" y="-0.625" style="font-style: oblique; font-size: 15px; font-family: 'DejaVu Sans', sans-serif">H</tspan>
<tspan x="29.692" y="-0.625" style="font-style: oblique; font-size: 15px; font-family: 'DejaVu Sans', sans-serif">z</tspan>
<tspan x="12.561" y="-0.625" style="font-style: oblique; font-size: 15px; font-family: 'DejaVu Sans', sans-serif">(</tspan>
<tspan x="37.565" y="-0.625" style="font-style: oblique; font-size: 15px; font-family: 'DejaVu Sans', sans-serif">)</tspan>
</text>
</g>
</g>
</g>
<g id="matplotlib.axis_19">
<g id="ytick_38">
<g id="line2d_85">
<g>
<path d="M 0 0 L -3.5 0 " style="stroke: #000000; stroke-width: 0.8" transform="translate(487.460 606.651)"/>
</g>
</g>
<g id="text_76">
<text style="font-size: 14.6px; font-family: 'DejaVu Sans', sans-serif; text-anchor: end" x="480.460" y="611.698" transform="rotate(-0 480.460 611.698)">0</text>
</g>
</g>
<g id="ytick_39">
<g id="line2d_86">
<g>
<path d="M 0 0 L -3.5 0 " style="stroke: #000000; stroke-width: 0.8" transform="translate(487.460 568.118)"/>
</g>
</g>
<g id="text_77">
<text style="font-size: 14.6px; font-family: 'DejaVu Sans', sans-serif; text-anchor: end" x="480.460" y="573.165" transform="rotate(-0 480.460 573.165)">2</text>
</g>
</g>
<g id="ytick_40">
<g id="line2d_87">
<g>
<path d="M 0 0 L -3.5 0 " style="stroke: #000000; stroke-width: 0.8" transform="translate(487.460 529.584)"/>
</g>
</g>
<g id="text_78">
<text style="font-size: 14.6px; font-family: 'DejaVu Sans', sans-serif; text-anchor: end" x="480.460" y="534.632" transform="rotate(-0 480.460 534.632)">4</text>
</g>
</g>
<g id="ytick_41">
<g id="line2d_88">
<g>
<path d="M 0 0 L -3.5 0 " style="stroke: #000000; stroke-width: 0.8" transform="translate(487.460 491.051)"/>
</g>
</g>
<g id="text_79">
<text style="font-size: 14.6px; font-family: 'DejaVu Sans', sans-serif; text-anchor: end" x="480.460" y="496.099" transform="rotate(-0 480.460 496.099)">6</text>
</g>
</g>
<g id="text_80">
<g transform="translate(462.951 562.693) rotate(-90)">
<text>
<tspan x="0" y="-0.671" style="font-style: oblique; font-size: 15px; font-family: 'DejaVu Sans', sans-serif">V</tspan>
<tspan x="16.113" y="-0.671" style="font-style: oblique; font-size: 15px; font-family: 'DejaVu Sans', sans-serif">m</tspan>
<tspan x="30.725" y="-0.671" style="font-style: oblique; font-size: 15px; font-family: 'DejaVu Sans', sans-serif">V</tspan>
<tspan x="10.261" y="-0.671" style="font-style: oblique; font-size: 15px; font-family: 'DejaVu Sans', sans-serif">(</tspan>
<tspan x="40.986" y="-0.671" style="font-style: oblique; font-size: 15px; font-family: 'DejaVu Sans', sans-serif">)</tspan>
</text>
<text transform="translate(-0.261 -10.137) scale(1.020 1)" style="font-weight: 200; font-size: 15.000px; font-family: 'DejaVu Sans', sans-serif; stroke: #000000; stroke-width: 0.220">~</text>
</g>
</g>
</g>
<g id="line2d_89">
<g clip-path="url(#p2cb474c598)">
<path d="M 0 3 C 0.795 3 1.558 2.683 2.121 2.121 C 2.683 1.558 3 0.795 3 0 C 3 -0.795 2.683 -1.558 2.121 -2.121 C 1.558 -2.683 0.795 -3 0 -3 C -0.795 -3 -1.558 -2.683 -2.121 -2.121 C -2.683 -1.558 -3 -0.795 -3 0 C -3 0.795 -2.683 1.558 -2.121 2.121 C -1.558 2.683 -0.795 3 0 3 z
" style="fill: #8b0000; stroke: #8b0000" transform="translate(486.72 606.651)"/>
<path d="M 0 3 C 0.795 3 1.558 2.683 2.121 2.121 C 2.683 1.558 3 0.795 3 0 C 3 -0.795 2.683 -1.558 2.121 -2.121 C 1.558 -2.683 0.795 -3 0 -3 C -0.795 -3 -1.558 -2.683 -2.121 -2.121 C -2.683 -1.558 -3 -0.795 -3 0 C -3 0.795 -2.683 1.558 -2.121 2.121 C -1.558 2.683 -0.795 3 0 3 z
" style="fill: #8b0000; stroke: #8b0000" transform="translate(494.339 606.651)"/>
<path d="M 0 3 C 0.795 3 1.558 2.683 2.121 2.121 C 2.683 1.558 3 0.795 3 0 C 3 -0.795 2.683 -1.558 2.121 -2.121 C 1.558 -2.683 0.795 -3 0 -3 C -0.795 -3 -1.558 -2.683 -2.121 -2.121 C -2.683 -1.558 -3 -0.795 -3 0 C -3 0.795 -2.683 1.558 -2.121 2.121 C -1.558 2.683 -0.795 3 0 3 z
" style="fill: #8b0000; stroke: #8b0000" transform="translate(501.958 606.651)"/>
<path d="M 0 3 C 0.795 3 1.558 2.683 2.121 2.121 C 2.683 1.558 3 0.795 3 0 C 3 -0.795 2.683 -1.558 2.121 -2.121 C 1.558 -2.683 0.795 -3 0 -3 C -0.795 -3 -1.558 -2.683 -2.121 -2.121 C -2.683 -1.558 -3 -0.795 -3 0 C -3 0.795 -2.683 1.558 -2.121 2.121 C -1.558 2.683 -0.795 3 0 3 z
" style="fill: #8b0000; stroke: #8b0000" transform="translate(509.577 606.651)"/>
<path d="M 0 3 C 0.795 3 1.558 2.683 2.121 2.121 C 2.683 1.558 3 0.795 3 0 C 3 -0.795 2.683 -1.558 2.121 -2.121 C 1.558 -2.683 0.795 -3 0 -3 C -0.795 -3 -1.558 -2.683 -2.121 -2.121 C -2.683 -1.558 -3 -0.795 -3 0 C -3 0.795 -2.683 1.558 -2.121 2.121 C -1.558 2.683 -0.795 3 0 3 z
" style="fill: #8b0000; stroke: #8b0000" transform="translate(517.196 539.025)"/>
<path d="M 0 3 C 0.795 3 1.558 2.683 2.121 2.121 C 2.683 1.558 3 0.795 3 0 C 3 -0.795 2.683 -1.558 2.121 -2.121 C 1.558 -2.683 0.795 -3 0 -3 C -0.795 -3 -1.558 -2.683 -2.121 -2.121 C -2.683 -1.558 -3 -0.795 -3 0 C -3 0.795 -2.683 1.558 -2.121 2.121 C -1.558 2.683 -0.795 3 0 3 z
" style="fill: #8b0000; stroke: #8b0000" transform="translate(524.815 606.651)"/>
<path d="M 0 3 C 0.795 3 1.558 2.683 2.121 2.121 C 2.683 1.558 3 0.795 3 0 C 3 -0.795 2.683 -1.558 2.121 -2.121 C 1.558 -2.683 0.795 -3 0 -3 C -0.795 -3 -1.558 -2.683 -2.121 -2.121 C -2.683 -1.558 -3 -0.795 -3 0 C -3 0.795 -2.683 1.558 -2.121 2.121 C -1.558 2.683 -0.795 3 0 3 z
" style="fill: #8b0000; stroke: #8b0000" transform="translate(532.434 606.651)"/>
<path d="M 0 3 C 0.795 3 1.558 2.683 2.121 2.121 C 2.683 1.558 3 0.795 3 0 C 3 -0.795 2.683 -1.558 2.121 -2.121 C 1.558 -2.683 0.795 -3 0 -3 C -0.795 -3 -1.558 -2.683 -2.121 -2.121 C -2.683 -1.558 -3 -0.795 -3 0 C -3 0.795 -2.683 1.558 -2.121 2.121 C -1.558 2.683 -0.795 3 0 3 z
" style="fill: #8b0000; stroke: #8b0000" transform="translate(540.054 606.651)"/>
<path d="M 0 3 C 0.795 3 1.558 2.683 2.121 2.121 C 2.683 1.558 3 0.795 3 0 C 3 -0.795 2.683 -1.558 2.121 -2.121 C 1.558 -2.683 0.795 -3 0 -3 C -0.795 -3 -1.558 -2.683 -2.121 -2.121 C -2.683 -1.558 -3 -0.795 -3 0 C -3 0.795 -2.683 1.558 -2.121 2.121 C -1.558 2.683 -0.795 3 0 3 z
" style="fill: #8b0000; stroke: #8b0000" transform="translate(547.673 606.651)"/>
<path d="M 0 3 C 0.795 3 1.558 2.683 2.121 2.121 C 2.683 1.558 3 0.795 3 0 C 3 -0.795 2.683 -1.558 2.121 -2.121 C 1.558 -2.683 0.795 -3 0 -3 C -0.795 -3 -1.558 -2.683 -2.121 -2.121 C -2.683 -1.558 -3 -0.795 -3 0 C -3 0.795 -2.683 1.558 -2.121 2.121 C -1.558 2.683 -0.795 3 0 3 z
" style="fill: #8b0000; stroke: #8b0000" transform="translate(555.292 606.651)"/>
<path d="M 0 3 C 0.795 3 1.558 2.683 2.121 2.121 C 2.683 1.558 3 0.795 3 0 C 3 -0.795 2.683 -1.558 2.121 -2.121 C 1.558 -2.683 0.795 -3 0 -3 C -0.795 -3 -1.558 -2.683 -2.121 -2.121 C -2.683 -1.558 -3 -0.795 -3 0 C -3 0.795 -2.683 1.558 -2.121 2.121 C -1.558 2.683 -0.795 3 0 3 z
" style="fill: #8b0000; stroke: #8b0000" transform="translate(562.911 606.651)"/>
<path d="M 0 3 C 0.795 3 1.558 2.683 2.121 2.121 C 2.683 1.558 3 0.795 3 0 C 3 -0.795 2.683 -1.558 2.121 -2.121 C 1.558 -2.683 0.795 -3 0 -3 C -0.795 -3 -1.558 -2.683 -2.121 -2.121 C -2.683 -1.558 -3 -0.795 -3 0 C -3 0.795 -2.683 1.558 -2.121 2.121 C -1.558 2.683 -0.795 3 0 3 z
" style="fill: #8b0000; stroke: #8b0000" transform="translate(570.530 606.651)"/>
<path d="M 0 3 C 0.795 3 1.558 2.683 2.121 2.121 C 2.683 1.558 3 0.795 3 0 C 3 -0.795 2.683 -1.558 2.121 -2.121 C 1.558 -2.683 0.795 -3 0 -3 C -0.795 -3 -1.558 -2.683 -2.121 -2.121 C -2.683 -1.558 -3 -0.795 -3 0 C -3 0.795 -2.683 1.558 -2.121 2.121 C -1.558 2.683 -0.795 3 0 3 z
" style="fill: #8b0000; stroke: #8b0000" transform="translate(578.149 606.651)"/>
<path d="M 0 3 C 0.795 3 1.558 2.683 2.121 2.121 C 2.683 1.558 3 0.795 3 0 C 3 -0.795 2.683 -1.558 2.121 -2.121 C 1.558 -2.683 0.795 -3 0 -3 C -0.795 -3 -1.558 -2.683 -2.121 -2.121 C -2.683 -1.558 -3 -0.795 -3 0 C -3 0.795 -2.683 1.558 -2.121 2.121 C -1.558 2.683 -0.795 3 0 3 z
" style="fill: #8b0000; stroke: #8b0000" transform="translate(585.768 606.651)"/>
<path d="M 0 3 C 0.795 3 1.558 2.683 2.121 2.121 C 2.683 1.558 3 0.795 3 0 C 3 -0.795 2.683 -1.558 2.121 -2.121 C 1.558 -2.683 0.795 -3 0 -3 C -0.795 -3 -1.558 -2.683 -2.121 -2.121 C -2.683 -1.558 -3 -0.795 -3 0 C -3 0.795 -2.683 1.558 -2.121 2.121 C -1.558 2.683 -0.795 3 0 3 z
" style="fill: #8b0000; stroke: #8b0000" transform="translate(593.388 606.651)"/>
<path d="M 0 3 C 0.795 3 1.558 2.683 2.121 2.121 C 2.683 1.558 3 0.795 3 0 C 3 -0.795 2.683 -1.558 2.121 -2.121 C 1.558 -2.683 0.795 -3 0 -3 C -0.795 -3 -1.558 -2.683 -2.121 -2.121 C -2.683 -1.558 -3 -0.795 -3 0 C -3 0.795 -2.683 1.558 -2.121 2.121 C -1.558 2.683 -0.795 3 0 3 z
" style="fill: #8b0000; stroke: #8b0000" transform="translate(601.007 606.651)"/>
</g>
</g>
<g id="line2d_90">
<path d="M 494.307 -1 L 494.339 605.295 L 501.958 605.295 L 509.577 605.295 L 517.196 537.669 L 524.815 605.295 L 532.434 605.295 L 540.054 605.295 L 547.673 605.295 L 555.292 605.295 L 562.911 605.295 L 570.530 605.295 L 578.149 605.295 L 585.768 605.295 L 593.388 605.295 L 601.007 605.295 " clip-path="url(#p2cb474c598)" style="fill: none; stroke: #000000; stroke-width: 2; stroke-linecap: square"/>
</g>
<g id="patch_50">
<path d="M 487.460 606.651 L 487.460 471.785 " style="fill: none; stroke: #000000; stroke-width: 0.8; stroke-linejoin: miter; stroke-linecap: square"/>
</g>
<g id="patch_51">
<path d="M 609.366 606.651 L 609.366 471.785 " style="fill: none; stroke: #000000; stroke-width: 0.8; stroke-linejoin: miter; stroke-linecap: square"/>
</g>
<g id="patch_52">
<path d="M 487.460 606.651 L 609.366 606.651 " style="fill: none; stroke: #000000; stroke-width: 0.8; stroke-linejoin: miter; stroke-linecap: square"/>
</g>
<g id="patch_53">
<path d="M 487.460 471.785 L 609.366 471.785 " style="fill: none; stroke: #000000; stroke-width: 0.8; stroke-linejoin: miter; stroke-linecap: square"/>
</g>
</g>
<g id="axes_12">
<g id="patch_54">
<path d="M 621.380 606.651 L 742.381 606.651 L 742.381 471.785 L 621.380 471.785 z
" style="fill: #ffffff"/>
</g>
<g id="matplotlib.axis_20">
<g id="xtick_31">
<g id="line2d_91">
<g>
<path d="M 0 0 L 0 3.5 " style="stroke: #000000; stroke-width: 0.8" transform="translate(621.380 606.651)"/>
</g>
</g>
<g id="text_81">
<text style="font-size: 14.6px; font-family: 'DejaVu Sans', sans-serif; text-anchor: middle" x="620.881" y="623.495" transform="rotate(-0 620.881 623.495)">0</text>
</g>
</g>
<g id="xtick_32">
<g id="line2d_92">
<g>
<path d="M 0 0 L 0 3.5 " style="stroke: #000000; stroke-width: 0.8" transform="translate(681.881 606.651)"/>
</g>
</g>
<g id="text_82">
<text style="font-size: 14.6px; font-family: 'DejaVu Sans', sans-serif; text-anchor: middle" x="681.381" y="623.495" transform="rotate(-0 681.381 623.495)">2</text>
</g>
</g>
<g id="xtick_33">
<g id="line2d_93">
<g>
<path d="M 0 0 L 0 3.5 " style="stroke: #000000; stroke-width: 0.8" transform="translate(742.381 606.651)"/>
</g>
</g>
<g id="text_83">
<text style="font-size: 14.6px; font-family: 'DejaVu Sans', sans-serif; text-anchor: middle" x="741.882" y="623.495" transform="rotate(-0 741.882 623.495)">4</text>
</g>
</g>
<g id="text_84">
<g transform="translate(660.131 644.379)">
<text>
<tspan x="0" y="-0.625" style="font-style: oblique; font-size: 15px; font-family: 'DejaVu Sans', sans-serif">ω</tspan>
<tspan x="18.413" y="-0.625" style="font-style: oblique; font-size: 15px; font-family: 'DejaVu Sans', sans-serif">H</tspan>
<tspan x="29.692" y="-0.625" style="font-style: oblique; font-size: 15px; font-family: 'DejaVu Sans', sans-serif">z</tspan>
<tspan x="12.561" y="-0.625" style="font-style: oblique; font-size: 15px; font-family: 'DejaVu Sans', sans-serif">(</tspan>
<tspan x="37.565" y="-0.625" style="font-style: oblique; font-size: 15px; font-family: 'DejaVu Sans', sans-serif">)</tspan>
</text>
</g>
</g>
</g>
<g id="matplotlib.axis_21">
<g id="ytick_42">
<g id="line2d_94">
<g>
<path d="M 0 0 L -3.5 0 " style="stroke: #000000; stroke-width: 0.8" transform="translate(621.380 606.651)"/>
</g>
</g>
</g>
<g id="ytick_43">
<g id="line2d_95">
<g>
<path d="M 0 0 L -3.5 0 " style="stroke: #000000; stroke-width: 0.8" transform="translate(621.380 568.118)"/>
</g>
</g>
</g>
<g id="ytick_44">
<g id="line2d_96">
<g>
<path d="M 0 0 L -3.5 0 " style="stroke: #000000; stroke-width: 0.8" transform="translate(621.380 529.584)"/>
</g>
</g>
</g>
<g id="ytick_45">
<g id="line2d_97">
<g>
<path d="M 0 0 L -3.5 0 " style="stroke: #000000; stroke-width: 0.8" transform="translate(621.380 491.051)"/>
</g>
</g>
</g>
</g>
<g id="line2d_98">
<g clip-path="url(#pa6eea6b3a2)">
<path d="M 0 3 C 0.795 3 1.558 2.683 2.121 2.121 C 2.683 1.558 3 0.795 3 0 C 3 -0.795 2.683 -1.558 2.121 -2.121 C 1.558 -2.683 0.795 -3 0 -3 C -0.795 -3 -1.558 -2.683 -2.121 -2.121 C -2.683 -1.558 -3 -0.795 -3 0 C -3 0.795 -2.683 1.558 -2.121 2.121 C -1.558 2.683 -0.795 3 0 3 z
" style="fill: #8b0000; stroke: #8b0000" transform="translate(620.64 606.651)"/>
<path d="M 0 3 C 0.795 3 1.558 2.683 2.121 2.121 C 2.683 1.558 3 0.795 3 0 C 3 -0.795 2.683 -1.558 2.121 -2.121 C 1.558 -2.683 0.795 -3 0 -3 C -0.795 -3 -1.558 -2.683 -2.121 -2.121 C -2.683 -1.558 -3 -0.795 -3 0 C -3 0.795 -2.683 1.558 -2.121 2.121 C -1.558 2.683 -0.795 3 0 3 z
" style="fill: #8b0000; stroke: #8b0000" transform="translate(628.202 606.651)"/>
<path d="M 0 3 C 0.795 3 1.558 2.683 2.121 2.121 C 2.683 1.558 3 0.795 3 0 C 3 -0.795 2.683 -1.558 2.121 -2.121 C 1.558 -2.683 0.795 -3 0 -3 C -0.795 -3 -1.558 -2.683 -2.121 -2.121 C -2.683 -1.558 -3 -0.795 -3 0 C -3 0.795 -2.683 1.558 -2.121 2.121 C -1.558 2.683 -0.795 3 0 3 z
" style="fill: #8b0000; stroke: #8b0000" transform="translate(635.765 606.651)"/>
<path d="M 0 3 C 0.795 3 1.558 2.683 2.121 2.121 C 2.683 1.558 3 0.795 3 0 C 3 -0.795 2.683 -1.558 2.121 -2.121 C 1.558 -2.683 0.795 -3 0 -3 C -0.795 -3 -1.558 -2.683 -2.121 -2.121 C -2.683 -1.558 -3 -0.795 -3 0 C -3 0.795 -2.683 1.558 -2.121 2.121 C -1.558 2.683 -0.795 3 0 3 z
" style="fill: #8b0000; stroke: #8b0000" transform="translate(643.327 606.651)"/>
<path d="M 0 3 C 0.795 3 1.558 2.683 2.121 2.121 C 2.683 1.558 3 0.795 3 0 C 3 -0.795 2.683 -1.558 2.121 -2.121 C 1.558 -2.683 0.795 -3 0 -3 C -0.795 -3 -1.558 -2.683 -2.121 -2.121 C -2.683 -1.558 -3 -0.795 -3 0 C -3 0.795 -2.683 1.558 -2.121 2.121 C -1.558 2.683 -0.795 3 0 3 z
" style="fill: #8b0000; stroke: #8b0000" transform="translate(650.890 555.594)"/>
<path d="M 0 3 C 0.795 3 1.558 2.683 2.121 2.121 C 2.683 1.558 3 0.795 3 0 C 3 -0.795 2.683 -1.558 2.121 -2.121 C 1.558 -2.683 0.795 -3 0 -3 C -0.795 -3 -1.558 -2.683 -2.121 -2.121 C -2.683 -1.558 -3 -0.795 -3 0 C -3 0.795 -2.683 1.558 -2.121 2.121 C -1.558 2.683 -0.795 3 0 3 z
" style="fill: #8b0000; stroke: #8b0000" transform="translate(658.452 607.807)"/>
<path d="M 0 3 C 0.795 3 1.558 2.683 2.121 2.121 C 2.683 1.558 3 0.795 3 0 C 3 -0.795 2.683 -1.558 2.121 -2.121 C 1.558 -2.683 0.795 -3 0 -3 C -0.795 -3 -1.558 -2.683 -2.121 -2.121 C -2.683 -1.558 -3 -0.795 -3 0 C -3 0.795 -2.683 1.558 -2.121 2.121 C -1.558 2.683 -0.795 3 0 3 z
" style="fill: #8b0000; stroke: #8b0000" transform="translate(666.015 606.651)"/>
<path d="M 0 3 C 0.795 3 1.558 2.683 2.121 2.121 C 2.683 1.558 3 0.795 3 0 C 3 -0.795 2.683 -1.558 2.121 -2.121 C 1.558 -2.683 0.795 -3 0 -3 C -0.795 -3 -1.558 -2.683 -2.121 -2.121 C -2.683 -1.558 -3 -0.795 -3 0 C -3 0.795 -2.683 1.558 -2.121 2.121 C -1.558 2.683 -0.795 3 0 3 z
" style="fill: #8b0000; stroke: #8b0000" transform="translate(673.578 606.651)"/>
<path d="M 0 3 C 0.795 3 1.558 2.683 2.121 2.121 C 2.683 1.558 3 0.795 3 0 C 3 -0.795 2.683 -1.558 2.121 -2.121 C 1.558 -2.683 0.795 -3 0 -3 C -0.795 -3 -1.558 -2.683 -2.121 -2.121 C -2.683 -1.558 -3 -0.795 -3 0 C -3 0.795 -2.683 1.558 -2.121 2.121 C -1.558 2.683 -0.795 3 0 3 z
" style="fill: #8b0000; stroke: #8b0000" transform="translate(681.140 606.651)"/>
<path d="M 0 3 C 0.795 3 1.558 2.683 2.121 2.121 C 2.683 1.558 3 0.795 3 0 C 3 -0.795 2.683 -1.558 2.121 -2.121 C 1.558 -2.683 0.795 -3 0 -3 C -0.795 -3 -1.558 -2.683 -2.121 -2.121 C -2.683 -1.558 -3 -0.795 -3 0 C -3 0.795 -2.683 1.558 -2.121 2.121 C -1.558 2.683 -0.795 3 0 3 z
" style="fill: #8b0000; stroke: #8b0000" transform="translate(688.703 606.651)"/>
<path d="M 0 3 C 0.795 3 1.558 2.683 2.121 2.121 C 2.683 1.558 3 0.795 3 0 C 3 -0.795 2.683 -1.558 2.121 -2.121 C 1.558 -2.683 0.795 -3 0 -3 C -0.795 -3 -1.558 -2.683 -2.121 -2.121 C -2.683 -1.558 -3 -0.795 -3 0 C -3 0.795 -2.683 1.558 -2.121 2.121 C -1.558 2.683 -0.795 3 0 3 z
" style="fill: #8b0000; stroke: #8b0000" transform="translate(696.265 606.651)"/>
<path d="M 0 3 C 0.795 3 1.558 2.683 2.121 2.121 C 2.683 1.558 3 0.795 3 0 C 3 -0.795 2.683 -1.558 2.121 -2.121 C 1.558 -2.683 0.795 -3 0 -3 C -0.795 -3 -1.558 -2.683 -2.121 -2.121 C -2.683 -1.558 -3 -0.795 -3 0 C -3 0.795 -2.683 1.558 -2.121 2.121 C -1.558 2.683 -0.795 3 0 3 z
" style="fill: #8b0000; stroke: #8b0000" transform="translate(703.828 606.651)"/>
<path d="M 0 3 C 0.795 3 1.558 2.683 2.121 2.121 C 2.683 1.558 3 0.795 3 0 C 3 -0.795 2.683 -1.558 2.121 -2.121 C 1.558 -2.683 0.795 -3 0 -3 C -0.795 -3 -1.558 -2.683 -2.121 -2.121 C -2.683 -1.558 -3 -0.795 -3 0 C -3 0.795 -2.683 1.558 -2.121 2.121 C -1.558 2.683 -0.795 3 0 3 z
" style="fill: #8b0000; stroke: #8b0000" transform="translate(711.390 606.651)"/>
<path d="M 0 3 C 0.795 3 1.558 2.683 2.121 2.121 C 2.683 1.558 3 0.795 3 0 C 3 -0.795 2.683 -1.558 2.121 -2.121 C 1.558 -2.683 0.795 -3 0 -3 C -0.795 -3 -1.558 -2.683 -2.121 -2.121 C -2.683 -1.558 -3 -0.795 -3 0 C -3 0.795 -2.683 1.558 -2.121 2.121 C -1.558 2.683 -0.795 3 0 3 z
" style="fill: #8b0000; stroke: #8b0000" transform="translate(718.953 606.651)"/>
<path d="M 0 3 C 0.795 3 1.558 2.683 2.121 2.121 C 2.683 1.558 3 0.795 3 0 C 3 -0.795 2.683 -1.558 2.121 -2.121 C 1.558 -2.683 0.795 -3 0 -3 C -0.795 -3 -1.558 -2.683 -2.121 -2.121 C -2.683 -1.558 -3 -0.795 -3 0 C -3 0.795 -2.683 1.558 -2.121 2.121 C -1.558 2.683 -0.795 3 0 3 z
" style="fill: #8b0000; stroke: #8b0000" transform="translate(726.516 606.651)"/>
<path d="M 0 3 C 0.795 3 1.558 2.683 2.121 2.121 C 2.683 1.558 3 0.795 3 0 C 3 -0.795 2.683 -1.558 2.121 -2.121 C 1.558 -2.683 0.795 -3 0 -3 C -0.795 -3 -1.558 -2.683 -2.121 -2.121 C -2.683 -1.558 -3 -0.795 -3 0 C -3 0.795 -2.683 1.558 -2.121 2.121 C -1.558 2.683 -0.795 3 0 3 z
" style="fill: #8b0000; stroke: #8b0000" transform="translate(734.078 606.651)"/>
</g>
</g>
<g id="line2d_99">
<path d="M 620.64 606.651 L 628.202 468.936 L 635.765 538.462 L 643.327 561.937 L 650.890 522.849 L 658.452 581.275 L 666.015 586.351 L 673.578 590.124 L 681.140 593.087 L 688.703 595.519 L 696.265 597.588 L 703.828 599.401 L 711.390 601.033 L 718.953 602.536 L 726.516 603.953 L 734.078 605.315 " clip-path="url(#pa6eea6b3a2)" style="fill: none; stroke: #000000; stroke-width: 2; stroke-linecap: square"/>
</g>
<g id="patch_55">
<path d="M 621.380 606.651 L 621.380 471.785 " style="fill: none; stroke: #000000; stroke-width: 0.8; stroke-linejoin: miter; stroke-linecap: square"/>
</g>
<g id="patch_56">
<path d="M 742.381 606.651 L 742.381 471.785 " style="fill: none; stroke: #000000; stroke-width: 0.8; stroke-linejoin: miter; stroke-linecap: square"/>
</g>
<g id="patch_57">
<path d="M 621.380 606.651 L 742.381 606.651 " style="fill: none; stroke: #000000; stroke-width: 0.8; stroke-linejoin: miter; stroke-linecap: square"/>
</g>
<g id="patch_58">
<path d="M 621.380 471.785 L 742.381 471.785 " style="fill: none; stroke: #000000; stroke-width: 0.8; stroke-linejoin: miter; stroke-linecap: square"/>
</g>
</g>
<g id="lab_a">
<text style="font-weight: 700; font-size: 14.4px; font-family: 'DejaVu Sans', sans-serif; text-anchor: start" x="312.394" y="56.859" transform="rotate(-0 312.394 56.859)">(a)</text>
</g>
<g id="lab_d">
<text style="font-weight: 700; font-size: 14.4px; font-family: 'DejaVu Sans', sans-serif; text-anchor: start" x="573.322" y="56.859" transform="rotate(-0 573.322 56.859)">(d)</text>
</g>
<g id="lab_e">
<text style="font-weight: 700; font-size: 14.4px; font-family: 'DejaVu Sans', sans-serif; text-anchor: start" x="706.008" y="56.859" transform="rotate(-0 706.008 56.859)">(e)</text>
</g>
<g id="re_a">
<g transform="translate(561.878 139.515)">
<text>
<tspan x="0" y="-0.515" style="font-style: oblique; font-size: 13px; font-family: 'DejaVu Sans', sans-serif">R</tspan>
<tspan x="9.032" y="-0.515" style="font-style: oblique; font-size: 13px; font-family: 'DejaVu Sans', sans-serif">e</tspan>
<tspan x="25.301" y="-0.515" style="font-style: oblique; font-size: 13px; font-family: 'DejaVu Sans', sans-serif">V</tspan>
<tspan x="17.030" y="-0.515" style="font-size: 13px; font-family: 'DejaVu Sans', sans-serif">{</tspan>
<tspan x="34.194" y="-0.515" style="font-size: 13px; font-family: 'DejaVu Sans', sans-serif">}</tspan>
</text>
<text transform="translate(24.477 -8.329) scale(1.130 1)" style="font-weight: 200; font-size: 13.000px; font-family: 'DejaVu Sans', sans-serif; stroke: #000000; stroke-width: 0.220">~</text>
</g>
</g>
<g id="im_a">
<g transform="translate(659.609 139.556)">
<text>
<tspan x="0" y="-0.515" style="font-size: 13px; font-family: 'DejaVu Sans', sans-serif">-</tspan>
<tspan x="4.690" y="-0.515" style="font-size: 13px; font-family: 'DejaVu Sans', sans-serif">1</tspan>
<tspan x="12.961" y="-0.515" style="font-size: 13px; font-family: 'DejaVu Sans', sans-serif">0</tspan>
<tspan x="21.232" y="-0.515" style="font-size: 13px; font-family: 'DejaVu Sans', sans-serif"> </tspan>
<tspan x="25.365" y="-0.515" style="font-size: 13px; font-family: 'DejaVu Sans', sans-serif">*</tspan>
<tspan x="31.865" y="-0.515" style="font-size: 13px; font-family: 'DejaVu Sans', sans-serif"> </tspan>
<tspan x="52.495" y="-0.515" style="font-size: 13px; font-family: 'DejaVu Sans', sans-serif">{</tspan>
<tspan x="69.659" y="-0.515" style="font-size: 13px; font-family: 'DejaVu Sans', sans-serif">}</tspan>
<tspan x="35.997" y="-0.515" style="font-style: oblique; font-size: 13px; font-family: 'DejaVu Sans', sans-serif">I</tspan>
<tspan x="39.831" y="-0.515" style="font-style: oblique; font-size: 13px; font-family: 'DejaVu Sans', sans-serif">m</tspan>
<tspan x="60.766" y="-0.515" style="font-style: oblique; font-size: 13px; font-family: 'DejaVu Sans', sans-serif">V</tspan>
</text>
<text transform="translate(59.941 -8.329) scale(1.130 1)" style="font-weight: 200; font-size: 13.000px; font-family: 'DejaVu Sans', sans-serif; stroke: #000000; stroke-width: 0.220">~</text>
</g>
</g>
<g id="title_a">
<g transform="translate(363.828 14.564)">
<text>
<tspan x="0" y="-0.640" style="font-style: oblique; font-size: 18px; font-family: 'DejaVu Sans', sans-serif">t</tspan>
<tspan x="7.057" y="2.312" style="font-style: oblique; font-size: 12.6px; font-family: 'DejaVu Sans', sans-serif">b</tspan>
<tspan x="19.054" y="-0.640" style="font-size: 18px; font-family: 'DejaVu Sans', sans-serif">=</tspan>
<tspan x="37.643" y="-0.640" style="font-size: 18px; font-family: 'DejaVu Sans', sans-serif">3</tspan>
<tspan x="49.095" y="-0.640" style="font-size: 18px; font-family: 'DejaVu Sans', sans-serif">6</tspan>
<tspan x="60.547" y="-0.640" style="font-size: 18px; font-family: 'DejaVu Sans', sans-serif">6</tspan>
<tspan x="72" y="-0.640" style="font-size: 18px; font-family: 'DejaVu Sans', sans-serif">s</tspan>
</text>
</g>
</g>
<g id="lab_b">
<text style="font-weight: 700; font-size: 14.4px; font-family: 'DejaVu Sans', sans-serif; text-anchor: start" x="311.242" y="269.197" transform="rotate(-0 311.242 269.197)">(b)</text>
</g>
<g id="lab_f">
<text style="font-weight: 700; font-size: 14.4px; font-family: 'DejaVu Sans', sans-serif; text-anchor: start" x="574.104" y="269.197" transform="rotate(-0 574.104 269.197)">(f)</text>
</g>
<g id="lab_g">
<text style="font-weight: 700; font-size: 14.4px; font-family: 'DejaVu Sans', sans-serif; text-anchor: start" x="707.571" y="269.197" transform="rotate(-0 707.571 269.197)">(g)</text>
</g>
<g id="re_b">
<g transform="translate(562.536 352.265)">
<text>
<tspan x="0" y="-0.515" style="font-style: oblique; font-size: 13px; font-family: 'DejaVu Sans', sans-serif">R</tspan>
<tspan x="9.032" y="-0.515" style="font-style: oblique; font-size: 13px; font-family: 'DejaVu Sans', sans-serif">e</tspan>
<tspan x="25.301" y="-0.515" style="font-style: oblique; font-size: 13px; font-family: 'DejaVu Sans', sans-serif">V</tspan>
<tspan x="17.030" y="-0.515" style="font-size: 13px; font-family: 'DejaVu Sans', sans-serif">{</tspan>
<tspan x="34.194" y="-0.515" style="font-size: 13px; font-family: 'DejaVu Sans', sans-serif">}</tspan>
</text>
<text transform="translate(24.477 -8.329) scale(1.130 1)" style="font-weight: 200; font-size: 13.000px; font-family: 'DejaVu Sans', sans-serif; stroke: #000000; stroke-width: 0.220">~</text>
</g>
</g>
<g id="im_b">
<g transform="translate(661.337 352.306)">
<text>
<tspan x="0" y="-0.515" style="font-size: 13px; font-family: 'DejaVu Sans', sans-serif">-</tspan>
<tspan x="4.690" y="-0.515" style="font-size: 13px; font-family: 'DejaVu Sans', sans-serif">1</tspan>
<tspan x="12.961" y="-0.515" style="font-size: 13px; font-family: 'DejaVu Sans', sans-serif">0</tspan>
<tspan x="21.232" y="-0.515" style="font-size: 13px; font-family: 'DejaVu Sans', sans-serif"> </tspan>
<tspan x="25.365" y="-0.515" style="font-size: 13px; font-family: 'DejaVu Sans', sans-serif">*</tspan>
<tspan x="31.865" y="-0.515" style="font-size: 13px; font-family: 'DejaVu Sans', sans-serif"> </tspan>
<tspan x="52.495" y="-0.515" style="font-size: 13px; font-family: 'DejaVu Sans', sans-serif">{</tspan>
<tspan x="69.659" y="-0.515" style="font-size: 13px; font-family: 'DejaVu Sans', sans-serif">}</tspan>
<tspan x="35.997" y="-0.515" style="font-style: oblique; font-size: 13px; font-family: 'DejaVu Sans', sans-serif">I</tspan>
<tspan x="39.831" y="-0.515" style="font-style: oblique; font-size: 13px; font-family: 'DejaVu Sans', sans-serif">m</tspan>
<tspan x="60.766" y="-0.515" style="font-style: oblique; font-size: 13px; font-family: 'DejaVu Sans', sans-serif">V</tspan>
</text>
<text transform="translate(59.941 -8.329) scale(1.130 1)" style="font-weight: 200; font-size: 13.000px; font-family: 'DejaVu Sans', sans-serif; stroke: #000000; stroke-width: 0.220">~</text>
</g>
</g>
<g id="title_b">
<g transform="translate(357.541 226.285)">
<text>
<tspan x="0" y="-0.640" style="font-style: oblique; font-size: 18px; font-family: 'DejaVu Sans', sans-serif">t</tspan>
<tspan x="7.057" y="2.312" style="font-style: oblique; font-size: 12.6px; font-family: 'DejaVu Sans', sans-serif">b</tspan>
<tspan x="19.054" y="-0.640" style="font-size: 18px; font-family: 'DejaVu Sans', sans-serif">=</tspan>
<tspan x="37.643" y="-0.640" style="font-size: 18px; font-family: 'DejaVu Sans', sans-serif">1</tspan>
<tspan x="49.095" y="-0.640" style="font-size: 18px; font-family: 'DejaVu Sans', sans-serif">8</tspan>
<tspan x="60.547" y="-0.640" style="font-size: 18px; font-family: 'DejaVu Sans', sans-serif">2</tspan>
<tspan x="72" y="-0.640" style="font-size: 18px; font-family: 'DejaVu Sans', sans-serif">8</tspan>
<tspan x="83.452" y="-0.640" style="font-size: 18px; font-family: 'DejaVu Sans', sans-serif">s</tspan>
</text>
</g>
</g>
<g id="lab_c">
<text style="font-weight: 700; font-size: 14.4px; font-family: 'DejaVu Sans', sans-serif; text-anchor: start" x="313.299" y="489.538" transform="rotate(-0 313.299 489.538)">(c)</text>
</g>
<g id="lab_h">
<text style="font-weight: 700; font-size: 14.4px; font-family: 'DejaVu Sans', sans-serif; text-anchor: start" x="576.613" y="489.538" transform="rotate(-0 576.613 489.538)">(h)</text>
</g>
<g id="lab_i">
<text style="font-weight: 700; font-size: 14.4px; font-family: 'DejaVu Sans', sans-serif; text-anchor: start" x="710.657" y="489.538" transform="rotate(-0 710.657 489.538)">(i)</text>
</g>
<g id="re_c">
<g transform="translate(565.375 572.914)">
<text>
<tspan x="0" y="-0.515" style="font-style: oblique; font-size: 13px; font-family: 'DejaVu Sans', sans-serif">R</tspan>
<tspan x="9.032" y="-0.515" style="font-style: oblique; font-size: 13px; font-family: 'DejaVu Sans', sans-serif">e</tspan>
<tspan x="25.301" y="-0.515" style="font-style: oblique; font-size: 13px; font-family: 'DejaVu Sans', sans-serif">V</tspan>
<tspan x="17.030" y="-0.515" style="font-size: 13px; font-family: 'DejaVu Sans', sans-serif">{</tspan>
<tspan x="34.194" y="-0.515" style="font-size: 13px; font-family: 'DejaVu Sans', sans-serif">}</tspan>
</text>
<text transform="translate(24.477 -8.329) scale(1.130 1)" style="font-weight: 200; font-size: 13.000px; font-family: 'DejaVu Sans', sans-serif; stroke: #000000; stroke-width: 0.220">~</text>
</g>
</g>
<g id="im_c">
<g transform="translate(664.299 572.873)">
<text>
<tspan x="0" y="-0.515" style="font-size: 13px; font-family: 'DejaVu Sans', sans-serif">-</tspan>
<tspan x="4.690" y="-0.515" style="font-size: 13px; font-family: 'DejaVu Sans', sans-serif">1</tspan>
<tspan x="12.961" y="-0.515" style="font-size: 13px; font-family: 'DejaVu Sans', sans-serif">0</tspan>
<tspan x="21.232" y="-0.515" style="font-size: 13px; font-family: 'DejaVu Sans', sans-serif"> </tspan>
<tspan x="25.365" y="-0.515" style="font-size: 13px; font-family: 'DejaVu Sans', sans-serif">*</tspan>
<tspan x="31.865" y="-0.515" style="font-size: 13px; font-family: 'DejaVu Sans', sans-serif"> </tspan>
<tspan x="52.495" y="-0.515" style="font-size: 13px; font-family: 'DejaVu Sans', sans-serif">{</tspan>
<tspan x="69.659" y="-0.515" style="font-size: 13px; font-family: 'DejaVu Sans', sans-serif">}</tspan>
<tspan x="35.997" y="-0.515" style="font-style: oblique; font-size: 13px; font-family: 'DejaVu Sans', sans-serif">I</tspan>
<tspan x="39.831" y="-0.515" style="font-style: oblique; font-size: 13px; font-family: 'DejaVu Sans', sans-serif">m</tspan>
<tspan x="60.766" y="-0.515" style="font-style: oblique; font-size: 13px; font-family: 'DejaVu Sans', sans-serif">V</tspan>
</text>
<text transform="translate(59.941 -8.329) scale(1.130 1)" style="font-weight: 200; font-size: 13.000px; font-family: 'DejaVu Sans', sans-serif; stroke: #000000; stroke-width: 0.220">~</text>
</g>
</g>
<g id="title_c">
<g transform="translate(360.128 446.688)">
<text>
<tspan x="0" y="-0.640" style="font-style: oblique; font-size: 18px; font-family: 'DejaVu Sans', sans-serif">t</tspan>
<tspan x="7.057" y="2.312" style="font-style: oblique; font-size: 12.6px; font-family: 'DejaVu Sans', sans-serif">b</tspan>
<tspan x="19.054" y="-0.640" style="font-size: 18px; font-family: 'DejaVu Sans', sans-serif">=</tspan>
<tspan x="37.643" y="-0.640" style="font-size: 18px; font-family: 'DejaVu Sans', sans-serif">3</tspan>
<tspan x="49.095" y="-0.640" style="font-size: 18px; font-family: 'DejaVu Sans', sans-serif">2</tspan>
<tspan x="60.172" y="-0.640" style="font-size: 18px; font-family: 'DejaVu Sans', sans-serif">9</tspan>
<tspan x="71.625" y="-0.640" style="font-size: 18px; font-family: 'DejaVu Sans', sans-serif">1</tspan>
<tspan x="83.077" y="-0.640" style="font-size: 18px; font-family: 'DejaVu Sans', sans-serif">s</tspan>
</text>
</g>
</g>
</g>
<defs>
<clipPath id="p43261beec4">
<rect x="83.725" y="39.168" width="260.845" height="133.590"/>
</clipPath>
<clipPath id="pedec864f1b">
<rect x="83.725" y="39.168" width="260.845" height="133.590"/>
</clipPath>
<clipPath id="pbd62ffe6f1">
<rect x="484.909" y="39.168" width="120.754" height="133.590"/>
</clipPath>
<clipPath id="pbe146e096d">
<rect x="617.677" y="39.168" width="119.766" height="133.590"/>
</clipPath>
<clipPath id="p86b52953e6">
<rect x="81.051" y="251.382" width="262.738" height="134.619"/>
</clipPath>
<clipPath id="p1815c2cba7">
<rect x="81.051" y="251.382" width="262.738" height="134.619"/>
</clipPath>
<clipPath id="p73b86fba43">
<rect x="484.950" y="251.382" width="121.494" height="134.619"/>
</clipPath>
<clipPath id="p7c59368cb9">
<rect x="618.706" y="251.382" width="120.548" height="134.619"/>
</clipPath>
<clipPath id="p7a83f4c533">
<rect x="82.614" y="471.785" width="263.232" height="134.866"/>
</clipPath>
<clipPath id="p36e7ce3ff7">
<rect x="82.614" y="471.785" width="263.232" height="134.866"/>
</clipPath>
<clipPath id="p2cb474c598">
<rect x="487.460" y="471.785" width="121.906" height="134.866"/>
</clipPath>
<clipPath id="pa6eea6b3a2">
<rect x="621.380" y="471.785" width="121.001" height="134.866"/>
</clipPath>
</defs>
</g></svg>

</div></body></html>
